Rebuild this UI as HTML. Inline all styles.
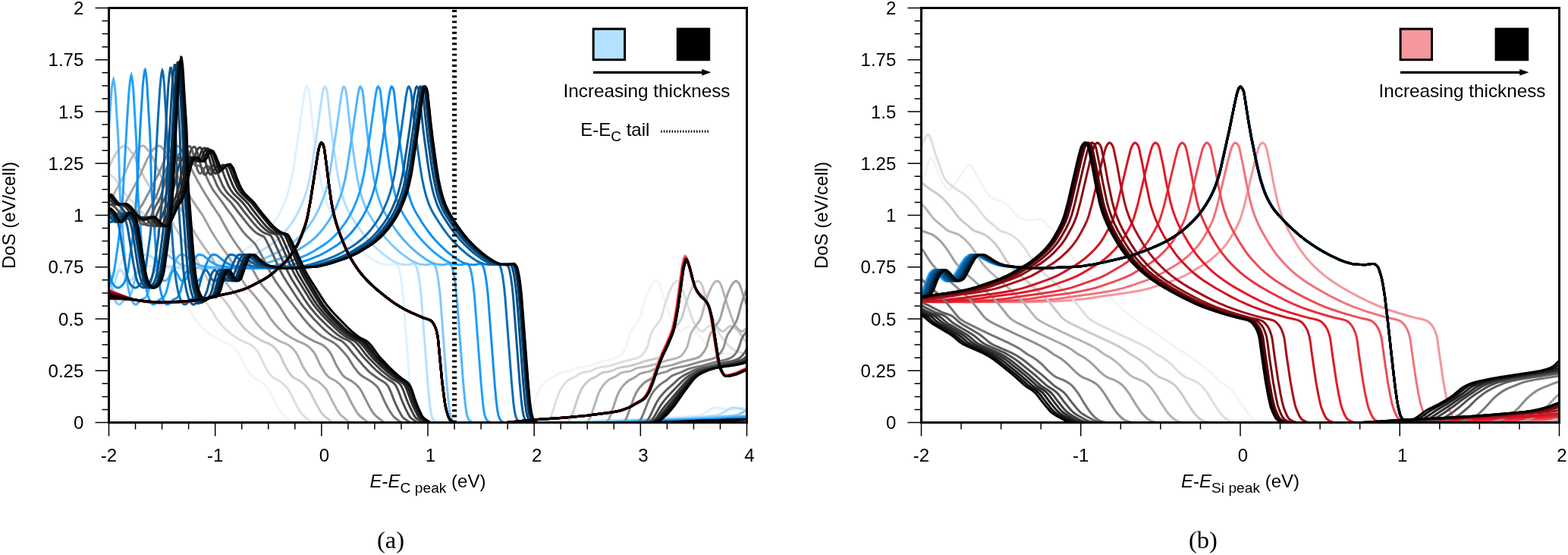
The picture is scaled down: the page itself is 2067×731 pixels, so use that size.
<!DOCTYPE html>
<html lang="en"><head><meta charset="utf-8"><title>DoS versus energy for increasing thickness</title>
<style>
html,body{margin:0;padding:0;background:#fff;}
body{width:2067px;height:731px;overflow:hidden;}
svg{display:block;}
text{font-family:'Liberation Sans', sans-serif;fill:#000;}
.tl{font-size:24px;}
.tk{stroke:#000;stroke-width:1.5;fill:none;}
.bd{stroke:#000;stroke-width:3;fill:none;}
.c{fill:none;stroke-width:3;stroke-linejoin:miter;stroke-linecap:butt;}
.cap{font-family:'Liberation Serif', serif;font-size:32.5px;}
.it{font-style:italic;}
.sub{font-size:19.2px;}
</style></head><body>
<svg width="2067" height="731" viewBox="0 0 2067 731">
<rect x="0" y="0" width="2067" height="731" fill="#fff"/>
<defs><clipPath id="clipA"><rect x="143.5" y="10.5" width="841" height="546"/></clipPath>
<clipPath id="clipB"><rect x="1214.5" y="10.5" width="841" height="546"/></clipPath></defs>
<g id="panel-a">
<g class="axis" id="axis-a">
<path class="tk" d="M143.5 556.5h-18M143.5 539.44h-9M143.5 522.38h-9M143.5 505.31h-9M143.5 488.25h-18M143.5 471.19h-9M143.5 454.12h-9M143.5 437.06h-9M143.5 420h-18M143.5 402.94h-9M143.5 385.88h-9M143.5 368.81h-9M143.5 351.75h-18M143.5 334.69h-9M143.5 317.62h-9M143.5 300.56h-9M143.5 283.5h-18M143.5 266.44h-9M143.5 249.38h-9M143.5 232.31h-9M143.5 215.25h-18M143.5 198.19h-9M143.5 181.12h-9M143.5 164.06h-9M143.5 147h-18M143.5 129.94h-9M143.5 112.88h-9M143.5 95.81h-9M143.5 78.75h-18M143.5 61.69h-9M143.5 44.62h-9M143.5 27.56h-9M143.5 10.5h-18M143.5 556.5v18M178.54 556.5v9M213.58 556.5v9M248.62 556.5v9M283.67 556.5v18M318.71 556.5v9M353.75 556.5v9M388.79 556.5v9M423.83 556.5v18M458.88 556.5v9M493.92 556.5v9M528.96 556.5v9M564 556.5v18M599.04 556.5v9M634.08 556.5v9M669.12 556.5v9M704.17 556.5v18M739.21 556.5v9M774.25 556.5v9M809.29 556.5v9M844.33 556.5v18M879.38 556.5v9M914.42 556.5v9M949.46 556.5v9M984.5 556.5v18"/>
<text class="tl" text-anchor="end" x="110.3" y="565.1">0</text>
<text class="tl" text-anchor="end" x="110.3" y="496.85">0.25</text>
<text class="tl" text-anchor="end" x="110.3" y="428.6">0.5</text>
<text class="tl" text-anchor="end" x="110.3" y="360.35">0.75</text>
<text class="tl" text-anchor="end" x="110.3" y="292.1">1</text>
<text class="tl" text-anchor="end" x="110.3" y="223.85">1.25</text>
<text class="tl" text-anchor="end" x="110.3" y="155.6">1.5</text>
<text class="tl" text-anchor="end" x="110.3" y="87.35">1.75</text>
<text class="tl" text-anchor="end" x="110.3" y="19.1">2</text>
<text class="tl" text-anchor="middle" x="143.5" y="608.1">-2</text>
<text class="tl" text-anchor="middle" x="283.67" y="608.1">-1</text>
<text class="tl" text-anchor="middle" x="427.33" y="608.1">0</text>
<text class="tl" text-anchor="middle" x="567.5" y="608.1">1</text>
<text class="tl" text-anchor="middle" x="707.67" y="608.1">2</text>
<text class="tl" text-anchor="middle" x="847.83" y="608.1">3</text>
<text class="tl" text-anchor="middle" x="988" y="608.1">4</text>
</g>
<g clip-path="url(#clipA)">
<path class="c" stroke="#f4f4f4" d="M142.1 262l12.7 13.7 12.3 12.3 .7 .9 12.3 18.2 8.4 13 13.7 19.2 2.9 4.7 6.6 12.1 6 10.4 4.9 7.9 3.6 4.7 8.1 8.8 9.1 11.3 4.2 6 8.5 13.6 5.6 7.2 3.9 4.5 3.5 3.6 4.2 3.6 4.2 3.1 5.3 3.4 5.6 3.1 4.9 2.5 7.1 2.8 2.8 1.5 3.2 2.1 3.5 3.3 3.1 3.7 1.8 2.5 2.1 4 5.6 12 5.7 9.1 1.4 2 2.4 2.8 2.1 1.7 2.2 1.3 5.6 2.9 3.1 2.3 3.2 2.7 3.2 3.2 2.4 3 1.8 2.8 7.4 14.8 4.9 9 2.8 4.4 4.2 4.6 5.3 4.1 3.2 2.8 2.1 1.2 1.1 .1 305.6-.1 1.1-.6 1.4-1.4 1.7-2.2 1.1-2 3.5-9.8 6-18.2 1.7-4.4 2.1-4.5 2.2-3.5 2.1-2.8 3.5-3.9 3.2-2.7 2.8-1.6 6.3-3 5.3-3.6 2.1-1.1 3.1-.8 8.8-1.5 1.8-.6 4.9-2.5 2.1-.8 4.6-1.1 9.9-1.6 4.2-.9 4.9-1.4 13.4-4.4 13.3-3.2 3.5-1.2 2.9-1.3 1.4-1 1.7-1.7 3.2-4.2 3.2-5.7 1-3.3 3.2-12.2 .7-2 1-2.3 2.5-4 7.7-10.6 1.8-3.2 1.4-4 4.2-15.3 3.9-11.3 2.8-6.9 2.8-5.7 1.8-2.9 2.4-2.4 1.8-1 1.4 .2 1.4 .9 1.4 1.3 1.1 1.9 1.7 4.8 8.5 26.7 6.3 17.6 1.4 3.2 1.4 2.4 3.2 3.7 2.1 2.1 2.1 1.2 1.1 .3 1-.1 1.8-1 4.2-4.1 2.1-1.4 1.1-.2 1 .1 2.8 1 4.6 3 1.4 1.3 2.1 2.9 5.7 8.7 6.3 7.4 3.5 3.7 2.1 1.7 2.1 1.3 4.9 2 4.3 1.5 6.6 1.7 3.2 .4 2.8 .1 10.2-.5 14.8-1.8"/>
<path class="c" stroke="#dff1ff" d="M142.1 366.7l1.8 2.4 .7 .7 .7 .2 1-.1 1.1-.3 1.7-1.1 1.1-.8 1.7-3.2 2.9-6.7 3.5-9.1 3.1-7 1.1-1.9 1.8-2.2 1.4-1.5 1-.6 .7-.1 2.1 .1 3.2 .7 1.4 .9 3.2 2.8 5.6 4.4 4.6 2.9 4.5 2.1 7.1 1.5 16.5 2.1 7.4 .5 14.1-.3 10.2-1 14.7-1.1 4.3-.7 5.2-1.1 9.2-2.5 16.5-5.5 6.7-2.7 6-2.6 9.1-4.8 12.3-7.6 7.4-5.4 7.1-6.2 5.2-5.5 5-6 5.9-8.4 4.3-6.8 3.8-7.3 3.5-7.7 3.9-9.8 2.8-8.5 3.5-13.8 2.9-14.2 8-53.6 4.3-30.8 2.4-16.1 1.8-7.5 .7-1.4 .3-.4 .4-.1 .7 .8 1 2 .8 2.1 .7 3.1 4.2 39.3 2.4 20.5 5 35.2 2.8 17.4 2.8 13.6 2.5 9.5 3.5 10.4 1.7 4.3 2.1 4.6 3.2 5.7 7.4 11.8 5.3 7.7 5.6 7.5 5.3 6.3 5.6 6.1 5.6 5.4 6 5.3 4.6 3.6 7.4 5.3 3.8 2.4 3.6 1.7 5.9 2.3 5.7 .7 4.5 .1 5.3-1.1 2.1-.2 .7 .4 1.1 1 1.4 2 .7 1.4 1 3.8 1.8 8.8 1.4 9.8 1.4 12.8 2.1 25.7 7.1 94.2 2.4 25.4 1.4 9.9 1.1 5.1 1 2.9 1.1 2.1 .7 .9 2.1 1.8 1.4 .8 1.4 .3 163.9 0 14.8-.4 35.5-1.7 52.1-1.4 27.4-1 45-2.4 21.5-1.6 7.4-.9 2.8-.5 1.8-.6 7.7-4.5 5.3-3.3 2.1-.9 1.7-.4 3.6 .1 7 1.3 7 .9 5.6 .4 2.9-.3 5.9-1.2 6-.9 3.2-.3 2.8-.1"/>
<path class="c" stroke="#f4979e" d="M142.1 380.9l6.7 3.2 18.3 7.4 7.4 2.6 5.6 1.6 18.3 2.6 9.8 .6 15.5-.1 21.5-1.2 10.5-1.1 12.3-2.1 14.1-3.7 24.3-5.4 10.5-2.8 7-2.5 7.1-3.1 15.1-7.9 7.7-4.8 5.7-4.4 12.3-10.9 3.5-3.5 4.2-4.9 5.3-7 4.6-7.2 3.5-6.4 3.5-8.1 5.6-15.3 1.8-5.9 1.4-5.8 3.5-18.9 8.8-55.4 2.1-12 1.1-4.7 1-3 1.1-1.9 .7-.8 .3-.1 .4 .1 .7 .6 1 1.7 .7 1.8 .8 2.6 3.1 22.2 2.8 22.5 3.9 27 1.8 9.4 2.4 10.3 2.5 8.6 2.4 7.5 3.2 8.6 3.9 9.7 3.1 7.3 2.9 5.9 3.1 5.9 3.9 6.6 3.9 6 4.2 5.9 4.2 5.2 4.9 5.4 5 5 5.6 5.2 6.7 5.7 7.7 6.3 6.7 5 6.3 4.4 6 3.7 6 3.4 7.7 3.8 8.8 3.9 7.7 3.3 7.1 2.3 2.8 1.3 1.4 1.1 1.4 1.6 1.4 2.2 1.4 2.7 1.1 2.7 1 3.3 1.8 8.2 5.6 58.5 2.5 20.1 1.7 11.7 2.1 8.7 1.5 4.6 1 2.7 1.4 2.5 2.1 1.8 1.8 1.1 1.4 .6 1.4 .3 62.6 0 5.6-.1 9.9-.8 23.9-2.6 40.1-2.7 18.3-1.6 15.1-1.6 32.4-4.3 6.7-1.1 4.5-1.2 5.7-1.9 5.6-2.3 .3-1.2 12.7-7.1 2.5-1.6 2.4-2.1 2.1-2.6 2.8-4.5 2.2-4.3 3.8-10 5.3-16.3 4.6-12.5 3.8-9.5 5.7-12.4 4.2-9.9 1.8-4.6 1.4-4.3 1.4-5.3 1.4-6.5 3.5-20.2 7-52.1 2.5-10 .7-1.8 .7-.8 .7 .2 .7 1.1 1.4 3.7 2.5 8.1 2.4 10.4 2.5 9.2 1 3.5 1.5 3.4 2.4 4.6 2.8 3.9 1.8 2 4.6 4.3 2.8 3.5 1.7 2.9 1.4 3.5 2.2 7.9 1.7 8.7 9.2 59.5 .7 3.2 .7 2.1 3.1 6.8 2.1 3.2 1.8 1.4 1.4 .2 3.2-.3 4.5-1 6.4-1.9 15.8-7.2"/>
<path class="c" stroke="#dedede" d="M142.1 228.7l1.8 .8 4.5 2.9 2.5 2.1 2.1 2.9 5.6 9.4 6.7 8.5 7.8 8.9 5.9 6.5 6.4 6.7 10.9 10.8 12.6 18.7 8.5 13 14 19.7 2.9 4.7 6.3 11.5 6.3 11 4.9 7.9 3.9 5 8.1 8.9 8.8 10.8 3.9 5.5 8.4 13.7 7 9.2 3.6 4.1 3.1 3.1 3.9 3.4 4.2 3.2 4.9 3.2 5.3 2.9 4.2 2.2 6.4 2.7 2.8 1.4 2.8 2 3.2 3 3.1 3.8 2.1 3.1 1.8 3.4 5.6 12.5 6.3 10.5 2.2 2.5 2.1 2 2.4 1.6 5.3 2.7 2.5 1.6 4.2 3.4 3.9 4 2.1 2.6 1.7 2.8 7.4 14.7 4.9 9 2.9 4.4 2.1 2.5 2.4 2.5 4.9 3.8 3.6 3 1.7 1 1.1 .1 306.7 0 1-.1 1.1-.7 1.4-1.4 1.8-2.3 1-2 3.2-8.9 6.3-19.2 1.8-4.4 2.1-4.4 2.1-3.5 2.1-2.8 3.5-3.8 3.2-2.7 2.5-1.4 6.6-3.1 5.3-3.7 2.1-1 2.8-.7 9.2-1.6 2.1-.8 4.9-2.5 1.8-.6 4.5-1.1 9.9-1.6 4.2-1 4.9-1.4 13.4-4.3 13.4-3.2 3.1-1.1 2.9-1.3 1.7-1.2 1.8-1.7 2.8-3.7 3.1-5.5 1.5-4.2 3.1-12.2 1.4-3.5 2.8-4.7 7.8-10.6 1.7-3.2 1.4-4.1 3.9-14.2 4.2-12.4 2.8-6.9 2.9-5.6 1.7-2.8 2.5-2.4 1.7-.9 1.4 .2 1.5 1 1.4 1.4 1 1.9 1.4 3.9 8.8 27.7 5.6 15.8 1.5 3.4 1.4 2.8 1 1.5 3.2 3.6 1.7 1.6 1.4 1 1.5 .4 1 0 1.1-.4 1-.7 4.2-4.1 1.8-1.2 1.1-.3 1 0 2.8 1 3.2 1.9 2.8 2.3 2.1 2.7 4.2 6.7 1.8 2.5 7.4 8.6 2.1 2.1 2.1 1.8 2.8 1.7 7.7 3 5.7 1.6 4.9 .8"/>
<path class="c" stroke="#b5dfff" d="M142.1 393.4l1.8-.7 1-1 1.4-2.3 2.1-4.7 1.1-3.5 2.1-9.3 2.5-9.1 1-2.9 2.1-3.3 .7-.7 .7-.3 .7 .1 .7 .6 2.5 3.6 2.8 5.9 1.8 2.6 1 1.2 .7 .4 1.1 0 1-.3 1.4-.8 1.8-1.3 1.4-2.5 3.2-7.5 3.5-9.1 3.5-7.7 1.1-1.6 1.7-2.1 1.1-1 1-.6 2.9 0 2.1 .4 1 .4 1.4 .9 2.8 2.5 6 4.7 4.6 2.9 2.5 1.2 2.1 .8 7 1.6 16.5 2 7.4 .5 14.1-.3 10.2-1.1 14.8-1 4.5-.8 6.7-1.5 7.4-2.1 16.5-5.5 6.7-2.6 6-2.7 4.6-2.2 4.9-2.7 12.3-7.7 7.4-5.4 7-6.3 4.9-5.2 5-6 5.9-8.4 4.3-6.8 3.8-7.3 3.6-7.8 3.8-9.7 2.8-8.6 3.6-13.8 2.8-14.4 7.7-51.2 4.6-33.3 2.4-16.1 1.1-4.8 .7-2.4 .7-1.3 .4-.4 .3 0 1.1 1.6 .7 1.4 1 3.6 .4 2.1 3.8 36.4 2.9 23.5 4.9 35.3 2.8 17.2 2.8 13.5 2.5 9.3 3.5 10.4 1.7 4.2 2.2 4.5 3.1 5.7 7.4 11.8 5.3 7.6 5.6 7.5 5.3 6.3 5.6 6.1 5.6 5.4 6 5.3 4.6 3.6 7.4 5.2 3.9 2.4 3.5 1.8 3.5 1.4 2.4 .8 5.7 .7 4.5 .1 5.3-1.2 2.1 0 .7 .3 1.1 1.1 1.4 2 .7 1.6 1.4 5.5 1.4 7.3 1.4 10.1 1.4 12.9 2.1 26 6.7 89.7 2.5 26.5 1.7 12.6 1.1 4.8 1.1 2.9 1 2 .7 .9 1.8 1.5 1.7 1 1.4 .3 163.2 0 15.2-.4 36.2-1.7 68.9-2 25.7-1.1 25.3-1.4 18.3-1.3 14.1-1.4 3.5-.6 1.8-.7 7.7-4.4 5.3-3.3 2.1-.9 1.8-.4 3.5 .2 7.4 1.3 9.1 1.1"/>
<path class="c" stroke="#f0747c" d="M142.1 382.3l6.7 2.8 21.8 7.9 8.8 2.5 8.1 1.3 12.3 1.5 10.9 .6 15.5-.3 20-1.1 9.5-1.1 12.7-2.2 13.7-3.5 24.3-5.4 10.9-2.9 6.6-2.4 7.1-3.1 15.1-7.9 7.7-4.8 5.7-4.3 12.3-11 3.5-3.4 4.2-4.9 5.3-7 4.6-7.2 3.5-6.4 3.5-8 5.6-15.4 1.8-5.9 1.4-5.7 3.5-18.9 8.8-55.5 2.1-12.1 1.1-4.7 1-3 1.1-1.9 .7-.8 .3-.1 .4 .1 .7 .6 1 1.7 .7 1.8 .8 2.7 3.1 22.2 2.8 22.6 3.9 27 1.8 9.3 2.4 10.4 2.5 8.5 2.4 7.5 3.2 8.6 3.9 9.7 3.1 7.3 2.9 5.9 3.1 5.9 3.9 6.6 3.9 6 4.2 5.8 4.2 5.2 4.9 5.5 5 4.9 5.6 5.2 6.7 5.7 7.7 6.3 6.7 5 6.3 4.4 6 3.7 6 3.4 7.7 3.8 8.8 3.9 7.7 3.3 7.1 2.3 2.8 1.3 1.4 1.1 1.4 1.6 1.4 2.2 1.4 2.7 1.1 2.7 1 3.3 1.8 8.2 5.6 58.5 2.5 20.1 1.7 11.7 2.1 8.7 1.5 4.6 1 2.7 1.4 2.5 2.1 1.8 1.8 1.1 1.4 .6 1.4 .3 62.6 0 5.6-.1 9.9-.8 23.9-2.6 39.7-2.7 18.3-1.6 15.2-1.6 32.3-4.2 6.7-1.2 4.6-1.1 5.6-1.9 6-2.4 .3-1 13.1-7.3 2.4-1.6 2.5-2 2.1-2.6 2.8-4.5 2.1-4.3 3.9-9.9 5.3-16.2 4.5-12.4 3.9-9.5 5.6-12.2 4.2-9.9 1.8-4.5 1.4-4.2 1.4-5.2 1.4-6.5 3.5-20 7.1-51.9 2.4-10 .7-1.8 .7-.9 .7 .2 .8 1.1 1.4 3.7 2.4 8.1 2.5 10.3 2.4 9.2 1.5 4.4 1 2.4 2.5 4.5 2.8 4 1.7 1.9 4.6 4.3 2.8 3.5 2.1 3.6 1.4 3.9 2.2 8.2 1.4 7.1 9.1 59.1 .7 3.2 .7 2.2 3.2 6.8 2.1 3.1 1.7 1.5 1.5 .2 3.1-.3 4.6-1 6.3-1.9 15.5-7"/>
<path class="c" stroke="#cacaca" d="M142.1 224.3l4.2-9.9 2.5-5.2 4.6-8 2.8-3.9 1-1 3.5-2.9 1.4-.8 1.5-.5 1.4 0 1 .4 1.1 .8 1.4 1.3 5.6 7 2.5 3.6 1.7 3.5 5.3 12.4 2.5 5 5.2 9.6 7.8 13.1 11.6 18.1 9.1 13.3 2.5 3.2 11.2 20.7 5.3 8.7 8.1 11.9 7.8 10.5 3.1 4.7 15.8 27.8 3.2 5.2 2.5 3.5 3.1 3.9 7.4 8.1 8.1 9.9 4.6 6.3 6.7 11 2.8 4.2 6.3 8.2 4.9 5.4 5.7 5 6.3 4.6 4.6 2.7 5.6 3.1 3.2 1.5 5.6 2.3 2.8 1.5 3.5 2.6 3.5 3.5 2.9 3.5 1.4 2.1 1.7 3.4 5.6 12.4 5.7 9.4 1 1.5 2.1 2.5 2.2 1.9 2.1 1.4 5.2 2.7 2.5 1.5 4.2 3.4 3.9 4 2.5 3 1.7 2.9 7 14.1 5.3 9.6 2.5 3.9 1.7 2.1 2.9 2.9 5.2 4.1 3.2 2.8 2.1 1.1 308.1 .1 1.1-.2 1.4-1 1.4-1.6 1.4-1.8 1.1-2.2 3.1-8.9 6.4-19.2 2.1-5.1 1.7-3.6 2.1-3.4 2.1-2.8 3.6-3.8 3.1-2.6 2.5-1.5 6.3-2.9 5.6-3.8 2.2-1.1 2.8-.7 6.3-.9 2.8-.6 2.1-.8 4.6-2.4 2.1-.7 4.6-1.1 9.5-1.6 4.2-.9 5.3-1.5 13-4.3 13.4-3.2 3.5-1.2 2.8-1.2 1.4-1 1.8-1.6 3.1-4.2 3.2-5.5 1.4-4.4 2.8-11 .7-2.2 1.1-2.3 2.4-4.1 7.8-10.6 2.1-3.8 1.4-4.3 3.8-14.1 3.9-11.4 2.8-7 2.8-5.7 1.8-3 1.1-1.2 1.4-1.3 1-.7 1.1-.4 1.4 .3 1.7 1.3 1.1 1.1 1.1 2.1 1.4 3.9 8.4 26.7 4.2 12 2.8 7.4 1.4 2.8 1.1 1.7 2.8 3.3 2.1 2 1.8 1.2 1.7 .5 1.1-.2 1.4-.8 4.6-4.4 1.7-1.2 1.1-.2 1.4 .1 1.4 .4 1.8 .9 4.2 2.9 1.4 1.4 1.7 2.4 5.3 8.2 6 7.2"/>
<path class="c" stroke="#7fc8ff" d="M142.1 334.5l2.5 27.8 1.4 10.2 1.7 9.8 2.1 8 2.1 5.8 1.1 1.8 1.8 2.2 1 .8 1.1 .2 1-.3 1.1-.7 3.9-4.1 1.4-1.2 1.7-.9 3.2-1.3 .7-.7 1-1.6 1.8-3.7 1.4-3.7 2.5-10.6 2.8-10.3 1-2.6 2.1-3.1 .8-.5 .7-.2 .7 .3 .7 .7 2.4 3.7 2.5 5.3 2.8 3.9 .7 .5 1.1 0 1.4-.4 1.4-.8 1.4-1.1 1.4-2.4 3.2-7.4 3.5-9.2 3.5-7.7 1-1.6 1.8-2.2 1.1-1 1-.7 .7-.1 2.1 .1 3.2 .7 1.4 .9 3.2 2.8 5.6 4.4 4.2 2.7 2.8 1.5 2.1 .8 6.4 1.4 16.8 2.2 7.8 .5 14.1-.3 10.5-1.1 11.6-.7 6.7-.9 10.2-2.4 15.5-4.9 9.5-3.4 8.1-3.5 7-3.5 9.8-5.8 7.8-5 7.4-5.8 7-6.6 5.6-6.3 6.4-8.5 4.9-7.5 4.6-8.4 4.5-10.1 4.3-10.9 2.1-6.7 1.7-6.6 2.1-9.1 1.8-8.9 8.4-55.7 6.4-45.1 1.7-8.5 1.1-2.6 .3-.5 .4-.1 .7 .8 1 2 .7 2 .7 3.1 4.3 39.4 2.4 20.6 5 35.4 2.8 17.4 2.8 13.5 2.4 9.5 3.6 10.4 1.7 4.3 2.1 4.5 3.2 5.7 7.4 11.7 5.3 7.7 5.6 7.5 4.9 5.9 5.6 6.1 5.3 5.2 6.3 5.6 4.6 3.6 7.1 5.1 4.2 2.7 3.5 1.8 3.9 1.6 2.4 .8 5.3 .7 4.9 .1 5.3-1.1 2.1-.2 1.1 .6 1 1.2 1.4 2.1 .7 1.9 1.8 7.6 1 6 1.4 10.5 1.5 13.5 8.7 116.2 2.5 25.5 1.4 9.9 1.1 5.2 1 2.9 1.1 2.1 .7 1 1.4 1.2 1.8 1.2 1.7 .5 162.9 0 15.4-.4 36.3-1.7 50.6-1.4 25.3-.9 45.8-2.3 16.5-1.2 13.7-1.3 3.9-.7 2.1-.8 7.4-4.3 4.2-2.6"/>
<path class="c" stroke="#ec4c56" d="M142.1 381.4l6.7 3 18.3 7.2 7.4 2.5 5.6 1.5 18.3 2.5 10.2 .7 15.5-.2 21.4-1.2 10.2-1 12.7-2.2 13.7-3.5 23.6-5.2 11.2-3 7-2.5 7.1-3.1 15.1-7.9 7.7-4.7 6-4.7 12.3-11 3.5-3.5 4.3-4.9 5.2-7.1 5-7.8 3.1-5.9 3.6-8.2 5.2-14.4 1.8-5.9 1.4-5.7 3.9-20.9 8.4-53.6 2.1-12.1 1.1-4.8 1-3 1.1-1.9 .7-.8 .3-.1 .4 .1 .7 .6 1 1.7 .7 1.8 .8 2.7 3.1 22.3 2.8 22.7 3.5 24.7 2.2 11.6 2.4 10.3 2.5 8.5 2.4 7.5 3.2 8.6 3.9 9.8 3.1 7.3 2.9 5.8 3.1 5.9 3.9 6.6 3.9 5.9 4.2 5.9 4.2 5.1 4.9 5.5 5.3 5.3 5.6 5.1 6.7 5.7 7.8 6.2 6.6 5.1 6.4 4.3 5.6 3.5 6 3.4 7.7 3.8 8.8 3.9 7.7 3.3 7.1 2.3 2.8 1.3 1.4 1.1 1.4 1.6 1.4 2.2 1.4 2.7 1.1 2.7 1 3.3 1.8 8.2 5.6 58.5 2.5 20.1 1.7 11.7 2.1 8.7 1.5 4.6 1 2.7 1.4 2.5 2.1 1.8 1.8 1.1 1.4 .6 1.4 .3 62.6 0 5.6-.1 9.9-.8 23.9-2.6 39.7-2.7 18-1.5 15.1-1.6 32.7-4.3 6.7-1.2 4.6-1.1 5.6-1.9 6-2.4 .3-.8 15.5-8.8 2.5-2 2.1-2.5 3.2-4.9 1.7-3.5 4.2-10.7 5.3-16.2 4.6-12.3 3.8-9.4 5.7-12.1 4.2-9.8 1.8-4.5 1.4-4.2 1.4-5.2 1.4-6.6 3.5-19.9 7-51.6 2.5-9.8 .7-1.8 .7-.8 .7 .3 .7 1.1 1.4 3.7 2.1 6.8 2.8 11.6 2.5 9.1 1.1 3.4 1.4 3.3 2.4 4.5 2.8 4 1.8 1.9 4.6 4.2 2.8 3.5 1.7 2.9 1.4 3.5 2.2 7.9 1.7 8.6 7.8 50.6 1.4 8.2 .7 3.2 .7 2.1 3.1 6.7 1.8 2.6 1.7 1.7 1.5 .4 3.5-.3 4.2-.9 6.3-1.9 15.5-7"/>
<path class="c" stroke="#b6b6b6" d="M142.1 270.4l3.2-5.6 15.8-29.6 3.5-7.2 7.4-17 3.2-5.8 2.8-4.8 1.7-2.4 1.4-1.6 3.2-2.6 1.8-1.1 1.4-.6 1.4 0 1 .3 1.4 1.1 1.8 1.9 4.6 6 2.4 3.7 2.1 4.5 5 12.1 2.4 5.1 6 11.3 8.5 14.7 9.8 15.8 7.7 11.7 2.5 3.2 10.9 20.1 4.9 8.2 8.8 13 7.8 10.5 3.5 5.3 15.5 27.2 3.1 5.2 2.5 3.5 3.1 3.9 7.1 7.6 8.1 9.9 4.9 6.9 9.1 14.7 6.4 8 5.2 5.8 5.7 4.9 6.7 4.7 4.5 2.8 6 3.1 3.2 1.5 5.6 2.3 2.8 1.4 3.5 2.5 3.9 3.8 2.8 3.4 1.4 2.1 1.8 3.3 6 12.9 5.6 9.2 1 1.4 2.2 2.5 1.7 1.6 2.5 1.7 5.3 2.6 2.4 1.6 4.2 3.4 3.9 4 2.1 2.5 1.8 2.8 7.4 14.8 5.2 9.5 2.5 3.9 2.1 2.5 2.5 2.5 4.9 3.8 3.5 3 1.1 .7 1 .4 311 0 1-.6 1.4-1.3 2.1-2.8 .7-1.4 3.5-9.8 6-18.2 1.8-4.4 2.1-4.5 2.1-3.6 2.1-2.8 3.5-3.8 3.2-2.7 2.8-1.7 6.3-2.9 5.3-3.7 2.1-1.1 3.2-.8 8.8-1.4 2.1-.8 4.6-2.4 2.1-.8 4.6-1 9.8-1.7 4.2-.9 4.9-1.4 13.4-4.4 13.4-3.2 3.5-1.2 2.8-1.3 1.4-1 1.8-1.6 3.1-4.2 3.2-5.7 1.1-3.2 3.1-12.2 .7-2.1 1.1-2.3 2.4-4 7.8-10.6 1.7-3.1 1.5-4 4.2-15.3 3.8-11.4 2.9-6.9 2.4-5.1 1.8-3 1.4-1.7 2.4-2 1.5-.3 1.4 .5 2.1 1.9 1 1.8 1.8 4.8 8.4 26.7 4.2 12 2.9 7.3 2.1 3.9 2.8 3.4 2.1 2.1 1.8 1.3 1.7 .6 1.4-.2 1.4-.9 5.3-4.9"/>
<path class="c" stroke="#4db4ff" d="M142.1 194.7l1.8-31.2 2.8-40.9 1-9.5 1.4-7.4 .4-1 1 4.1 1.1 7.7 .7 8 1.1 19.1 2.4 37.7 .7 17.4 1.4 51 .7 13.2 2.1 26.1 2.9 40.2 2.4 29.2 1.1 8.7 1.7 11.2 1.1 5.2 1.7 6.5 1.8 5.1 1.4 2.6 1.4 1.9 1.1 1 .7 .4 1 .1 1.1-.4 1-.8 5-5 1.7-1 3.2-1.2 .7-.6 1-1.5 1.5-2.8 1.7-4.3 2.8-11.9 2.8-10.1 .7-1.7 2.2-3.3 .7-.6 .7-.3 .7 .2 .7 .6 2.4 3.5 2.8 5.9 1.8 2.6 1.1 1.2 .7 .4 1 0 1.4-.5 1.4-.7 1.4-1.2 1.4-2.4 3.2-7.5 3.5-9.2 3.5-7.7 1.1-1.6 1.8-2.1 1-1.1 1.1-.6 2.8 .1 2.1 .4 1 .4 10.6 8.4 2.5 1.6 3.8 2.1 3.2 1.2 6.3 1.3 16.2 2 7.4 .5 14.1-.3 10.2-1.1 14.7-1 4.6-.8 6.7-1.5 7.4-2.1 16.5-5.5 6.7-2.6 6-2.6 4.5-2.3 5-2.7 12.3-7.6 7.4-5.5 7-6.2 4.9-5.2 4.9-6 6-8.4 4.2-6.7 3.9-7.2 3.5-7.8 3.9-9.7 2.8-8.5 3.5-13.7 2.8-14.2 8.1-53.8 4.3-31 2.4-16.2 1.8-7.4 .7-1.4 .3-.4 .4 0 1 1.5 .7 1.5 1.1 3.5 .4 2 3.8 36.5 2.8 23.7 5 35.3 2.8 17.3 2.8 13.4 2.5 9.4 3.5 10.3 1.7 4.2 2.1 4.5 3.2 5.7 7.4 11.7 5.3 7.7 5.6 7.5 5.3 6.2 5.6 6.1 5.6 5.4 6 5.2 4.6 3.7 7.4 5.2 3.8 2.4 3.5 1.8 3.6 1.4 2.4 .8 5.7 .7 4.5 .1 5.3-1.1 2.1-.2 .7 .4 1.1 1 1.4 2.1 .7 1.5 1.4 5.5 1.4 7.2 1.4 10 1.4 12.9 2.1 25.8 6.7 89.8 2.5 26.6 1.4 10.5 1 5.8 1.1 3.3 1 2.4 .7 1.1 1.4 1.3 2.2 1.5 1.7 .4 166.7-.1 13.4-.4 33.8-1.6 53.8-1.5 30.2-1.1 37.3-1.9 27.1-2.1"/>
<path class="c" stroke="#e8303c" d="M142.1 383.6l6.7 2.6 18.3 5.9 5.6 1.7 7 1.7 13.4 1.9 9.8 1 10.6 .3 15.5-.4 18.6-1.1 8.1-.9 12.7-2.2 13.3-3.4 24-5.2 11.9-3.3 6.7-2.3 7-3.2 15.2-7.9 7.7-4.8 5.6-4.4 12.3-11 3.5-3.4 4.3-5 5.2-7 5-7.8 3.1-5.9 3.6-8.2 5.2-14.4 1.8-5.8 1.4-5.7 3.9-20.9 8.4-53.7 2.1-12.1 1.1-4.8 1-3.1 1.1-1.9 .7-.8 .3-.1 .4 .1 .7 .7 1 1.6 .7 1.9 .8 2.7 3.1 22.4 2.8 22.7 3.5 24.7 2.2 11.6 2.4 10.3 2.5 8.5 2.4 7.5 3.2 8.6 3.9 9.7 3.1 7.3 2.9 5.8 3.1 5.9 3.9 6.5 3.9 6 4.2 5.8 4.2 5.2 4.9 5.4 5.3 5.3 5.6 5.1 6.7 5.7 7.8 6.2 6.6 5.1 6.4 4.3 5.6 3.5 6 3.4 7.7 3.8 8.8 3.9 7.7 3.3 7.1 2.3 2.8 1.3 1.4 1.1 1.4 1.6 1.4 2.2 1.4 2.7 1.1 2.7 1 3.3 1.8 8.2 5.6 58.5 2.5 20.1 1.7 11.7 2.1 8.7 1.5 4.6 1 2.7 1.4 2.5 2.1 1.8 1.8 1.1 1.4 .6 1.4 .3 62.6 0 5.6-.1 9.9-.8 23.9-2.6 39.7-2.7 18-1.5 15.1-1.6 32.7-4.3 6.7-1.2 4.6-1.1 5.6-1.9 6-2.4 .3-.7 13.4-7.4 2.5-1.5 2.4-2.1 2.1-2.5 3.2-4.9 1.8-3.6 4.2-10.7 4.9-15.1 4.6-12.3 4.2-10.3 5.6-12 4.2-9.8 1.8-4.5 1.4-4.2 1.4-5.3 1.4-6.6 3.5-20 6-44.5 1.1-6.8 2.4-9.5 .7-1.6 .7-.7 .8 .4 .7 1.2 1.4 3.8 2.1 6.8 2.8 11.6 2.4 9 1.1 3.3 1.1 2.6 2.4 4.6 2.8 4 1.8 1.9 4.9 4.6 2.8 3.5 1.8 3 1.4 3.6 2.1 8 1.8 8.7 7.7 50.5 1.4 8 1.1 4.1 1.7 4.1 1.8 3.4 1.7 2.6 1.8 1.6 1.4 .3 3.5-.3 4.6-1 6-1.8 15.1-6.8"/>
<path class="c" stroke="#a2a2a2" d="M142.1 287.3l4.9-1.3 6-2.6 2.1-1.6 2.5-2.9 4.9-7.1 2.5-4.1 15.4-28.7 5-9.8 8.1-18.5 5.6-9.9 1.7-2.6 1.4-1.6 2.9-2.4 1.7-1.2 1.4-.7 1.4-.3 1.1 .2 1.4 .8 2.8 2.9 4.6 5.7 2.1 3.2 2.1 4.1 4.9 11.7 2.1 4.4 5.3 9.9 7 12.1 5.3 8.6 7.1 10.9 9.1 13.4 2.8 3.8 10.9 20 5.3 8.8 8.4 12.5 7.8 10.5 3.1 4.7 9.5 16.8 8.8 15 2.5 3.7 2.1 2.7 8.8 9.7 9.5 11.8 3.5 5 9.2 14.7 5.6 7.1 4.2 4.7 3.9 3.8 4.9 4 5.6 3.8 6 3.5 6.3 3.2 7.1 2.9 3.1 1.6 3.2 2.2 3.5 3.3 3.2 3.7 1.7 2.6 1.8 3.3 5.6 12 6 9.8 1.1 1.4 2.1 2.5 2.1 1.9 2.1 1.4 5.3 2.7 2.4 1.6 4.3 3.4 3.8 3.9 2.5 3.1 1.7 2.8 7.1 14.2 5.3 9.5 2.4 3.9 2.1 2.6 2.5 2.5 5.3 4.1 3.1 2.7 1.4 .9 1.1 .3 309.9 0 2.1-.1 1-.6 1.4-1.3 1.8-2.2 1.1-1.9 3.5-9.5 5.9-17.5 1.8-4.2 2.1-4.4 2.1-3.4 2.5-3.2 3.5-3.7 3.2-2.7 2.4-1.5 6.4-3.3 5.2-3.8 2.5-1.3 3.2-.9 8.8-1.9 2.1-.9 4.5-2.4 2.5-.8 4.2-1 13.7-2.6 5-1.4 13.3-4.2 13.8-3.3 3.1-1.1 2.8-1.3 1.4-.9 1.8-1.7 3.2-4 3.1-5.6 1.1-3.2 2.8-10.6 .7-2.1 1.1-2.4 2.1-3.6 7.7-10.9 2.1-3.7 1.8-5 3.8-14.4 3.2-9.8 2.5-6.8 2.4-5.5 2.5-4.8 1.8-2.5 1.7-1.5 1.1-.7 .7-.2 1.4 .4 1 .8 1.4 1.5 1.1 1.8 1.4 3.7 9.5 29.4"/>
<path class="c" stroke="#1ea0ff" d="M142.1 376.6l2.5-2.5 1.7-3.4 2.1-6 1.8-6.7 1.4-8.4 3.9-27.1 3.1-25.3 2.1-21.7 1.4-19.9 5.3-95.6 2.5-37.6 1.4-14.3 1-6.2 .8-2.7 .7 2.5 1 6.6 1.1 11.6 3.8 65.9 1.8 61.9 .7 13.4 2.1 26.5 2.8 40.6 2.5 29.6 1 8.8 1.4 9.4 1.5 7.3 1.4 5.3 1.7 5.4 1.4 3.1 2.5 3.2 1 .7 .7 .1 1.1-.2 1.4-.9 4.9-5 1.8-1 3.5-1.5 1.4-1.7 1.8-3.4 1.7-4.5 2.5-10.5 3.2-11.3 .7-1.6 2.1-3.1 .7-.6 .7-.2 .7 .2 .7 .7 2.4 3.7 2.9 5.8 1.7 2.5 1.1 1.2 .7 .3 1 0 1.1-.3 1.4-.7 1.8-1.4 1.4-2.5 3.1-7.6 3.2-8.3 3.5-7.9 1.1-1.7 1.7-2.2 1.1-1.1 1-.8 .7-.1 1.8 .1 3.5 .7 1.4 .9 3.2 2.8 5.6 4.5 4.6 2.9 2.4 1.2 2.2 .9 7 1.5 16.2 2 7.4 .5 14-.3 9.9-1 15.1-1.1 4.6-.8 6.7-1.5 7.3-2.1 16.6-5.5 6.7-2.7 5.9-2.6 9.2-4.8 12.3-7.6 7.4-5.4 7-6.2 5.3-5.5 4.9-6.1 6-8.3 4.2-6.8 3.9-7.3 3.5-7.8 3.9-9.7 2.8-8.6 3.1-12.3 2.9-13.9 8.1-53.6 6.3-45.4 1.7-8.9 .7-2.2 .8-1.2 .3-.2 .7 .6 1.1 1.9 .7 2 .7 2.8 4.2 39.3 2.5 20.8 5.2 37.9 2.8 17 2.9 13.3 2.4 9.1 3.5 10.2 3.6 7.9 3.1 5.7 7.4 11.8 5.3 7.6 5.6 7.6 5.3 6.2 5.6 6.1 5.6 5.4 6 5.3 4.6 3.6 7.4 5.3 3.8 2.4 3.6 1.8 5.9 2.2 1.8 .4 4.2 .4 4.6 .1 4.9-1.1 2.1-.2 1.1 .5 1 1.1 1.4 2.1 .7 1.7 1.5 5.8 1.4 7.5 1.4 10.3 1.4 13.2 8.8 116 2.4 26 1.4 10.1 1.1 5.5 1.8 4.6 .7 1.2 1 1.1 2.5 1.9 1.7 .5 164.6 0 14.5-.5 35.5-1.6 49.6-1.3 22.1-.8 27.1-1.2 25.7-1.5"/>
<path class="c" stroke="#e41a28" d="M142.1 382.7l7 2.9 21.5 7.4 9.1 2.5 8.8 1.2 11.3 1.4 11.6 .5 15.8-.3 19.7-1.1 8.8-1 12.7-2.1 13.3-3.4 23.2-5 12.4-3.3 7-2.5 7-3.2 15.2-7.9 7.7-4.8 5.6-4.4 12.3-10.9 3.5-3.5 4.3-4.9 5.2-7.1 4.6-7.2 3.5-6.4 3.6-8.2 5.2-14.4 1.8-5.8 1.4-5.6 3.9-20.9 8.4-53.8 2.1-12.2 1.1-4.8 1-3 1.1-2 .7-.8 .3-.1 .4 .1 .7 .7 1 1.6 1.1 3 .4 1.6 3.1 22.5 2.8 22.7 3.5 24.8 2.2 11.6 2.4 10.2 2.5 8.5 2.4 7.5 3.2 8.6 3.9 9.7 3.1 7.3 2.9 5.8 3.1 5.9 3.9 6.5 3.9 5.9 4.2 5.8 4.2 5.2 4.9 5.4 5.3 5.3 5.6 5.2 6.7 5.6 7.8 6.2 6.6 5.1 6.4 4.3 5.6 3.5 6 3.4 7.7 3.8 8.8 3.9 7.7 3.3 7.1 2.3 2.8 1.3 1.4 1.1 1.4 1.6 1.4 2.2 1.4 2.7 1.1 2.7 1 3.3 1.8 8.2 5.6 58.5 2.5 20.1 1.7 11.7 2.1 8.7 1.5 4.6 1 2.7 1.4 2.5 2.1 1.8 1.8 1.1 1.4 .6 1.4 .3 62.6 0 5.6-.1 9.9-.8 23.9-2.6 39.7-2.7 18-1.5 15.1-1.6 32.7-4.3 6.7-1.2 4.6-1.1 5.6-1.9 6-2.4 .3-.6 13.8-7.6 2.4-1.5 2.5-2.1 2.1-2.5 2.8-4.4 2.1-4.3 4.2-10.8 5-15 4.5-12.3 3.9-9.3 5.6-12 4.2-9.7 3.2-8.6 1.4-5 1.4-6.4 3.5-19.7 7.1-51.3 2.4-10 .7-1.9 .7-.9 .4-.1 .4 .2 .7 1 1.4 3.6 2.4 8 2.5 10.1 2.4 9.2 1.5 4.4 1 2.4 2.5 4.5 2.8 3.9 1.7 2 4.6 4.2 2.8 3.4 2.1 3.6 1.4 3.7 1.8 6.6 1.8 8.4 9.1 58.6 .7 3.2 .7 2.2 3.2 6.7 1.7 2.7 1.8 1.7 1.4 .5 3.2-.2 4.2-.9 6.7-1.9 15.1-6.8"/>
<path class="c" stroke="#8e8e8e" d="M142.1 278.1l2.5 .1 2.4 1 2.5 1.5 7.4 5.2 2.1 1.1 2.1 .5 3.9-.1 4.5-1.1 6.4-2.5 1.4-.8 1-.8 1.8-1.9 2.4-3.4 4.3-6.2 2.8-4.9 16.9-31.6 3.1-6.6 7.1-16.2 1.7-3.4 4.2-7.3 1.8-2.5 1.4-1.6 2.8-2.4 1.8-1.2 1.4-.7 1.4-.3 1.1 .2 1.4 .8 2.1 2.2 4.5 5.9 2.9 4.4 2.1 4.5 4.5 11.3 2.9 5.9 5.9 11.2 8.8 15.2 9.5 15.3 7.4 11.1 2.8 3.8 10.6 19.4 4.9 8.3 8.8 13 8.1 11 3.5 5.3 15.1 26.6 3.2 5.2 2.5 3.5 3.1 3.9 7.4 8.1 8.1 9.9 4.6 6.3 9.5 15.2 6.3 8 5.3 5.8 5.6 4.9 6.7 4.7 4.6 2.8 5.9 3.1 3.2 1.5 5.6 2.3 2.8 1.4 3.6 2.5 3.8 3.8 2.8 3.4 1.4 2.1 1.8 3.4 5.6 12.2 6 9.8 1.1 1.4 2.1 2.5 1.7 1.6 2.5 1.7 5.3 2.7 2.1 1.3 4.2 3.3 3.9 3.9 2.4 3 1.8 2.8 7.4 14.7 5.3 9.6 2.4 3.8 2.1 2.5 2.5 2.5 4.9 3.8 3.5 3.1 1.4 .8 1.1 .3 311.3 0 2.1-.2 1.4-.8 1.4-1.5 1.4-1.6 1.1-1.9 3.1-8.1 6.4-17.8 1.7-4.1 2.1-4.2 2.1-3.3 2.5-3.2 3.9-4.1 3.1-2.6 8.1-4.7 6-4.5 2.8-1.4 2.8-.9 8.5-2.2 6.3-3.2 2.8-1 4.6-1.1 13.4-2.6 17.9-5.3 10.5-2.4 3.9-1.1 3.2-1.1 2.4-1.1 1.8-1.3 1.8-1.7 3.1-4.1 2.8-4.9 1.1-3.1 2.8-10.1 1.4-3.6 2.1-3.6 3.5-4.9 4.3-6.3 2.4-4.6 1.4-4 3.9-14.7 3.5-11.2 2.8-7.8 3.2-7.1"/>
<path class="c" stroke="#1090ee" d="M142.1 348.1l2.8 14.6 1.8 6.5 1.7 4 1.8 2.9 2.1 1.7 2.1 1.1 1.8 .1 2.1-.9 2.4-2 2.2-2.3 1.4-2.7 1.4-3.7 1.7-5.8 1.1-4.5 1.4-8.8 4.9-35.6 2.1-18.2 1.8-18.3 2.1-31.3 4.6-86.4 2.8-44.8 1.4-13.9 1-6.3 .4-1.5 .3-.3 .7 3.1 1.1 7.7 1.1 13.6 .7 14.4 2.8 46.4 .7 20.1 1 41.2 .7 16.9 2.5 32.6 2.5 36.5 2.4 30.6 1.1 9.7 1.4 9.8 1.4 7.7 1.4 5.6 1.8 5.6 1.7 3.9 2.5 3.2 1 .7 .7 .1 1.1-.2 1.4-.9 3.9-4 1.4-1.2 4.9-2.2 .7-.7 1.1-1.5 1.7-3.7 1.4-3.5 2.8-11.8 2.8-10 .8-1.7 2.1-3.2 .7-.6 .7-.3 .7 .2 .7 .6 2.4 3.5 2.9 5.8 1.7 2.6 1.1 1.1 1 .6 .7 0 1.4-.3 1.4-.8 1.4-1 1.5-2.2 3.1-7.6 3.5-9.3 3.6-7.8 1-1.7 1.8-2.2 1-1 1.1-.7 3.1 .2 1.8 .3 1.1 .4 10.5 8.6 6 3.5 3.2 1.2 6.3 1.3 15.8 2 7.4 .5 14.1-.3 9.8-1 15.1-1.1 4.6-.8 6.7-1.5 7.4-2.1 16.5-5.5 6.7-2.7 6-2.6 4.5-2.3 5-2.7 12.3-7.6 7.4-5.5 7-6.2 5.3-5.6 4.9-6.1 6-8.4 4.2-6.8 3.9-7.4 3.5-7.9 3.5-8.9 2.8-8.5 3.2-12.3 2.8-13.9 8.1-53.6 6.3-45.5 1.1-5.9 1-4.3 .7-1.6 .7-.8 .7 .6 1.1 1.9 .7 2 .7 2.8 4.2 39.4 2.5 20.8 4.9 35.6 2.8 17.5 2.8 13.6 2.5 9.5 3.5 10.4 1.8 4.3 2.1 4.5 3.2 5.7 7.3 11.7 5.3 7.7 5.6 7.5 5.3 6.2 5.6 6.1 5.7 5.4 6 5.3 4.5 3.6 7.4 5.3 3.9 2.4 3.5 1.8 6 2.2 1.7 .4 4.3 .4 4.5 .1 5-1.1 2.1-.2 1 .5 1.1 1.1 1.4 2.1 .7 1.7 1.4 5.8 1.4 7.5 1.4 10.3 1.4 13.2 8.8 115.9 2.1 22.9 1.4 11 1.4 7.8 1.8 4.6 1.4 2 2.5 2 1 .5 1.1 .2 163.2 0 15.5-.4 36.2-1.7 65.4-1.9 40.8-1.8"/>
<path class="c" stroke="#cf1522" d="M142.1 385.7l3.2 1.2 3.1 1 8.8 2.1 10.9 2.9 7.1 1.6 4.9 1 18.6 2.4 9.5 .6 10.2 0 16.6-.7 14.4-1 7.7-.9 11.6-2 13-3.3 23.2-4.9 12.7-3.5 6.7-2.3 7-3.2 15.2-7.9 7.7-4.8 5.6-4.4 12.3-10.9 3.5-3.5 4.3-4.9 5.2-7 4.6-7.2 3.5-6.4 3.6-8.1 5.2-14.4 1.8-5.8 1.4-5.6 3.9-20.9 8.4-53.9 2.1-12.2 1.1-4.9 1-3 1.1-2 .7-.8 .3-.1 .4 .1 .7 .7 1 1.7 1.1 3 .4 1.6 3.1 22.5 2.8 22.8 3.5 24.8 2.2 11.5 2.4 10.3 2.5 8.5 2.4 7.4 3.2 8.6 3.9 9.7 3.1 7.3 2.9 5.8 3.1 5.8 3.5 6 3.9 6 4.2 5.8 4.3 5.2 4.9 5.5 5.3 5.3 5.6 5.2 6.7 5.6 7.7 6.3 6.7 5 6.3 4.4 6 3.7 6 3.4 7.7 3.8 8.8 3.9 7.7 3.3 7.1 2.3 2.8 1.3 1.4 1.1 1.4 1.6 1.4 2.2 1.4 2.7 1.1 2.7 1 3.3 1.8 8.2 5.6 58.5 2.5 20.1 1.7 11.7 2.1 8.7 1.5 4.6 1 2.7 1.4 2.5 2.1 1.8 1.8 1.1 1.4 .6 1.4 .3 62.6 0 5.6-.1 9.9-.8 23.9-2.6 39.4-2.7 17.9-1.5 15.2-1.6 32.7-4.2 6.7-1.2 4.5-1.1 6-2 6-2.4 .3-.5 13.8-7.6 2.4-1.5 2.5-2 2.1-2.5 3.2-4.9 1.7-3.6 4.2-10.7 5-15 4.5-12.2 4.3-10.2 5.6-12 4.2-9.6 1.8-4.5 1.4-4.2 1.4-5.2 1.4-6.6 3.5-19.9 6-44.3 1-6.7 2.5-9.5 .7-1.7 .7-.6 .7 .4 .7 1.1 1.4 3.9 2.1 6.7 2.8 11.5 2.5 9 1.1 3.3 1.4 3.3 2.1 3.8 2.8 4 2.1 2.3 4.2 3.8 2.8 3.4 2.1 3.5 1.4 3.6 2.2 7.8 1.7 8.7 7.8 50.2 1.4 8.1 1 4.1 1.8 4 1.7 3.4 1.8 2.6 1.8 1.6 1.4 .3 3.1-.2 4.6-1 6.3-1.8 14.8-6.7"/>
<path class="c" stroke="#767676" d="M142.1 279.1l11.3 3 4.9 1.6 4.9 1.1 8.1 2 4.9 2.1 4.9 1.8 1.4 .2 1.8-.2 2.8-.6 1.1-.5 1.4-1.5 1.7-2.8 14.5-26.7 2.1-5.1 3.5-9.5 3.9-11.9 2.1-5.6 2.1-5 2.1-3.7 2.1-3.2 1.8-2.2 5.9-4.4 2.5-2 6.3-8.3 1.1-1.1 1.4-.9 1-.4 1.1 0 .7 .2 1.4 1.7 1.8 3.1 4.5 11.8 1.8 3.4 1.4 1.7 1.1 .8 1 .3 2.5-.2 1.7 .5 2.5 1.4 1.4 1.6 2.8 4.9 3.2 7.5 3.9 8.3 2.8 5.2 2.4 3.9 11.3 14.9 8.4 12.1 5 6.4 9.1 13.7 4.2 5.8 3.2 3.8 2.8 3.1 8.4 7.8 2.2 2.4 2.4 3.9 6 10.6 8.8 17.4 3.9 7.2 6.3 10.6 4.6 6.6 13.3 17.6 8.1 10.4 9.2 12.3 5.2 6.3 5.3 5.8 4.2 4.1 4.6 4 4.6 3.5 4.2 2.7 2.8 1.6 6 3 3.5 2.1 3.5 2.5 3.5 3.1 4.6 4.7 6.7 7.7 2.1 3.2 6 9.8 5.6 7.5 1.4 1.6 2.5 2.3 2.4 2 8.1 4.8 5.3 3.5 2.8 2.3 2.5 2.3 1.8 2.1 2.1 3.5 2.4 4.9 4.2 9.5 3.2 6.3 3.2 5.9 2.8 4.3 2.8 3.7 1.8 1.7 7 5.3 1.1 .5 1 .4 310.2-.1 1.4-.6 1.4-1.3 1.8-1.9 1.1-1.7 3.1-7.4 6.4-16.3 3.8-7.7 2.1-3.2 2.1-2.7 3.6-3.9 2.8-2.6 2.8-2.2 6.3-4.1 5.3-4.4 2.1-1.5 4.6-2.1 8.4-2.9 7.1-3.6 5.9-1.7 13.8-2.8 17.9-5 12.7-2.9 4.5-1.5 3.5-1.6 1.8-1.4 2.1-2.1 2.1-2.7 2.1-3.2 1.4-3.3 2.9-9.2 1.4-3.6 1.7-2.9 3.9-5.3 2.1-3.4"/>
<path class="c" stroke="#0a6cb5" d="M142.1 284.8l2.1-2.7 1.1-1.1 1-.5 1.4 .3 1.1 .6 1 1 2.5 3 1.1 2.1 1.4 3.8 1.7 6.1 1.1 5.1 6.3 40.2 3.5 18.8 1.8 7 2.4 5.6 1.8 2.4 2.1 1.6 2.1 .9 1.8-.1 1-.4 1.4-.9 3.2-3 1.4-2.2 1.4-3.3 2.8-9.2 1.8-9.9 5.3-38.1 3.1-28.8 1.1-12.5 1.4-21.3 4.9-92.2 2.5-39 1.4-15.5 1-6.9 .8-3 .3 .5 .4 1.5 1 6.7 1.1 12 1 20.4 2.8 46.2 1.8 62.1 .7 15 2.1 27 2.8 40.8 2.1 26.3 1.8 16.1 1.4 9.1 1.4 7.1 1.8 6.4 1.7 5 1.1 2.1 2.1 2.9 1 .9 .7 .3 .7 0 1.1-.3 1.8-1.3 3.1-3.4 1.4-1.2 1.8-1 3.2-1.2 .7-.5 .7-.9 1.7-3.3 2.1-5.1 2.5-10.4 3.2-11.2 .7-1.7 1-1.7 1.1-1.4 .7-.6 1-.3 .7 .4 .7 .8 2.2 3.1 2.8 5.8 1.7 2.5 1.4 1.3 1.1 .5 1.4-.1 1.8-.9 1.7-1.3 1.8-3.3 2.8-6.9 3.1-8.5 3.2-7.3 1.1-1.9 2.1-2.7 1-1 1.1-.7 3.2 .2 1.7 .3 1.1 .5 10.9 8.9 4.5 2.7 3.2 1.4 4.6 1.1 5.6 .9 13 1.6 6 .4 15.1-.4 9.9-1 12.6-.8 5.3-.7 8.8-2 6.3-1.8 14.8-4.9 10.2-4 6-2.7 4.9-2.6 13.4-8 4.6-3.1 3.8-2.9 4.2-3.5 3.9-3.6 3.9-4 3.5-4.1 3.9-5 4.2-5.9 3.2-4.9 2.8-4.9 2.4-4.8 2.5-5.3 4.2-10.3 2.8-8.1 2.8-10.3 2.9-12.7 1.7-10 7.4-49.5 6.3-45.5 1.8-8.8 .7-2 .7-1.2 .4-.1 .7 .7 1 2 .7 2.1 .7 3.1 4.2 39.8 2.5 20.6 4.9 35.6 2.8 17.3 2.9 13.5 2.4 9.4 3.5 10.3 1.8 4.3 2.1 4.4 3.2 5.7 7.4 11.7 5.2 7.6 5.7 7.5 5.2 6.3 5.7 6 5.6 5.4 6 5.3 4.5 3.6 7.4 5.2 3.9 2.5 3.5 1.7 6 2.2 5.6 .8 4.6 .1 5.3-1.1 2.1-.2 1 .6 1.1 1.1 1.4 2.2 .7 1.8 1.8 7.6 1 5.9 1.4 10.5 1.4 13.4 8.5 111.6 2.4 27.1 1.4 10.7 1.1 6.1 .7 2.5 1.1 2.7 1 1.9 .7 .8 2.5 1.9 1 .5 1.1 .2 162.1 0 15.9-.4 36.5-1.7 53.5-1.5 30.6-1.1"/>
<path class="c" stroke="#a8101a" d="M142.1 381.8l6.7 3 17.9 6.7 7.4 2.4 6 1.5 17.9 2.4 10.9 .6 15.9-.2 21.1-1.1 9.8-1.1 12.7-2.1 13.3-3.3 21.8-4.6 13.1-3.4 7-2.4 7-3.2 15.5-8 7.7-4.7 6-4.7 12.3-10.9 3.5-3.4 4.3-4.9 5.2-7 4.6-7.2 3.5-6.4 3.6-8.1 5.2-14.4 1.8-5.8 1.4-5.5 3.9-20.9 8.4-54 2.1-12.3 1.1-4.8 1-3.1 1.1-2 .7-.8 .3-.1 .4 .1 .7 .7 1 1.7 1.1 3 .4 1.6 3.1 22.7 2.8 22.8 3.5 24.9 2.2 11.4 2.4 10.2 2.5 8.5 2.4 7.5 3.2 8.5 3.9 9.7 3.1 7.3 2.9 5.8 3.1 5.8 3.5 6 3.9 5.9 4.2 5.9 4.3 5.2 4.9 5.4 5.3 5.3 5.6 5.2 6.7 5.6 7.7 6.3 6.7 5 6.3 4.4 6 3.7 6 3.4 7.7 3.8 8.8 3.9 7.7 3.3 7.1 2.3 2.8 1.3 1.4 1.1 1.4 1.6 1.4 2.2 1.4 2.7 1.1 2.7 1 3.3 1.8 8.2 5.6 58.5 2.5 20.1 1.7 11.7 2.1 8.7 1.5 4.6 1 2.7 1.4 2.5 2.1 1.8 1.8 1.1 1.4 .6 1.4 .3 62.6 0 5.6-.1 9.9-.8 23.9-2.6 39-2.6 18-1.6 15.1-1.5 33.1-4.3 6.7-1.2 4.5-1.1 6-2 6-2.4 .3-.4 16.2-9.1 2.5-1.9 2.1-2.5 3.2-4.8 1.7-3.5 4.2-10.7 5.3-15.9 4.6-12.2 3.9-9.3 5.6-11.9 4.2-9.6 3.2-8.6 1.4-5.1 1.4-6.4 3.5-19.7 7-51.1 2.5-9.8 .7-1.8 .7-.8 .7 .2 .7 1 1.4 3.7 2.5 8 2.4 10.1 2.5 9.1 1.4 4.3 1.1 2.4 2.4 4.5 2.8 3.9 1.8 1.8 4.6 4.2 2.8 3.5 2.1 3.6 1.4 3.8 2.1 8.1 1.4 7 9.2 58.3 .7 3.1 .7 2.1 3.1 6.7 1.8 2.7 1.8 1.6 1.4 .4 3.1-.2 4.6-1 6.3-1.8 14.8-6.6"/>
<path class="c" stroke="#5e5e5e" d="M142.1 272.2l3.9 2.3 4.5 4.7 5 4.4 5.6 3.4 1.8 .6 1.4 .1 5.2-1.2 4.6-.4 2.5 .2 1 .5 1.1 .8 7 6.4 1.8 1.3 1 .3 2.8 .3 1.4-.1 .8-.4 1-1.2 1.1-1.9 4.2-8.9 4.6-10.5 1.4-2.7 3.5-5.8 2.1-4.5 2.1-6.3 3.2-11 4.5-18.6 2.5-7.6 1.4-3.3 1.1-1.3 1.7-1.8 1.1-.8 1-.4 1.1 .1 2.4 1.4 1.1 .4 2.8 .2 1.1-.2 .7-.4 1.4-1.8 2.4-4.9 2.5-6.2 1.1-2.2 1-1.3 1.1-.9 1-.4 .7 .2 .7 .6 .7 1.3 1.8 4.4 1.4 4.6 4.9 19.1 1.1 2.7 1.4 2.2 .7 .6 .7 .3 1.1-.3 1-1.2 2.8-4.7 2.1-2.5 1.1-.9 1-.5 .7 0 1.1 .6 1.8 2.3 1.4 2.4 3.8 10.1 4.6 10.6 2.8 4.9 2.8 4.1 2.5 2.8 10.5 11 9.2 12.2 13.4 16.9 2.8 3.2 4.2 4.2 3.5 3 2.5 1.5 6 2.8 1.4 .9 1 1.2 2.5 4.3 7.4 15.5 8.8 19.5 5.2 10.2 5.3 8.8 14.4 22.2 3.9 5.6 4.6 5.9 6.7 8.1 5.6 6.5 9.5 9.7 6.7 6.3 4.5 3.8 4.6 3.4 3.9 2.4 7.4 3.5 2.1 1.5 2.4 2.2 3.9 4.2 8.8 11 11.6 13.4 7 7.6 3.6 3.1 3.1 2.4 6.7 4.6 6.7 4.2 2.5 1.8 1.7 1.7 1.8 2.5 2.4 4.9 1.4 3.2 3.9 10.2 2.5 5.6 2.8 5.9 4.2 7.7 1.8 2.6 1.7 1.8 6.4 4.4 2.1 1 308.1 0 1.4-.5 1.4-1 1.8-1.6 1-1.4 3.5-6.5 6.7-14.1 3.2-5.3 3.1-4.3 3.9-4.5 3.9-4 8.4-7.3 5.6-5.4 2.5-2.1 3.5-2.5 3.5-2 5.7-2.7 5.6-3.2 3.2-1.2 5.9-1.7 12.7-2.9 15.8-3.9 13.7-2.9 4.3-1.3 3.5-1.4 2.1-1.3 2.1-1.7 2.1-2.2 2.5-3.1 1.4-2.7 2.8-7.3"/>
<path class="c" stroke="#075a97" d="M142.1 289l2.1 2.2 1.1 .8 1 .5 1.1-.2 1.4-1.3 2.8-4.2 3.9-4.8 1-1 1.1-.5 1 .2 1.4 .8 1.4 1.4 1.8 2.1 1.1 1.9 1.4 3.6 2.4 8.8 7.8 48 3.1 16.3 1.1 4.2 1 2.8 1.8 3.7 1.8 2.3 2.8 1.9 1 .4 1.1 .1 1-.1 1.1-.5 2.8-2.1 2.1-2.3 1.8-3.4 1.4-3.8 1.7-6 1.8-9.4 5.3-38.1 3.1-28.6 1.4-16.8 1.5-22 4.9-93.8 2.4-39.5 1.4-15 1.1-6.8 .7-2.7 .7 3 1.1 7.4 1 14.1 3.9 67.7 1.7 62.9 .8 13.8 2.1 26.8 2.8 40.8 2.1 26.2 1.7 16 1.5 9.2 1.4 7.1 1.7 6.4 1.8 5.1 1.4 2.7 1.7 2.4 1.1 .9 .7 .4 1.1 .1 1-.4 1.8-1.3 3.1-3.3 1.4-1.2 1.8-1 3.2-1.2 .7-.5 .7-.8 1.7-3.2 2.1-5 2.9-11.6 2.1-7.6 1-3.2 1.8-3.1 1-1.4 .7-.5 1.1-.1 1.4 1.2 2.1 3.1 2.8 5.7 2.1 2.6 1.4 1.3 1.1 .4 1.4-.2 1.4-.7 1.8-1.3 .7-1 1-2.3 2.8-7 3.2-8.7 3.2-7.3 1-1.9 1.8-2.3 1-1.1 1.1-.7 .7-.1 2.1 .1 2.1 .4 1.1 .5 10.5 8.8 4.6 2.8 3.2 1.4 4.5 1.1 5.3 .9 12.7 1.6 6 .4 15.1-.4 9.8-1 12.7-.8 5.3-.7 8.8-2 6.3-1.8 14.8-4.9 10.2-3.9 5.9-2.8 5-2.5 13.3-8 4.6-3.1 3.9-2.9 4.2-3.5 3.9-3.6 3.8-3.9 3.6-4.1 3.8-5 4.2-5.9 3.2-4.9 2.8-4.9 2.5-4.7 2.4-5.3 4.6-11.2 2.8-8.2 2.8-10.4 2.5-11.2 1.8-9.9 7.4-49.4 4.5-33.7 2.1-14.2 1.8-8.1 .7-1.7 .7-.8 .7 .6 1.1 1.9 .7 2 .7 2.8 4.2 39.6 2.5 20.8 4.9 35.7 2.8 17.5 2.8 13.6 2.5 9.4 3.5 10.4 1.7 4.2 2.2 4.5 3.1 5.7 7.4 11.7 5.3 7.6 5.6 7.5 5.3 6.3 5.6 6 5.6 5.4 6 5.3 4.6 3.6 7.4 5.3 3.8 2.4 3.6 1.8 5.9 2.2 1.8 .4 4.2 .4 4.6 .1 4.9-1.1 2.1-.2 1.1 .5 1 1.1 1.4 2.1 .8 1.7 1.4 5.7 1.4 7.5 1.4 10.2 1.4 13.2 8.8 115.9 2.1 23 1.4 10.9 1.4 7.9 1.4 3.9 1.1 2 .7 .8 2.4 2 1.1 .5 1 .2 161.8 0 16.2-.4 36.9-1.7 49.6-1.4 23.6-.8"/>
<path class="c" stroke="#8a0c14" d="M142.1 384.4l6.7 2.5 23.5 6.8 7.4 1.6 14.8 2 10.2 .9 10.2 .2 15.8-.5 17.6-1.1 8.5-1 11.9-2 13-3.2 21.8-4.6 7.4-1.8 6.4-1.8 7-2.5 7-3.2 15.2-7.9 7.7-4.7 5.6-4.5 12.3-10.8 3.5-3.5 4.3-4.9 5.2-7 4.6-7.1 3.5-6.4 3.6-8.1 5.2-14.4 1.8-5.7 1.4-5.5 3.9-20.9 8.4-54.1 2.1-12.3 1.1-4.9 1-3.1 1.1-2 .7-.8 .3-.1 .4 .1 .7 .7 1 1.7 1.1 3 .4 1.7 3.1 22.7 2.5 20.3 3.8 27.5 2.2 11.4 2.4 10.2 2.5 8.4 2.4 7.5 3.2 8.6 3.9 9.6 3.1 7.3 2.9 5.8 3.1 5.8 3.5 5.9 3.9 6 4.2 5.8 4.3 5.2 4.9 5.4 5.3 5.3 5.6 5.2 6.7 5.7 7.7 6.2 6.7 5 6.3 4.4 6 3.7 6 3.4 7.7 3.8 8.8 3.9 7.7 3.3 7.1 2.3 2.8 1.3 1.4 1.1 1.4 1.6 1.4 2.2 1.4 2.7 1.1 2.7 1 3.3 1.8 8.2 5.6 58.5 2.5 20.1 1.7 11.7 2.1 8.7 1.5 4.6 1 2.7 1.4 2.5 2.1 1.8 1.8 1.1 1.4 .6 1.4 .3 62.6 0 5.6-.1 9.9-.8 23.9-2.6 39.4-2.7 17.9-1.5 15.2-1.6 32.7-4.2 6.7-1.2 4.5-1.1 6-2 6-2.4 .3-.4 14.1-7.7 2.5-1.6 2.4-2 2.1-2.5 2.9-4.3 2.1-4.3 4.2-10.7 4.9-15 4.6-12.1 3.9-9.4 5.6-11.9 4.2-9.6 3.2-8.4 1.4-5 1.4-6.3 3.5-19.6 7-51 .7-3.4 1.8-6.7 1-2.5 .8-.5 .7 .5 .7 1.3 2.8 8.3 5.6 21.6 1.4 4.4 1.1 2.5 2.4 4.5 2.8 3.9 1.8 1.9 4.6 4.2 2.8 3.4 2.1 3.6 1.4 3.6 1.8 6.6 1.7 8.2 9.2 58.3 1.4 5.6 3.1 6.7 1.8 2.7 1.8 1.7 1.4 .5 3.1-.2 4.2-.9 6.7-1.9 14.8-6.6"/>
<path class="c" stroke="#4e4e4e" d="M142.1 269.8l2.5-.4 1.4 .1 2.1 1 2.8 1.9 1.8 1.6 3.8 4.8 4.9 5.2 1.8 1.5 4.2 2.6 1.4 .5 1.4 .1 1.4-.3 4.3-1.5 4.2-.8 2.4 0 1.1 .4 1.1 .9 7.3 7.7 1.5 1.2 1 .5 2.1 .3 2.1 .2 .7-.3 1.1-1.1 1-1.9 4.6-10.1 4.6-10.8 1.4-2.7 3.5-5.7 2.1-4.7 2.1-6.7 3.2-11.7 4.2-18.5 2.5-8.1 1.4-3.5 .7-1 1.7-1.7 1.5-.9 1-.3 .7 .2 .7 .4 2.5 2.2 1 .6 2.8 .8 1.1-.1 .7-.3 1.4-1.9 2.1-4.3 2.8-7.3 1.1-2.2 1-1.2 1.1-.9 1.1-.3 .7 .2 .7 .8 .7 1.4 2.1 5.5 6 22.8 1 2.9 1.4 2.3 .7 .7 .7 .4 .7 0 .7-.4 1.1-1.4 2.8-5.3 2.5-3.4 1-1.1 1.1-.7 .7-.1 1 .5 2.5 3.1 1.1 2 3.8 10.4 4.6 10.6 2.8 5 2.8 4 2.5 2.8 9.1 8.8 2.5 2.6 9.1 12 13.1 15.9 3.1 3.4 4.6 4.3 3.2 2.4 2.8 1.5 5.9 2.1 1.5 .9 1 1.2 2.1 3.8 6.7 14.5 10.2 23.1 4.6 9 4.5 7.8 15.9 25.2 3.5 5.1 4.9 6.4 5.6 6.6 6.4 7 10.5 10.3 6.7 6 4.9 4 4.6 3.2 3.5 2.1 7.1 3.2 2.1 1.4 2.1 1.8 4.2 4.7 8.1 10.2 3.2 3.8 10.9 11.4 6.6 6.5 4.3 3.5 4.5 3.6 5 3.4 5.9 3.6 2.5 1.9 1.4 1.3 1.8 2.5 2.8 5.7 4.6 12.3 2.4 5.9 3.2 6.9 4.2 8.1 1.8 2.6 1.7 1.6 6 4 2.1 1 303.2 0 1.4-.5 1.8-1 1.4-1 1.4-1.6 3.1-4.8 5.7-10.1 2.4-3.9 3.6-4.9 4.9-5.9 4.6-5 8-8.2 7.1-7.4 4.2-3.7 4.2-3.2 10.9-6.3 2.5-1.1 4.2-1.4 6.7-1.8 14.1-3.2 22.8-4.8 6.3-1.8 2.9-1.1 2.4-1.5 2.5-1.9 2.8-2.9"/>
<path class="c" stroke="#064b7e" d="M142.1 279.3l1.4 2 2.8 5.8 1.1 1.7 2.4 2.6 1.8 1.1 1.1-.1 1-.9 3.2-4.6 3.5-4.4 1-1.2 1.1-.7 .7-.1 .7 .1 1.4 .8 1.8 1.8 1.7 2.2 1.1 2.1 1 2.7 2.5 8.6 1.1 5.8 6.6 42.1 3.2 16.4 1.1 4.3 .7 2.1 1.7 3.9 1.8 2.8 2.8 2.1 2.1 .7 1.1 0 1-.4 2.5-1.6 2.8-2.9 1.4-2.5 1.8-4.6 1.7-6 .7-3 1.1-6.1 5.3-38.4 3.1-28.7 1.4-16.8 1.4-22 5-95.2 2.4-40.4 1.4-15.8 1.1-7.2 .7-3.1 .7 2.8 1 7.7 1.1 14 1.1 20.5 2.8 46.2 1.7 61.5 .7 16 .7 10.7 1.8 21 2.8 40.3 1.8 21.7 1.7 17.2 1.4 9.4 1.4 7.5 1.8 6.5 1.8 5.2 1.4 3 1.7 2.3 1.1 1.1 1 .7 1.1 .2 1-.2 1.8-1.1 4.6-4.2 1.7-.8 3.9-1.2 1.4-1.4 1.8-3.1 2.1-4.9 2.8-11.4 3.2-10.6 1.7-3.1 1.1-1.4 .7-.6 1-.2 .7 .4 .7 .7 2.5 3.6 2.8 5.3 2.1 2.6 1.4 1.4 1.1 .4 1-.1 1.4-.6 1.8-1.2 1.1-1.5 1-2.4 5.6-15.1 3.2-7.6 1.1-1.9 1.7-2.3 1.1-1.2 1-.7 2.8 .2 2.2 .4 .7 .3 1 .7 3.2 3 6.3 5.3 4.2 2.7 2.8 1.3 4.3 1.1 5.2 .9 12.4 1.6 5.6 .5 15.5-.4 9.8-1 12.7-.8 4.5-.6 8.8-1.9 5.3-1.4 14.4-4.7 8.8-3.3 6-2.5 5.6-2.7 5.7-3.1 6.6-3.9 5.3-3.4 4.6-3.2 4.6-3.6 4.2-3.6 4.2-4.2 3.5-3.8 3.5-4.3 3.9-5.3 3.9-5.6 2.8-4.6 2.8-5.1 2.8-5.8 4.6-10.9 3.2-8.9 2.8-10 2.8-12.6 1.7-9.7 7.4-49.5 4.6-33.8 2.1-14.2 1.8-8.3 1-2.4 .4-.3 .3 .1 1.1 1.6 .7 1.6 1 3.8 .4 2.4 3.5 33.9 2.8 24.1 4.9 35.8 2.9 17.5 2.8 13.6 2.4 9.5 3.6 10.3 1.7 4.3 2.1 4.5 3.2 5.7 7.4 11.7 5.3 7.6 5.6 7.5 5.3 6.2 5.6 6.1 5.6 5.4 6.3 5.5 4.6 3.6 7.4 5.3 3.9 2.4 3.5 1.7 3.5 1.4 2.5 .8 5.6 .7 4.6 .1 5.2-1.2 2.2 0 1 .7 1.1 1.2 1 1.6 .7 1.6 1.4 5.7 1.4 7.3 1.4 10.2 1.5 13.1 2.1 26.1 6.6 89.6 2.5 26.4 1.4 10.2 1.1 5.7 1.4 4 1 2 .7 .8 2.8 2.2 1.1 .5 1.1 .1 161.1 0 16.1-.4 37.7-1.8 68.2-1.9"/>
<path class="c" stroke="#730a11" d="M142.1 392.7l1.4 .6 2.8 .3 11.3 .2 19.3 1.2 20.8 2.6 10.9 .7 10.5-.1 13.7-.5 12.7-.8 10.2-1 13-2.2 13-3.2 19.4-3.9 10.2-2.5 8.1-2.4 6.7-2.5 7.7-3.7 13.7-7.3 4.2-2.5 3.5-2.4 5.3-4.2 12.3-11 3.6-3.5 4.2-5 5.2-7.1 4.6-7.3 3.2-5.9 3.5-8.3 5.3-14.5 1.7-5.9 1.4-5.9 3.6-19.2 8.4-54.2 2.1-12.3 1.1-5 1-3.1 1.1-2 .7-.8 .3-.1 .4 .1 .7 .7 1 1.7 1.1 3.1 .4 1.6 3.1 22.8 2.5 20.3 3.8 27.6 2.2 11.3 2.4 10.2 2.5 8.5 2.4 7.4 3.2 8.6 3.9 9.7 3.1 7.2 2.9 5.8 3.1 5.8 3.5 5.9 3.9 5.9 4.2 5.9 4.3 5.1 4.9 5.4 5.3 5.3 5.6 5.2 6.7 5.7 7.7 6.2 6.7 5 6.3 4.4 6 3.7 6 3.4 7.7 3.8 8.8 3.9 7.7 3.3 7.1 2.3 2.8 1.3 1.4 1.1 1.4 1.6 1.4 2.2 1.4 2.7 1.1 2.7 1 3.3 1.8 8.2 5.6 58.5 2.5 20.1 1.7 11.7 2.1 8.7 1.5 4.6 1 2.7 1.4 2.5 2.1 1.8 1.8 1.1 1.4 .6 1.4 .3 62.6 0 5.6-.1 9.9-.8 23.9-2.6 39.4-2.7 17.9-1.5 15.2-1.6 32.7-4.2 6.7-1.2 4.5-1.1 6-2 6-2.4 .3-.3 14.1-7.8 2.5-1.5 2.4-2 2.1-2.5 3.2-4.9 1.8-3.5 4.2-10.7 4.9-15 4.6-12.2 4.2-10.1 5.6-11.9 4.3-9.6 1.7-4.4 1.4-4.2 1.4-5.3 1.4-6.5 3.5-19.8 6-44.2 1.1-6.6 2.4-9.5 .7-1.6 .8-.6 .7 .4 .7 1.2 1.4 3.8 2.1 6.8 2.8 11.4 2.5 9 1 3.3 1.1 2.5 2.4 4.5 2.8 4 1.8 1.9 4.9 4.6 2.8 3.4 1.8 3 1.4 3.6 2.1 7.9 1.8 8.7 7.7 50 1.4 8 1.1 4 3.1 6.8 2.1 3.2 1.8 1.5 1.1 .3 3.1-.2 4.2-.8 6.7-1.9 3.5-1.4 11.3-5.2"/>
<path class="c" stroke="#3f3f3f" d="M142.1 266.6l2.1 2.2 1.4 .7 1.8 0 3.5-.9 1.4-.1 1.8 .4 1.7 .9 2.8 2.1 1.1 1 4.6 6 4.9 5.5 3.5 2.8 2.5 1.5 1.4 .5 1.4 0 5.3-2.1 4.5-1 2.5-.1 1 .6 1.1 .9 7 7.9 1.4 1.3 1.1 .6 1.4 .4 2.5 .3 1-.2 1.1-1 1-1.8 4.6-10.2 4.6-11.1 1.4-2.7 3.8-6.3 1.8-4 2.1-6.7 3.2-11.9 4.6-20.4 2.4-8.1 1.4-3.3 1.1-1.3 1.7-1.4 1.1-.4 1-.1 1.1 .6 2.5 2.6 1 .8 2.8 1.2 1.1 .1 .7-.2 .7-.6 .7-1.1 2.5-4.9 2.4-6.4 1.1-2.3 1.4-1.7 1-.8 1.1-.2 .7 .3 .7 .9 .7 1.4 1.8 4.5 1.4 4.8 4.5 17.4 1.1 3 1.4 2.2 1.4 1.1 .7 .1 .7-.4 1.1-1.4 3.1-5.8 2.5-3.2 1.1-1 1-.6 .7 0 1.1 .8 2.1 2.8 1 1.9 3.9 10.7 4.6 11 3.1 5.6 2.9 3.9 2.4 2.7 8.5 8 2.4 2.6 2.5 3 7.4 9.9 12.3 14.8 3.2 3.5 4.5 4.1 3.5 2.5 2.5 1.2 6 1.8 1.4 .8 1 1.1 1.1 1.6 1.4 2.8 7.7 17.2 8.5 19.5 4.9 9.9 4.2 7.3 16.6 26.8 3.5 5.1 4.6 6 5.6 6.6 6.3 6.8 11.3 10.9 6.6 6.1 5 3.9 4.2 3 3.2 1.8 6.6 3 1.8 1.2 2.1 1.8 4.2 4.7 8.1 10.6 3.5 4.2 9.2 9.3 8.1 7.8 5.3 4.3 4.9 3.8 3.8 2.7 6 3.5 2.5 1.8 1.4 1.3 1.8 2.4 2.8 5.7 4.5 12.4 2.5 6 2.8 6.2 4.6 8.9 1.7 2.7 1.8 1.6 6 4 2.1 1 297.2 .1 2.5-.2 1.7-.6 2.5-1.3 2.5-2.3 2.4-2.9 6-8.8 4.6-5.9 22.5-26.3 3.8-4.4 4.3-4.3 3.1-2.8 2.8-2 5.7-3.6 2.8-1.6 3.5-1.4 4.2-1.5 6.4-1.8 7.7-1.7 24.6-4.7 6-1.4 3.5-1 3.2-1.1 2.4-1.3 2.5-1.7"/>
<path class="c" stroke="#053c65" d="M142.1 275.9l1.8 1.4 2.4 2.6 4.6 8.8 2.5 2.6 1.7 1.1 1.1 0 1-.8 3.5-5 3.2-3.9 1.1-1.2 1-.8 .7-.2 .7 .1 1.4 .7 1.4 1.3 2.1 2.6 1.1 2 1.4 3.7 1.8 5.9 .7 3.1 7.4 46.1 3.1 16.5 1.8 6.6 1.7 4.1 1.8 2.8 .7 .7 1.8 1.3 1.4 .7 1 .3 1.1 0 1-.3 2.1-1.3 3.2-3.1 1.4-2.4 1.8-4.6 1.7-5.9 .7-2.8 1.1-6 5.3-38.4 3.1-28.6 1.4-16.5 1.4-21.8 5-95.6 2.8-46.4 1.4-14.2 1.4-8.1 .4 .3 .3 1.6 .7 4.7 .7 6.5 .7 9.6 1.1 20.5 2.8 45.2 .7 19.1 1.4 51.5 .3 7.3 .7 11.4 1.8 21 2.8 39.9 2.1 25.9 1.8 16.6 1.4 9.2 1.4 7.2 1.4 5.2 1.8 5.2 1.4 3.1 1.7 2.5 2.1 1.9 1.1 .4 1.1-.1 2.1-1.2 3.5-3 1.4-.9 1.7-.7 3.6-.8 .7-.3 .7-.7 1.7-2.8 2.1-4.6 3.2-12.3 3.2-10.5 1.7-3.1 1.8-1.9 1-.3 .7 .4 .8 .6 2.4 3.5 3.2 5.7 3.1 3.7 1.1 .5 1.1-.1 1.4-.5 1.7-1.3 1.1-1.4 1-2.4 5.7-15.3 3.1-7.7 1.1-1.8 1.7-2.4 1.1-1.1 1.1-.6 3.1 .3 1.4 .2 1.1 .5 10.2 9 4.2 2.7 2.8 1.3 4.2 1.1 5 .8 11.9 1.6 5.3 .5 15.5-.3 10.2-1.1 12.3-.7 4.6-.6 6.6-1.4 7.1-1.8 13.7-4.4 8.4-3 6.4-2.7 5.6-2.6 4.9-2.5 6-3.5 6.7-4.1 4.9-3.4 4.9-3.7 4.6-4 4.2-4 3.5-3.8 3.6-4.3 3.8-5.2 3.9-5.6 3.2-5 2.8-5.1 2.8-5.8 4.6-10.8 3.1-8.9 2.8-9.9 2.8-12.5 1.8-9.6 7.4-49.6 6.7-48.1 1.7-8.5 1.1-2.5 .3-.4 .4 0 1 1.6 .8 1.5 1 3.7 .4 2.3 3.5 33.9 2.8 24.2 4.9 35.9 2.8 17.5 2.8 13.7 2.5 9.5 3.5 10.4 1.8 4.3 2.1 4.5 3.2 5.6 7.3 11.8 5.3 7.6 5.6 7.5 5.3 6.2 5.6 6 5.7 5.5 6.3 5.5 4.6 3.6 7.4 5.2 3.8 2.4 3.6 1.8 3.5 1.4 2.4 .8 5.7 .7 4.5 .1 5.3-1.2 2.1 0 .7 .3 1.1 1.1 1.4 2 .7 1.5 1.4 5.6 1.4 7.3 1.4 10 1.4 13 2.1 25.9 6.7 89.7 2.5 26.6 1.4 10.4 1 5.8 1.4 4 1.1 2.1 .7 .9 2.8 2.2 1.1 .5 1 .1 161.1 0 16.5-.4 37.3-1.8 65.1-1.8"/>
<path class="c" stroke="#5c080d" d="M142.1 385.3l3.2 1.2 3.5 1.1 24.3 6.3 7 1.4 16.5 2.1 10.2 .7 10.2 .1 16.5-.6 15.9-1.1 8.8-1.1 10.9-1.8 12.3-3 21.4-4.4 8.1-2 6.7-2 6.7-2.3 7.4-3.4 15.1-7.9 7.7-4.8 5.7-4.4 12.6-11.2 3.6-3.6 4.2-4.9 5.2-7.2 4.6-7.3 3.2-5.8 3.5-8.2 5.3-14.6 1.7-5.9 1.4-5.8 3.6-19.1 8.4-54.4 2.1-12.4 1.1-4.9 1-3.2 1.1-2 .7-.8 .3-.1 .4 .1 .7 .7 1 1.7 1.1 3.1 .4 1.7 3.1 22.9 2.5 20.3 3.8 27.6 1.8 9.6 2.5 10.5 2.4 8.7 2.5 7.5 2.8 7.8 3.9 9.8 3.1 7.3 3.2 6.7 3.2 5.8 3.5 6 3.9 6 4.2 5.8 4.2 5.2 4.9 5.5 5.3 5.3 5.6 5.2 6.7 5.7 7.8 6.2 6.6 5.1 6.4 4.4 5.9 3.7 6 3.4 7.8 3.8 8.8 4 7.7 3.2 7.4 2.5 2.8 1.3 1.4 1.1 1.4 1.6 1.4 2.2 1.4 2.7 1.1 2.7 1 3.3 1.8 8.2 5.6 58.5 2.5 20.1 1.7 11.7 2.1 8.7 1.5 4.6 1 2.7 1.4 2.5 2.1 1.8 1.8 1.1 1.4 .6 1.4 .3 62.6 0 5.6-.1 9.9-.8 23.9-2.6 39-2.6 18-1.6 15.1-1.5 33.1-4.3 6.7-1.2 4.5-1.1 6-2 6-2.4 16.9-9.5 2.4-2 2.1-2.4 3.2-4.9 1.8-3.5 4.2-10.7 4.9-14.9 4.9-13.1 3.9-9.3 5.6-11.8 4.3-9.6 1.7-4.4 1.4-4.2 1.4-5.1 1.4-6.5 3.5-19.7 7.1-50.9 2.4-9.6 .7-1.7 .8-.7 .7 .3 .7 1.1 1.4 3.7 2.1 6.7 2.8 11.5 2.5 8.9 1 3.4 1.4 3.3 2.1 3.8 2.8 4 2.1 2.3 4.6 4.2 2.8 3.4 1.8 3 1.4 3.5 2.1 7.8 1.8 8.5 7.7 50 1.4 8.1 1.1 4.1 1.7 4.1 1.8 3.4 1.7 2.6 1.8 1.6 1.4 .4 3.2-.3 4.5-.9 6.4-1.8 14.4-6.5"/>
<path class="c" stroke="#2f2f2f" d="M142.1 258.7l3.5 5 3.9 4.3 1.4 1.1 .7 .4 1.1 .1 4.9-1 1.7 0 2.1 .9 3.2 2.2 1.8 1.8 3.8 5.1 4.6 5.3 2.1 1.9 3.9 2.7 1.7 .6 1.5 .1 1.4-.4 4.2-1.7 4.6-1 1.7-.1 .7 .1 1.1 .6 1 1 7.1 7.9 1.4 1.2 1 .6 1.1 .2 2.1 .3 1.4 0 1.1-.8 1.4-2.4 4.5-10.3 4.6-11 1.4-2.7 3.5-5.7 2.1-4.8 2.1-6.8 3.2-12 4.2-19 2.5-8.3 1.4-3.5 .7-1 1.8-1.6 1.4-.8 1-.1 .7 .2 .7 .5 3.2 3.2 3.2 1.4 1 0 .7-.2 1.4-1.8 2.1-4.1 2.9-7 1-2 1.1-1.2 1-.8 1.1-.3 .7 .1 .7 .7 .7 1.3 2.1 5.1 6 21.1 .7 1.8 1.4 2.1 1.4 1.2 .7 .1 .7-.2 1.4-1.7 2.8-4.9 2.5-2.9 1-.9 1.1-.6 .7 0 1.1 .8 2.1 2.8 1 1.9 3.9 10.8 4.6 11 2.8 5.1 2.8 4.1 2.5 2.7 8.7 8.4 2.9 3 9.1 12.1 12.3 15.1 3.2 3.5 4.6 4.2 3.1 2.3 2.8 1.5 6 1.8 1.4 .9 1.1 1.2 2.1 4 6.7 15 9.8 23 4.2 8.6 4.3 7.4 16.1 26.6 3.6 5.3 5.2 6.9 5.3 6.2 6 6.5 11.2 10.8 6.7 5.9 4.9 3.9 4.3 3 3.1 1.8 7.1 3.1 1.7 1.2 2.1 1.8 4.3 4.5 8.4 10.9 3.5 4.2 9.5 9.5 8.1 7.6 5.3 4.4 4.9 3.8 3.5 2.5 6 3.6 3.5 2.8 1.8 2.4 2.8 5.7 4.9 13.5 2.1 5.2 2.8 6.3 4.6 9 1.4 2.1 2.1 2.1 6 3.9 1.8 .8 1 .2 293 0 2.5-.2 2.1-.6 2.4-1.1 2.2-1.6 2.1-1.9 19.7-23.7 13.3-16.7 6.7-7.9 3.2-3.4 2.4-2.3 6.4-4.5 3.5-2.1 2.8-1.3 4.9-1.9 5.7-1.7 10.9-2.6 19-3.2 8.4-1.7 7-2.1 4.6-2.1"/>
<path class="c" stroke="#042d4c" d="M142.1 275.1l1.1 .3 1.4 .9 3.1 3.1 1.4 2.2 2.5 5.2 1.1 1.8 2.4 2.6 1.8 1.2 1 0 1.1-.7 3.5-5 3.2-4 1-1.2 1.1-.8 .7-.2 .7 .1 1.4 .7 1.4 1.3 2.1 2.5 1.1 1.9 1.4 3.7 1.4 4.6 1 4.3 7.8 48 3.1 16.3 1.1 4 .7 2 1.8 3.8 1.7 2.6 2.5 1.9 2.1 .8 1 0 1.1-.3 2.1-1.3 3.2-3 1.4-2.4 1.7-4.5 1.8-5.9 .7-2.8 1.1-5.9 5.2-38.5 3.2-28.5 1.4-16.5 1.4-21.7 4.9-96.1 2.8-46.8 1.5-14.6 1-6.7 .4-1.6 .3 0 1.1 6.3 1 10.7 1.4 25.4 2.8 44.6 .7 17.7 1.5 51.7 .7 14.7 2.4 31 2.8 39.6 1.8 21.3 1.7 17.3 1.5 9.3 1.4 7.4 1 4.2 2.1 6.3 1.4 3.2 1.4 2.2 1.4 1.5 1.5 1.1 1 .3 1.1-.1 1.7-.8 3.9-3 1.4-.9 1.8-.5 3.8-.6 .7-.4 .7-.7 1.8-2.8 2.1-4.5 3.2-12.3 3.1-10.3 1.8-3 1.8-1.9 1-.3 .7 .3 .7 .7 2.8 3.9 2.8 5.2 3.2 3.7 1.1 .6 1-.1 1.4-.5 1.8-1.3 1-1.5 1.1-2.4 5.6-15.6 2.8-6.9 1.1-2 1.8-2.4 1-1.2 1.1-.7 3.1 .2 1.4 .3 1.1 .5 9.8 8.8 4.3 2.8 2.8 1.3 3.8 1.1 5 .9 11.9 1.6 5.3 .5 15.5-.3 10.2-1.1 12.3-.7 4.6-.6 6.6-1.4 7.1-1.8 13.7-4.4 8.1-2.9 6.3-2.6 5.6-2.6 5-2.5 5.6-3.3 7-4.3 5-3.3 4.9-3.7 4.6-3.9 3.8-3.7 3.9-4.1 3.9-4.7 3.8-5.1 3.9-5.6 3.2-5.1 2.8-5.1 2.8-5.7 4.6-10.8 3.1-8.9 2.8-9.9 2.9-12.5 2.1-11.8 7-47.4 6.7-48.2 1.7-8.5 1.1-2.5 .3-.4 .4 0 1.1 1.6 .7 1.5 1 3.8 .4 2.3 3.5 34 2.8 24.2 4.9 35.9 2.8 17.6 2.8 13.6 2.5 9.4 3.5 10.4 1.8 4.3 2.1 4.5 3.2 5.6 7.3 11.7 5.3 7.6 5.7 7.5 5.2 6.2 5.7 6 5.6 5.5 6.3 5.5 4.6 3.6 7.4 5.2 3.8 2.4 3.6 1.8 3.5 1.4 2.4 .8 5.7 .7 4.5 .1 5.3-1.2 2.1 0 .7 .3 1.1 1.1 1.4 2 .7 1.5 1.4 5.6 1.4 7.3 1.4 10 1.4 13 2.1 26 6.7 89.7 2.5 26.5 1.4 10.4 1 5.8 1.4 4.1 1.1 2 .7 .9 2.8 2.2 1.1 .5 1 .1 161.1 0 16.6-.4 37.2-1.8 63.7-1.7"/>
<path class="c" stroke="#45060a" d="M142.1 391.9l1.4 .5 2.8 .4 11.3 .5 17.6 1.5 21.8 2.5 10.9 .8 10.5 0 13.7-.5 13.1-.8 10.5-1.1 13-2.1 13-3.1 19-3.9 10.2-2.4 8.1-2.4 6.7-2.5 7.4-3.5 14.4-7.6 4.2-2.5 3.5-2.4 5.3-4.2 12.3-10.9 3.6-3.5 4.5-5.4 5.3-7.2 4.6-7.4 3.1-6 3.6-8.3 4.9-13.6 1.7-5.9 1.4-5.8 3.9-21.3 8.1-52.3 2.1-12.4 1.1-5 1-3.2 1.1-2 .7-.8 .3-.1 .4 .1 .7 .7 1 1.7 1.1 3.1 .4 1.7 3.1 23 2.5 20.4 3.8 27.6 1.8 9.6 2.5 10.5 2.4 8.6 2.5 7.6 2.8 7.7 3.9 9.8 3.1 7.3 2.9 6 3.1 5.9 3.9 6.6 3.9 5.9 4.2 5.9 4.2 5.2 4.9 5.4 5.3 5.3 5.6 5.2 6.7 5.7 7.8 6.2 6.6 5.1 6.4 4.4 5.9 3.7 6 3.4 7.8 3.8 8.8 4 7.7 3.2 7.4 2.5 2.8 1.3 1.4 1.1 1.4 1.6 1.4 2.2 1.4 2.7 1.1 2.7 1 3.3 1.8 8.2 5.6 58.5 2.5 20.1 1.7 11.7 2.1 8.7 1.5 4.6 1 2.7 1.4 2.5 2.1 1.8 1.8 1.1 1.4 .6 1.4 .3 62.6 0 5.6-.1 9.9-.8 23.9-2.6 39-2.6 18-1.6 15.1-1.5 32.7-4.3 6.3-1.1 5-1.1 6-1.9 6.3-2.6 16.9-9.5 2.4-1.9 2.1-2.4 3.2-4.9 1.8-3.5 4.2-10.6 5.3-15.9 4.5-12.1 3.9-9.3 5.6-11.8 4.3-9.6 1.7-4.3 1.4-4.2 1.4-5.1 1.4-6.4 3.5-19.6 7.1-50.9 2.4-9.8 .7-1.7 .8-.9 .7 .2 .7 1.1 1.4 3.6 2.4 8 2.5 10.1 2.5 9 1.4 4.3 1 2.4 2.5 4.5 2.8 3.8 1.7 1.9 4.6 4.2 2.8 3.4 1.8 2.9 1.4 3.4 2.1 7.7 1.8 8.5 9.1 58 .7 3.2 .7 2.1 3.2 6.6 1.7 2.7 1.8 1.6 1.4 .4 3.2-.2 4.5-1 6.4-1.8 14.4-6.4"/>
<path class="c" stroke="#1f1f1f" d="M142.1 256.2l1.4 .2 1.1 .8 1.4 1.7 3.1 4.5 3.9 4.3 1.8 1.5 .7 .3 1 .1 4.6-1 1.8-.1 2.1 .8 3.5 2.5 1.7 1.8 3.9 5.2 4.6 5.2 1.7 1.6 3.9 2.7 1.8 .8 1.7 .1 1.4-.4 3.9-1.7 4.6-1 2.4-.1 1.1 .5 1 .9 7.4 8.2 1.4 1.3 1.1 .5 1.4 .3 2.1 .3 1.1-.1 1-.9 1.4-2.5 4.6-10.3 4.6-11 4.9-8.4 1.8-3.8 2.1-6.7 3.1-11.8 4.6-20.4 2.5-8.2 1.4-3.5 .7-.9 1.7-1.6 1.4-.7 1.1-.1 1.4 .8 2.1 2.3 1.1 .9 2.8 1.2 1 .2 .7-.1 1.1-.9 1.4-2.3 1.8-3.4 2.4-6.1 1.1-1.8 2.1-1.8 1-.4 .7 .2 .8 .7 .7 1.2 2.1 4.7 5.9 19.3 1.1 2.5 1.1 1.4 1 1 .7 .4 .7 .1 .7-.2 1.4-1.6 2.8-4.4 2.5-2.5 1.4-1 1.1-.4 .7 .1 .7 .5 1.7 2.2 1.8 2.8 3.9 10.5 4.9 11.5 2.8 5 2.8 4 2.8 3 8.8 8.2 2.8 2.9 9.2 11.8 13 16 2.8 3.1 4.6 4.2 3.1 2.4 2.5 1.2 6 1.9 1 .6 1.1 1 1.1 1.7 1.4 2.9 7.3 16.8 8.5 20.1 4.9 10.2 4.2 7.5 15.9 26.4 3.8 5.7 5.3 6.9 4.6 5.5 5.6 6.2 11.3 10.9 6.6 6 5 4 4.2 2.9 3.2 1.9 6.3 2.8 1.7 1.1 2.2 1.8 4.2 4.6 8.4 11 3.5 4.2 9.2 9.3 8.1 7.8 5.2 4.4 5 3.9 3.5 2.5 5.6 3.4 3.5 2.8 1.8 2.5 2.8 5.8 4.6 12.8 2.4 6.1 2.9 6.4 4.2 8.5 1.7 2.6 1.8 1.6 6 4 2.1 .9 291.9 .1 2.8-.2 3.5-1.1 2.5-1.2 2.5-1.8 2.4-2.4 8.5-9.2 7.7-9.2 14.4-18.9 8.8-11 2.5-2.6 2.1-2 6-4.3 3.5-2.1 3.9-1.6 5.2-2 5.7-1.7 9.1-2 17.6-2.7 8.1-1.6 7-1.8 5.3-2.1"/>
<path class="c" stroke="#021e32" d="M142.1 275l1.4 .1 1.4 .6 1.8 1.4 2.4 2.5 1.1 1.6 2.8 5.8 1.1 1.8 2.4 2.6 1.8 1 1 0 1.1-.8 3.2-4.6 3.5-4.5 1-1.1 1.1-.8 .7-.1 .7 .1 1.4 .8 1.4 1.3 2.1 2.6 1.1 2.1 1.4 3.7 1.7 6 .7 3.2 7.4 46.1 3.2 16.5 1 4.3 .7 2.1 1.8 4 1.8 2.8 2.4 2 2.1 .9 1.1 0 1-.2 2.2-1.2 3.1-3 1.4-2.2 1.4-3.4 1.8-5.5 1.1-3.9 1-5.6 5.6-41 3.2-29.1 1.4-17.1 1.4-22.4 4.9-96.7 2.5-41.2 1.4-16 1.1-7.3 .7-3.1 .7 3.2 .7 5 1 11.7 1.4 25.7 2.5 38 1.1 25.4 1.4 51 .7 13.7 2.4 30.4 2.8 39.2 1.8 21.1 1.8 17.2 1.4 9.2 1.4 7.3 1 4.2 1.8 5.2 1.7 4 1.4 2.2 1.8 1.7 1.1 .8 1 .4 1.1-.1 2.1-.9 3.5-2.5 1.8-1 1.4-.3 4.2-.3 .7-.4 .7-.7 1.8-2.7 2.1-4.3 3.1-12.1 3.2-10.3 .7-1.5 1.4-2.1 1.1-1.2 .7-.5 .7-.2 .7 .2 1.4 1.4 2.1 2.9 3.2 5.8 2.1 2.7 1 1 1.1 .4 1-.1 1.4-.7 1.4-1 1.1-1.4 1.1-2.4 5.6-15.8 2.8-7 1.1-2 1.7-2.4 1.1-1.2 1-.6 2.8 .2 1.8 .4 .7 .3 9.8 8.9 3.9 2.6 2.8 1.4 3.9 1.1 4.9 1 11.6 1.6 5.3 .4 15.8-.3 10.2-1 12.3-.7 4.3-.6 6.3-1.3 7.4-1.9 13.7-4.4 8.1-2.9 6.3-2.5 5.6-2.6 5-2.6 5.6-3.2 7-4.3 5-3.3 4.9-3.7 4.6-3.9 3.8-3.6 3.9-4.1 3.5-4.2 3.9-5.1 4.2-6 2.8-4.5 3.2-5.6 2.8-5.7 4.9-11.7 3.2-8.9 2.8-10.1 2.8-12.6 1.8-9.9 7.4-49.8 6.3-46 1.7-8.9 .7-2.1 .8-1.2 .3-.1 .7 .8 1.1 2 .7 2.1 .7 3.3 3.8 37.1 2.9 24 4.9 35.7 2.8 17.2 2.8 13.4 2.5 9.2 3.5 10.2 3.5 7.9 3.5 6.2 7.1 11.2 5.2 7.6 5.7 7.5 5.2 6.2 5.7 6 5.2 5.1 6.4 5.6 4.9 3.9 7 5 3.9 2.5 3.5 1.8 3.9 1.6 2.4 .8 5.3 .7 4.9 .1 5.3-1.1 2.1-.2 1.1 .6 1 1.2 1.4 2.1 .8 1.8 1.7 7.6 1.1 6 1.4 10.4 1.4 13.5 8.4 111.6 2.5 27.1 1.4 10.7 1 6.1 1.5 4.3 1 2.2 .7 .9 2.8 2.3 1.1 .5 1 .2 161.1 0 16.6-.4 37.6-1.8 62.6-1.7"/>
<path class="c" stroke="#2e0407" d="M142.1 387.1l2.5 .9 3.5 .9 23.2 4.8 8.8 1.5 19.7 2.3 9.5 .5 10.9-.1 21.4-.9 9.2-.8 8.8-1.1 9.5-1.6 12.3-3 21.1-4.3 8.4-2 6.7-2 6.7-2.3 7.4-3.4 15.1-7.9 7.7-4.8 5.7-4.4 12.6-11.2 3.6-3.5 4.2-4.9 5.2-7.1 4.6-7.3 3.2-5.8 3.5-8.2 5.3-14.5 1.7-5.9 1.4-5.7 3.6-19.1 8.8-56.8 2.1-12.1 .7-3.2 1-3.1 1.1-2.1 .7-.8 .3-.1 .4 .1 .7 .7 1 1.7 1.1 3.2 .4 1.7 3.1 23.1 2.5 20.4 3.8 27.6 1.8 9.6 2.5 10.4 2.4 8.7 2.5 7.5 3.2 8.6 3.8 9.8 3.2 7.2 2.8 5.9 3.2 5.8 3.5 5.9 3.9 6 4.2 5.8 4.2 5.2 4.9 5.4 5.3 5.3 5.6 5.2 6.7 5.7 8.1 6.5 6.7 5 6.3 4.4 6 3.7 6 3.4 7.7 3.8 8.8 3.9 7.7 3.3 7.1 2.3 2.8 1.3 1.4 1.1 1.4 1.6 1.4 2.2 1.4 2.7 1.1 2.7 1 3.3 1.8 8.2 5.6 58.5 2.5 20.1 1.7 11.7 2.1 8.7 1.5 4.6 1 2.7 1.4 2.5 2.1 1.8 1.8 1.1 1.4 .6 1.4 .3 62.6 0 5.6-.1 9.9-.8 23.9-2.6 39.4-2.7 17.9-1.5 15.2-1.6 32.7-4.2 6.7-1.2 4.5-1.1 6-2 6-2.4 14.8-8.1 2.4-1.6 2.5-2 2.1-2.5 2.8-4.4 2.1-4.2 4.2-10.7 5-15 4.5-12.1 3.9-9.3 5.6-11.8 4.3-9.6 3.1-8.4 1.4-5 1.4-6.4 3.5-19.5 7.1-50.9 .7-3.3 1.7-6.7 .7-1.8 .8-.9 .3-.1 .4 .2 .7 1 1.4 3.5 2.4 7.9 2.5 10.1 2.5 9.1 1.4 4.3 1 2.5 2.5 4.4 2.8 3.9 1.7 1.9 4.6 4.2 2.8 3.4 2.1 3.6 1.5 3.7 1.7 6.5 1.8 8.3 9.1 58.1 1.4 5.5 3.2 6.6 1.7 2.7 1.8 1.7 1.4 .5 3.2-.3 4.2-.8 6.7-1.9 14.4-6.4"/>
<path class="c" stroke="#101010" d="M142.1 256.7l3.9-.5 .7 .1 .7 .4 1.4 1.4 3.9 5.5 3.8 4.3 1.8 1.4 .7 .2 1 0 4.3-.9 1.7-.1 1.8 .5 1.7 1.1 2.5 1.8 1.1 1.1 4.5 5.9 4.9 5.6 1.8 1.5 3.9 2.6 1.7 .6 1.4 0 5.3-2.1 4.6-1 2.5 0 1 .5 1.1 1 7 7.8 1.4 1.4 1.1 .6 1.7 .3 2.1 .3 1.1-.2 1-1.1 1.1-1.8 4.6-10.2 4.5-11.1 1.4-2.7 3.9-6.3 1.8-4 2.1-6.8 3.1-11.9 4.6-20.4 2.5-8.1 1.4-3.2 1-1.2 1.8-1.4 1.1-.4 1-.1 1.1 .6 2.4 2.6 1.1 .9 2.8 1.3 1.1 .1 .7-.1 .7-.5 .7-.9 2.4-4.2 2.5-5.5 1-1.9 1.5-1.3 1-.6 1.1-.3 .7 .2 1.4 1.9 2.1 4.2 5.6 16 .7 1.7 .7 1.1 2.1 1.8 1.1 .3 .7-.1 1.4-1.3 2.8-3.6 2.1-1.6 1.4-.8 1.4-.4 .7 .2 .7 .6 1.8 2.2 1.8 3 3.8 10.5 5 11.6 2.8 5 2.8 3.9 2.4 2.7 9.2 8.6 2.8 2.9 9.1 11.9 12.7 15.5 3.2 3.5 4.5 4.2 3.2 2.3 2.5 1.3 6 1.8 1 .6 1.1 1.1 1 1.7 1.4 2.9 7.4 16.8 8.5 20 4.9 10.2 4.2 7.4 16.2 26.8 3.5 5.3 5.3 6.8 4.9 5.9 5.6 6.2 11.3 10.9 6.7 6 4.5 3.7 4.3 2.9 3.1 1.9 6.7 3 1.8 1.1 2.1 1.8 4.2 4.7 8.4 11 3.2 3.8 9.1 9.3 8.1 7.8 5 4.3 4.9 3.9 3.5 2.6 6 3.7 2.1 1.6 1.4 1.3 1.8 2.7 2.4 5.2 4.6 13 2.5 6.2 2.8 6.4 4.2 8.6 1.4 2.2 2.1 1.9 6 4 1.7 .8 1.1 .1 289.1 0 3.2-.3 4.2-1.2 3.5-1.7 3.2-2.6 6.3-6.2 4.6-5.2 6-7.2 12.6-17.4 10.2-13.2 4.3-4.4 5.9-4.4 3.6-2 4.5-2 5.3-1.9 5.6-1.7 8.5-1.8 16.1-2.3 8.1-1.4 7.1-1.7 5.6-2"/>
<path class="c" stroke="#010f19" d="M142.1 275l2.1 .1 1.1 .2 1.4 .9 1.7 1.6 1.8 1.9 .7 1 3.2 6.5 1 1.7 2.5 2.5 1 .8 .7 .3 1.1-.2 1-.8 3.2-4.6 3.5-4.4 1.1-1.2 1-.7 1.1-.1 1.4 .7 1.4 1.2 2.1 2.5 1.1 1.8 1.4 3.6 2.4 8.7 7.8 47.8 3.1 16.5 1.1 4.2 .7 2 1.8 4 1.7 2.7 2.5 1.9 2.1 .9 1 0 1.1-.2 2.1-1.3 3.2-3 1.4-2.3 1.4-3.4 1.8-5.6 1-4 1.1-5.7 5.2-38.6 2.1-18.2 1.5-14.1 1.4-17.5 1.4-22.8 4.9-97.2 2.5-41.2 1.4-15.4 1-7.1 .4-1.7 .3-.6 1.1 6 1 10.2 1.8 30.4 2.5 37.7 1 25.5 1.4 50.7 .7 13.6 6.7 85.9 2.1 21.4 2.5 15 1.4 5.9 1.4 4.1 1.7 4.3 1.8 2.9 2.8 2.4 1.1 .5 1 0 2.1-.7 3.9-2.5 1.8-.8 1.4-.2 4.2-.1 .7-.2 .7-.6 1.8-2.6 2.4-5.1 2.8-10.7 2.5-8.4 1.1-2.9 .7-1.4 1.4-2 1-1.2 .7-.5 .7-.1 .7 .3 1.4 1.4 2.1 2.9 3.2 5.8 2.1 2.7 1.1 1 1 .3 1.1-.2 1.4-.7 1.4-1.1 .7-1 1.1-2.3 5.6-16 2.8-7.1 1.1-2 1.7-2.5 1.1-1.1 1-.6 3.2 .3 1.4 .3 .7 .4 9.5 8.8 3.9 2.6 2.8 1.5 3.9 1.1 4.5 .8 11.6 1.7 5.3 .5 15.5-.3 10.2-1.1 12.3-.7 4.6-.6 6.3-1.3 7-1.8 13.7-4.4 8.1-2.9 6.4-2.5 5.6-2.6 4.9-2.6 5.6-3.2 7.1-4.3 5.3-3.5 4.9-3.7 4.6-3.9 4.2-4 3.8-4.2 3.6-4.2 3.8-5.1 3.9-5.6 3.2-5.1 2.8-5 2.8-5.8 4.6-10.7 3.1-8.8 2.8-9.9 2.9-12.4 2.1-11.8 7-47.5 6.7-48.5 1.7-8.5 1.1-2.5 .4-.4 .3 .1 1.1 1.5 .7 1.6 1 3.8 .4 2.4 3.5 34.1 2.8 24.3 4.9 36 2.8 17.5 2.9 13.5 2.4 9.4 3.5 10.3 1.8 4.3 2.1 4.4 3.2 5.7 7.4 11.6 5.2 7.6 5.7 7.5 5.2 6.2 5.7 6 5.6 5.4 6.3 5.5 4.6 3.6 7.4 5.2 3.9 2.4 3.5 1.8 3.5 1.4 2.4 .8 5.7 .7 4.5 .1 5.3-1.2 2.1 0 .7 .3 1.1 1.1 1.4 2 .7 1.6 1.4 5.6 1.4 7.2 1.4 10.1 1.4 13 2.1 25.9 6.7 89.7 2.5 26.5 1.4 10.4 1 5.8 1.5 4.1 1 2 .7 .9 2.8 2.2 1.1 .5 1 .1 161.1 0 16.6-.4 37.2-1.8 62.3-1.7"/>
<path class="c" stroke="#170203" d="M142.1 388.8l1.8 .7 3.8 .8 9.2 1.3 13.3 2.2 20.1 2.6 12.6 1.3 8.8 .3 12.7-.3 18.6-.9 9.9-.9 8.8-1.2 7.7-1.3 12-2.9 21.1-4.3 8.8-2.1 6.7-2 6.6-2.3 7.4-3.4 15.2-8 4.2-2.5 3.5-2.3 5.6-4.5 12.3-10.8 3.6-3.6 4.5-5.3 5.3-7.2 4.6-7.3 3.1-6 3.6-8.3 4.9-13.5 1.7-5.9 1.4-5.7 3.9-21.2 8.5-54.8 2.1-12.2 .7-3.1 1-3.2 1.1-2.1 .7-.8 .3-.1 .4 .1 .7 .7 1 1.7 1.1 3.2 .4 1.8 3.1 23.1 2.5 20.5 3.8 27.6 1.8 9.6 2.5 10.4 2.4 8.6 2.5 7.5 3.2 8.7 3.8 9.7 3.2 7.2 2.8 5.9 3.2 5.8 3.5 5.9 3.9 5.9 4.2 5.9 4.2 5.1 4.9 5.5 5.3 5.3 5.6 5.1 6.7 5.7 8.1 6.5 6.7 5 6.3 4.4 6 3.7 6 3.4 7.7 3.8 8.8 3.9 7.7 3.3 7.1 2.3 2.8 1.3 1.4 1.1 1.4 1.6 1.4 2.2 1.4 2.7 1.1 2.7 1 3.3 1.8 8.2 5.6 58.5 2.5 20.1 1.7 11.7 2.1 8.7 1.5 4.6 1 2.7 1.4 2.5 2.1 1.8 1.8 1.1 1.4 .6 1.4 .3 62.6 0 5.6-.1 9.9-.8 23.9-2.6 39.4-2.7 17.9-1.5 15.2-1.6 32.7-4.2 6.7-1.2 4.5-1.1 6-2 6-2.4 14.8-8.1 2.4-1.5 2.5-2 2.1-2.5 3.2-5 1.7-3.5 4.2-10.7 5-15 4.5-12.1 3.9-9.3 5.6-11.8 4.3-9.6 3.1-8.3 1.4-5 1.4-6.3 3.5-19.5 1.8-11.8 4.6-34.4 1-6.5 2.5-9.3 .7-1.5 .7-.5 .7 .5 1.1 2.1 2.4 7.4 5.7 21.5 1.4 4.5 1 2.4 2.5 4.5 2.8 3.9 1.7 2 4.6 4.1 2.8 3.4 2.1 3.5 1.5 3.7 1.7 6.4 1.8 8.2 9.1 58.1 1.4 5.6 3.2 6.8 1.7 2.7 1.8 1.7 1.4 .5 2.8-.2 4.6-.9 6.7-1.9 14.4-6.4"/>
<path class="c" stroke="#000000" d="M142.1 256.3l1.8-.1 1.4 .8 1.4 1.6 3.5 4.7 4.2 4.5 1.8 1.4 .7 .3 1 .1 5-1 1.7-.1 2.1 .7 2.5 1.6 2.8 2.3 4.6 5.7 4.9 5.3 1.8 1.5 4.2 2.8 1.7 .7 1.8 .1 1.4-.4 4.2-1.7 4.6-1 2.8-.1 1.1 .5 1 .8 7.8 8.2 1.7 1.5 1.1 .4 2.1 .4 2.1 .2 .7-.2 1-.9 1.5-2.3 4.9-10.4 4.5-10.4 1.8-3.1 3.9-5.9 2.1-4.5 2.1-6.5 3.2-12 4.5-20.3 2.5-8.1 1.4-3.2 1.1-1.2 1.7-1.4 1.1-.4 1-.1 1.1 .6 3.1 3.3 3.2 1.5 1.1 .3 .7-.1 .7-.5 .7-.8 2.4-3.8 2.5-5.1 1.1-1.7 2.4-1.6 1.1-.3 .7 .1 1 1.2 2.1 3.6 5.7 14.1 1 2 .7 .6 1.8 1.1 1.4 .2 1.1-.7 2.8-2.9 2.4-1.3 1.4-.4 1.1-.2 .7 .3 1 1 2.5 3.7 .7 1.5 3.9 10.9 3.5 8.9 2.1 4.3 2.8 4.8 1.8 2.4 1.7 2 9.2 8.9 2.5 2.6 9.8 13.2 12.7 14.9 2.4 2.6 2.5 2.2 5.3 4.2 3.5 1.8 6.3 1.9 1.4 .8 1.1 1.1 2.4 4.3 8.1 17.4 8.5 18.9 2.8 5.8 2.4 4.6 4.6 7.6 16.9 26.5 3.5 5 5.3 6.6 4.9 5.6 6 6.3 12 12.1 7 6.5 4.2 3.5 4.2 3 2.8 1.7 5.7 2.6 1.7 1.1 1.8 1.5 2.1 2.2 2.5 2.9 7.7 10.6 3.2 4.1 10.9 11.5 6.7 6.6 5.9 5.4 5.3 4.3 6 4 2.1 1.7 1.4 1.5 1.8 3.1 2.1 4.9 4.2 12.9 2.1 5.7 2.8 6.9 3.9 8.4 1.4 2.1 2.1 2 6 3.9 1.7 .8 291.3 .1 4.2-.5 4.9-1.2 2.5-1.2 3.9-3 3.5-3.1 2.4-2.4 4.3-4.8 5.2-6.5 12-17.1 10.9-14.7 2.1-2.5 2.1-2.1 2.8-2.3 2.8-2 3.6-2 5.2-2.3 5.7-2.1 5.6-1.6 7.7-1.6 15.5-2 7-1.2 7.4-1.7 6-1.9"/>
<path class="c" stroke="#000000" d="M142.1 275l2.8 0 1.1 .2 1.4 .8 1.4 1.2 2.8 3.1 3.5 7 1.1 1.7 2.4 2.5 1.4 .9 1.1 .1 1-.7 1.1-1.3 2.5-3.7 3.5-4.4 1-1.2 1.1-.6 1 0 1.5 .6 1.4 1.3 2.1 2.5 1 1.9 1.4 3.6 2.5 8.8 7.7 48 3.2 16.3 1.1 4.1 .7 2 1.7 3.9 1.8 2.7 2.4 1.9 2.1 .8 1.1 0 1.1-.3 2.1-1.2 3.1-3.1 1.4-2.4 1.8-4.5 1.8-5.9 .7-2.9 1-5.9 5.3-39.1 2.1-18.5 1.4-14.4 1.1-13 1.4-22.2 4.9-98.5 2.8-48.2 1.4-15 1.4-8.7 .4 .2 1 6.5 .7 6.4 .7 9.1 1.1 20.2 3.2 50.4 .7 19 1.4 50.8 .7 13.7 2.4 30.3 2.8 38.7 1.8 20.9 1.8 17.7 1.4 9.4 1.4 7.5 1 4.3 1.8 5.1 1.8 3.9 1.4 2.2 2.8 2.4 1 .5 1.1 .2 2.1-.6 4.2-2.4 1.4-.6 1.4-.2 5 .2 .7-.3 .7-.7 1.7-2.5 2.1-4.2 3.2-11.8 2.5-8.1 1-2.9 2.1-3.2 1.1-1.2 .7-.4 .7-.1 .7 .3 1.4 1.5 2.1 2.9 2.8 5.4 2.1 2.8 1.1 1.1 1 .4 1.1-.1 1.4-.7 1.4-1.1 .7-.9 1.1-2.3 5.6-16.2 2.8-7.2 1.1-2 1.4-2 1-1.3 1.1-.7 2.4 0 2.2 .5 .7 .3 1 .8 2.8 2.9 5.7 5.2 3.8 2.6 2.8 1.5 3.9 1.1 4.6 .9 11.2 1.6 5.3 .5 15.5-.3 10.2-1.1 12.3-.7 4.2-.6 6.3-1.3 7.4-1.8 13.8-4.4 8-2.9 6.4-2.6 5.6-2.6 4.9-2.5 5.7-3.3 7-4.3 5.3-3.5 4.9-3.7 4.6-3.9 3.8-3.7 3.9-4.1 3.9-4.6 3.8-5.2 3.9-5.6 3.2-5 2.8-5.1 2.8-5.8 4.6-10.8 3.1-8.8 2.9-10 2.8-12.6 1.7-9.6 7.4-49.9 4.6-34.1 2.1-14.4 1.8-8.2 .7-1.7 .7-.7 .7 .7 1 2 .7 2 .7 3.2 4.2 40.3 2.5 20.9 4.9 35.9 2.8 17.2 2.9 13.4 2.4 9.2 3.5 10.2 3.6 7.9 3.5 6.3 7 11.1 5.3 7.6 5.6 7.4 5.3 6.3 5.6 6 5.6 5.4 6.4 5.6 4.5 3.6 7.4 5.2 3.9 2.4 3.5 1.8 6 2.2 1.8 .4 4.2 .4 4.6 .1 4.9-1.1 2.1-.2 1 .5 1.1 1.2 1.4 2.1 .7 1.7 1.4 5.8 1.4 7.5 1.4 10.4 1.4 13.3 8.8 116 2.1 22.8 1.1 8.4 1.4 8.7 1.4 4.5 1.1 2.2 .7 1 2.8 2.3 1 .5 1.1 .2 160.7 0 16.6-.4 37.9-1.8 61.6-1.6"/>
<path class="c" stroke="#000000" d="M142.1 389.7l2.1 .7 4.6 .8 8.1 .9 11.9 1.6 21.8 2.7 14.1 1.3 9.2 .2 13-.3 16.8-.9 10.2-1 8.8-1.3 7.1-1.2 11.6-2.7 21.1-4.3 8.8-2.1 7-2.1 6.7-2.4 7.4-3.4 14.8-7.8 4.2-2.5 3.5-2.3 5.6-4.5 12.3-10.8 3.6-3.5 4.5-5.4 5.3-7.1 4.6-7.3 3.1-6 3.6-8.2 4.9-13.6 1.7-5.9 1.4-5.6 3.9-21.2 8.5-54.9 2.1-12.2 .7-3.2 1-3.2 1.1-2 .7-.9 .3-.1 .4 .1 .7 .7 1 1.8 1.1 3.1 .4 1.8 3.1 23.2 2.5 20.5 3.5 25.4 2.1 11.8 2.5 10.4 2.4 8.6 2.5 7.6 3.2 8.6 3.5 8.8 3.1 7.4 2.9 5.9 3.1 5.8 3.5 6 3.9 6 4.2 5.8 4.2 5.3 5 5.4 5.3 5.3 5.6 5.2 6.7 5.7 8.1 6.5 6.6 5.1 6.4 4.4 5.9 3.7 6 3.4 7.8 3.8 8.8 4 7.7 3.2 7.4 2.5 2.8 1.3 1.4 1.1 1.4 1.6 1.4 2.2 1.4 2.7 1.1 2.7 1 3.3 1.8 8.2 5.6 58.5 2.5 20.1 1.7 11.7 2.1 8.7 1.5 4.6 1 2.7 1.4 2.5 2.1 1.8 1.8 1.1 1.4 .6 1.4 .3 62.6 0 5.6-.1 9.9-.8 23.9-2.6 39-2.6 18-1.6 15.1-1.5 32.7-4.3 6.3-1.1 5-1.1 6-1.9 6.3-2.6 14.8-8 2.4-1.6 2.5-1.9 2.1-2.5 3.2-4.9 1.7-3.6 4.2-10.6 5-15 4.5-12.1 4.3-10.1 5.6-11.8 4.2-9.6 1.8-4.4 1.4-4.2 1.4-5.2 1.4-6.5 3.5-19.8 6-44.1 1-6.6 2.5-9.4 .7-1.6 .7-.6 .7 .4 .7 1.2 1.4 3.8 2.1 6.7 2.8 11.5 2.5 8.9 1.1 3.3 1 2.5 2.5 4.5 2.8 3.9 1.7 2 5 4.5 2.8 3.5 1.7 3 1.5 3.5 1.7 6.4 1.8 8.1 8.1 52 1.4 7.9 1 4 3.2 6.8 1.7 2.7 1.8 1.8 1.4 .5 2.8-.2 4.6-.8 6.7-1.9 3.5-1.4 10.9-5"/>
</g>
<path d="M599.1 13V556.5" stroke="#000" stroke-width="6" stroke-dasharray="2.9 4.31" fill="none"/>
<rect class="bd" x="143.5" y="10.5" width="841" height="546"/>
<rect x="782.2" y="38.1" width="41.4" height="40.6" fill="#b3e1ff" stroke="#000" stroke-width="3"/>
<rect x="893.3" y="38.1" width="41.4" height="40.6" fill="#000" stroke="#000" stroke-width="3"/>
<path d="M782 95.3H928" stroke="#000" stroke-width="3.3" fill="none"/><path d="M936.6 95.3L925.5 91.4V99.2Z" fill="#000" stroke="#000" stroke-width="0.6" stroke-linejoin="round"/>
<text class="tl" text-anchor="middle" x="852.5" y="128" textLength="220" lengthAdjust="spacingAndGlyphs">Increasing thickness</text>
<text class="tl" text-anchor="end" x="856.4" y="179">E-E<tspan class="sub" dy="7">C</tspan><tspan dy="-7"> tail</tspan></text>
<path d="M871.2 173.2H934.6" stroke="#000" stroke-width="3.2" stroke-dasharray="1.5 2.1" fill="none"/>
<text class="tl" text-anchor="middle" transform="translate(20.3 283.5) rotate(-90)" textLength="141" lengthAdjust="spacingAndGlyphs">DoS (eV/cell)</text>
<text class="tl" text-anchor="middle" x="564" y="642"><tspan class="it">E</tspan>-<tspan class="it">E</tspan><tspan class="sub" dy="7">C peak</tspan><tspan dy="-7"> (eV)</tspan></text>
<text class="cap" text-anchor="middle" x="515" y="722.4">(a)</text>
</g>
<g id="panel-b">
<g class="axis" id="axis-b">
<path class="tk" d="M1214.5 556.5h-18M1214.5 539.44h-9M1214.5 522.38h-9M1214.5 505.31h-9M1214.5 488.25h-18M1214.5 471.19h-9M1214.5 454.12h-9M1214.5 437.06h-9M1214.5 420h-18M1214.5 402.94h-9M1214.5 385.88h-9M1214.5 368.81h-9M1214.5 351.75h-18M1214.5 334.69h-9M1214.5 317.62h-9M1214.5 300.56h-9M1214.5 283.5h-18M1214.5 266.44h-9M1214.5 249.38h-9M1214.5 232.31h-9M1214.5 215.25h-18M1214.5 198.19h-9M1214.5 181.12h-9M1214.5 164.06h-9M1214.5 147h-18M1214.5 129.94h-9M1214.5 112.88h-9M1214.5 95.81h-9M1214.5 78.75h-18M1214.5 61.69h-9M1214.5 44.62h-9M1214.5 27.56h-9M1214.5 10.5h-18M1214.5 556.5v18M1267.06 556.5v9M1319.62 556.5v9M1372.19 556.5v9M1424.75 556.5v18M1477.31 556.5v9M1529.88 556.5v9M1582.44 556.5v9M1635 556.5v18M1687.56 556.5v9M1740.12 556.5v9M1792.69 556.5v9M1845.25 556.5v18M1897.81 556.5v9M1950.38 556.5v9M2002.94 556.5v9M2055.5 556.5v18"/>
<text class="tl" text-anchor="end" x="1181.3" y="565.1">0</text>
<text class="tl" text-anchor="end" x="1181.3" y="496.85">0.25</text>
<text class="tl" text-anchor="end" x="1181.3" y="428.6">0.5</text>
<text class="tl" text-anchor="end" x="1181.3" y="360.35">0.75</text>
<text class="tl" text-anchor="end" x="1181.3" y="292.1">1</text>
<text class="tl" text-anchor="end" x="1181.3" y="223.85">1.25</text>
<text class="tl" text-anchor="end" x="1181.3" y="155.6">1.5</text>
<text class="tl" text-anchor="end" x="1181.3" y="87.35">1.75</text>
<text class="tl" text-anchor="end" x="1181.3" y="19.1">2</text>
<text class="tl" text-anchor="middle" x="1214.5" y="608.1">-2</text>
<text class="tl" text-anchor="middle" x="1424.75" y="608.1">-1</text>
<text class="tl" text-anchor="middle" x="1638.5" y="608.1">0</text>
<text class="tl" text-anchor="middle" x="1848.75" y="608.1">1</text>
<text class="tl" text-anchor="middle" x="2059" y="608.1">2</text>
</g>
<g clip-path="url(#clipB)">
<path class="c" stroke="#f4f4f4" d="M1212.4 243.6l3.2-4.9 2.1-4 1.7-5.2 3.6-12.5 1.4-4.3 1.4-3.2 .7-1 .7-.6 .7 0 .7 .5 .7 .8 1.1 1.8 1.7 4.2 5.3 14.9 6 11.2 2.5 4.1 1.7 2.3 1.8 1.6 1.4 .6 1.4-.1 1.4-.7 1.4-1.2 1.8-2 7-10.8 3.2-4.3 5.3-8.9 2.5-3.3 1.4-1.3 1-.6 1.1-.1 1 .5 1.4 1.4 1.5 2.1 5.6 10.9 7 12.2 5.7 9.3 2.4 3.7 2.2 2.4 2.1 1.4 2.8 1.4 10.9 3.6 2.8 1.3 2.1 1.2 1.8 1.5 2.1 2.1 9.5 11.3 2.5 2.2 2.1 1.3 6.7 2.7 2.5 .7 2.4 .4 2.2 .1 2.1-.1 8.1-1.5 3.1-.3 1.1 .2 1.1 .4 2.1 1.4 12.7 13.1 4.2 4.8 4.9 6.1 6.4 8.3 10.5 16.7 2.8 3.9 2.5 3 5.6 5.8 10.6 9.4 4.6 4.4 6.3 6.7 16.9 18.8 5 5 5.3 5.1 13 11.6 6 4.8 5.6 4.3 6 4.1 15.2 10 30.3 21 21.1 13.7 10.6 7.7 9.5 7.5 4.6 4 8.4 8.2 3.5 3.2 3.2 2.5 8.1 5.6 4.6 3.9 2.5 2.8 2.4 3.2 8.1 11.3 7.1 10.4 6.3 8.1 1.8 1.9 1.7 1.5 5.3 2.4 3.2 1 2.8 .3 393.2 0"/>
<path class="c" stroke="#f4979e" d="M1212.4 369.1l2.8 .7 2.1 1.3 2.5 2.2 6 6.2 8.1 6.2 2.5 1.5 2.8 1.4 2.4 1.1 1.8 .5 7.8 1 12.3 .8 18.7 1.8 36.6 2.9 16.9 1 15.2 .2 17.6-.3 23.2-.8 10.2-.6 11.3-.9 18.3-1.8 19.1-3 31.3-4.2 19.4-3.3 8.1-1.7 6-1.5 13.7-4.3 16.2-5.7 7.8-2.9 7.7-3.4 7.4-4 18.7-11.1 3.9-2.5 3.5-2.6 8.5-7.1 7.4-7.3 6.7-7.7 4.9-7.2 4.6-7.9 4.5-8.5 2.9-6.1 2.1-5.5 2.1-6.9 3.5-13.1 13.1-54.8 3.5-13.4 1.4-4 1.7-3.3 1.8-1.9 .7-.5 .7-.1 1.4 .8 1.4 1.4 1.8 3.2 .7 2.2 4.9 23.3 3.9 20.8 5.6 26.2 2.9 10.1 3.8 10.8 3.6 8.1 3.8 7.8 4.6 8.3 6 10 4.6 7.1 4.6 6.3 4.9 6.1 5.3 6 6 6.1 6 5.5 6.3 5.3 7.4 5.4 7.8 5.2 8.4 5.2 10.2 5.8 11.3 6.1 9.9 4.9 9.5 4.4 8.8 3.7 9.1 3.4 11.3 3.7 13.4 4 11.3 3.2 10.9 2.4 4.2 1.3 2.1 1.1 1.8 1.3 2.5 2.6 2.1 2.7 1.8 3 1.7 3.9 1.8 5.3 .7 3.1 3.2 23.2 4.9 33.4 3.2 17.6 2.4 11.7 1.8 6.3 2.8 7 2.5 5 1.4 2 1 1.1 2.5 1.6 2.8 1.3 2.5 .9 2.5 .3 97.2 0 14.1-.5 18.3-1.3"/>
<path class="c" stroke="#dff1ff" d="M1212.4 389.1l2.8-4.2 1.1-2 3.8-11.1 4.3-10.2 1.4-2.2 2.8-2.8 1.4-.9 1.1-.1 1 .3 1.1 .8 3.5 3.5 3.9 5.5 2.8 2.7 1.8 1.3 1 .3 1.4 0 1.8-.4 2.1-.8 2.1-1 2.1-2.3 5-7.8 5.2-9.1 5.3-7.7 1.4-1.5 2.9-2.3 1.7-1.1 1.4-.5 3.9 0 4.9 .7 2.2 .9 4.5 2.7 8.8 4.6 7.1 2.9 3.9 1.3 3.1 .8 10.3 1.5 24.6 2 11.3 .5 21.1-.3 15.2-1.1 22.5-1 6.7-.8 10.2-1.5 11.3-2.2 24.7-5.5 9.8-2.6 9.2-2.7 6.7-2.2 7.4-2.8 18.3-7.5 10.9-5.5 5.3-3 5.3-3.2 7.8-5.5 7.4-6.1 8.8-8.3 6.3-6.9 5.6-7.1 5.7-8.4 5.6-9.6 3.9-7.9 2.5-6 2.4-6.8 2.8-8.9 1.8-6.6 12-52.8 6.3-30.9 3.5-15.5 1.1-3.6 1.4-3.9 1.4-2.2 .7-.5 .4 0 1 .8 1.8 2.3 1.4 3 .7 2.6 6 37.4 3.9 21.6 7.7 36.9 4.3 17.1 3.8 12.4 2.1 5.7 1.8 4.2 2.5 5.1 2.8 5.2 2.8 4.5 2.8 4 5 5.9 10.9 11.6 7.7 7.6 8.5 7.5 7.7 6.2 8.5 6.1 8.4 5.5 9.2 5.4 7.1 3.7 10.5 5 6 2.5 5.3 1.8 5.6 1.5 3.6 .8 8.4 .7 7.1 .1 8.1-1.2 2.8-.1 1.4 .6 1.8 1.3 2.1 2.2 .7 1.2 1 2.6 1.8 5.4 1.8 6.7 1.7 8.8 2.1 13.2 3.2 26.3 8.1 73.3 2.8 23.6 2.1 14.7 1.4 7.9 2.5 10.5 .7 1.9 1.1 2 2.1 3 1.4 1.2 3.2 1.8 2.1 .7 1.7 .2 199.8 0"/>
<path class="c" stroke="#dedede" d="M1212.4 196.5l2.8-4.8 3.9-8.8 1.8-3.4 1-1.4 .7-.6 1.1-.1 .7 .4 1.4 2 1.7 4.2 6.4 21.1 8.1 22.7 2.8 6.4 1.4 2.3 1.8 2.2 3.9 3.8 6.3 5 3.2 2.2 9.1 5.9 2.8 2.1 2.9 2.5 4.9 4.9 6.3 7.1 8.8 11.7 3.6 4.2 3.5 3.3 8.1 6.5 4.6 4.2 1.7 1.2 2.5 1.2 9.2 3.2 3.5 1.6 4.2 2.9 5.3 4.7 3.9 4.2 4.6 5.9 2.8 4.1 7.4 11.9 4.2 5.6 3.9 4.6 6 5.9 9.5 8.2 23.6 20.9 3.9 3.7 5.2 5.8 8.1 9.9 6 7.7 3.2 3.5 1.8 1.5 2.8 2 6.3 3.6 27.9 13.5 27.1 12.5 7.4 3.7 5.3 3 3.5 2.2 7.4 5.5 8.8 5 4.9 3.5 6.4 5.4 8.4 8.6 5 4.4 2.8 2.2 3.5 2 6.7 2.5 3.2 1.5 3.5 1.9 3.2 2 2.4 2 2.1 2.2 6.4 8.2 2.5 3.8 6.3 10.5 5.3 8 3.2 4.3 1.7 2 4.6 4.5 2.5 1.9 2.1 1.2 6.3 2 2.5 .5 2.1 .1 427 0"/>
<path class="c" stroke="#f0747c" d="M1212.4 390.9l66.6 5.5 12.7 .9 10.9 .5 15.5 0 21.1-.4 21.2-.8 16.5-1.2 18.7-1.9 19.4-3.1 27.8-3.6 15.9-2.6 12.3-2.3 9.9-2.5 11.6-3.6 21.1-7.5 6.4-2.5 5.3-2.4 8.1-4.4 18.3-10.9 4.9-3.3 6.7-5.3 7.8-7.1 7-7.5 4.9-6.2 5-7.8 4.5-8.1 3.2-6.1 2.5-5.4 2.1-5.6 2.1-7 3.5-13.1 13.1-54.9 3.5-13.3 1.4-4 1.8-3.1 .7-.9 1.4-1.2 1-.2 1.8 1.2 1.1 1.2 1.4 2.6 .7 1.9 4.9 23.1 3.9 20.9 5.6 26.4 2.8 10.3 3.9 10.9 3.5 8.1 3.9 7.9 4.6 8.3 6 10.1 4.6 7 4.5 6.4 5 6 5.3 6 5.9 6.2 6.4 5.8 6.3 5.2 7.1 5.2 7.7 5.2 8.5 5.2 10.2 5.8 11.6 6.3 9.9 4.9 9.5 4.4 8.8 3.7 8.8 3.2 11.6 3.9 13.4 4 11.3 3.1 10.6 2.3 4.2 1.4 2.1 1 1.8 1.3 2.1 2.1 2.5 3 1.7 2.9 1.4 3 1.8 4.8 1 3.9 1.1 6.5 2.5 18.8 4.9 33.3 3.2 17.4 2.4 11.6 1.8 6 3.2 7.8 2.4 4.6 1.1 1.4 1 1.1 2.5 1.5 2.8 1.3 2.5 .8 2.1 .3 94.1 0 8.8-.1 9.5-.5 36.3-2.6 16.9-.9"/>
<path class="c" stroke="#b5dfff" d="M1212.4 389.1l2.8-4.2 1.1-2 3.8-11.1 4.3-10.2 1.4-2.2 2.8-2.8 1.4-.9 1.1-.1 1 .3 1.1 .8 3.5 3.5 3.9 5.5 2.8 2.7 1.8 1.3 1 .3 1.4 0 1.8-.4 2.1-.8 2.1-1 2.1-2.3 5-7.8 5.2-9.1 5.3-7.7 1.4-1.5 2.9-2.3 1.7-1.1 1.4-.5 3.9 0 4.9 .7 2.2 .9 4.5 2.7 8.8 4.6 7.1 2.9 3.9 1.3 3.1 .8 10.3 1.5 24.6 2 11.3 .5 21.1-.3 15.2-1.1 22.5-1 6.7-.8 10.2-1.5 11.3-2.2 24.7-5.5 9.8-2.6 9.2-2.7 6.7-2.2 7.4-2.8 18.3-7.5 10.9-5.4 5.3-3 5.3-3.3 7.8-5.5 7.4-6.1 8.8-8.3 6.3-6.8 5.6-7.1 5.3-7.8 5.7-9.5 4.2-8.5 2.5-6 2.4-6.8 2.8-8.9 1.8-6.5 12-53 6.3-30.9 3.5-15.5 1.1-3.7 1.4-3.9 1.4-2.2 .7-.5 .4 0 1 .8 1.8 2.3 1.4 3 .7 2.7 5.6 35.4 4.3 23.7 7.7 37 4.3 17 3.8 12.3 2.1 5.7 1.8 4.2 2.5 5.1 2.8 5.2 2.8 4.5 2.8 4 5 5.9 10.9 11.6 7.7 7.5 8.5 7.6 7.7 6.1 8.5 6.1 8.4 5.5 9.2 5.4 7.1 3.7 10.5 5 6 2.5 5.3 1.8 5.6 1.5 3.6 .8 8.4 .7 7.1 .1 8.1-1.2 2.8-.1 1.4 .6 1.8 1.3 2.1 2.2 .7 1.2 1 2.6 1.8 5.4 1.8 6.7 1.7 8.8 2.1 13.2 3.2 26.3 8.1 73.3 2.8 23.6 2.1 14.7 1.4 7.9 2.5 10.5 .7 1.9 1.1 2 2.1 3 1.4 1.2 3.2 1.8 2.1 .7 1.7 .2 199.8 0"/>
<path class="c" stroke="#cacaca" d="M1212.4 237.4l3.2 3.5 3.8 3.3 6.4 4.8 10.9 7 5.3 4.5 4.9 5 6 6.6 8.8 11.8 3.5 4.2 3.6 3.3 8.1 6.5 4.6 4.1 1.7 1.3 2.5 1.2 9.1 3.2 3.9 1.8 4.2 2.9 5 4.4 3.9 4.2 4.5 5.9 2.8 4.1 7.4 12 4.3 5.5 3.9 4.6 5.9 6 9.6 8.1 23.6 21 4.2 4 5.6 6.3 7.4 9 6.7 8.6 3.2 3.3 4.6 3.3 6 3.3 27.4 13.4 27.2 12.5 7.4 3.7 5.2 2.9 3.6 2.3 7.4 5.4 8.8 5.1 4.9 3.5 6.4 5.3 8.4 8.7 4.9 4.3 2.9 2.2 3.5 2 6.7 2.6 3.5 1.6 3.5 2 3.2 2.1 2.1 1.7 2.5 2.6 6.3 8.3 2.5 3.8 6 10 5.3 7.9 3.1 4.3 2.8 3.1 3.9 3.7 2.5 1.9 2.1 1.1 6 1.9 2.5 .5 2.1 .1 461.5 0"/>
<path class="c" stroke="#ec4c56" d="M1212.4 394.1l39.1 3 12.3 .6 11.3 .2 20.8-.4 26.8-.9 15.5-1.1 18.3-1.8 20.8-3.3 33.8-4.5 14.8-2.5 12-2.6 6-1.5 6.7-2.1 22.5-7.8 10.6-4.2 8.1-3.9 6.7-3.9 17.2-10.3 6-4.4 6.4-5.2 7.4-7.1 7-7.9 4.2-5.7 5-8.1 4.2-7.6 2.8-5.6 2.5-5.6 1.8-4.9 2.1-7.1 3.5-13.2 12.7-53.7 3.5-13.4 1.4-4 1.8-3.2 1.7-1.9 .7-.5 .7 0 1.8 1.1 1.4 1.8 1.4 2.8 .7 2.4 4.6 21.8 3.9 20.9 5.6 26.4 2.8 10.4 3.9 10.9 3.5 8.1 3.9 7.9 4.6 8.3 6 10.1 4.6 7 4.5 6.4 5 6.1 5.3 5.9 5.9 6.2 6.4 5.8 6.3 5.2 7.4 5.4 7.8 5.2 8.4 5.2 10.2 5.8 11.7 6.2 9.8 4.9 9.6 4.4 8.8 3.7 8.8 3.2 11.6 3.9 13.4 4 10.9 3 10.6 2.3 4.2 1.3 2.1 1 2.1 1.6 2.1 2.2 2.2 2.6 1.7 2.9 1.4 2.9 1.8 4.8 1 3.8 1.1 6.4 2.5 18.8 4.9 33.3 3.2 17.5 2.4 11.6 1.8 6.2 2.8 7 2.5 4.8 1.4 2 1.1 1.1 2.8 1.7 2.8 1.3 2.5 .8 2.1 .2 95.4 0 8.9-.2 9.5-.5 41.2-2.9 47.9-2.1"/>
<path class="c" stroke="#7fc8ff" d="M1212.4 389.1l2.8-4.2 1.1-2 3.8-11.1 4.3-10.2 1.4-2.2 2.8-2.8 1.4-.9 1.1-.1 1 .3 1.1 .8 3.5 3.5 3.9 5.5 2.8 2.7 1.8 1.3 1 .3 1.4 0 1.8-.4 2.1-.8 2.1-1 2.1-2.3 5-7.8 5.2-9.1 5.3-7.7 1.4-1.5 2.9-2.3 1.7-1.1 1.4-.5 3.9 0 4.9 .7 2.2 .9 4.5 2.7 8.8 4.6 7.1 2.9 3.9 1.3 3.1 .8 10.3 1.5 24.6 2 11.3 .5 21.1-.3 15.2-1.1 22.5-1 6.7-.8 9.9-1.5 11.3-2.1 24.6-5.5 9.9-2.6 9.1-2.7 6.7-2.2 7.4-2.7 18.4-7.6 5.6-2.6 5.6-2.9 5.3-3 5.3-3.3 7.8-5.4 7.4-6.1 8.8-8.3 6.3-6.8 5.6-7.1 5.3-7.8 5.7-9.5 4.2-8.5 2.5-6 2.4-6.8 2.8-8.9 1.8-6.4 12-53 6.7-32.7 3.1-13.9 1.5-4.7 1.4-3.6 1.4-1.8 .7-.2 1 .8 1.8 2.3 1.4 3.1 .7 2.6 5.6 35.5 4.3 23.8 4.2 19.6 3.2 15.8 4.2 17.3 3.9 12.6 2.1 5.8 1.8 4.2 2.4 5.2 2.8 5.3 2.9 4.6 3.1 4.5 5 5.9 10.9 11.5 7.7 7.6 8.5 7.5 7.7 6.2 8.5 6 8.4 5.5 9.2 5.4 7.1 3.7 10.5 5 6 2.5 5.3 1.8 5.6 1.5 3.6 .8 8.4 .7 7.1 .1 8.1-1.2 2.8-.1 1.4 .6 1.8 1.3 2.1 2.2 .7 1.2 1 2.6 1.8 5.4 1.8 6.7 1.7 8.8 2.1 13.2 3.2 26.3 8.1 73.3 2.8 23.6 2.1 14.7 1.4 7.9 2.5 10.5 .7 1.9 1.1 2 2.1 3 1.4 1.2 3.2 1.8 2.1 .7 1.7 .2 199.8 0"/>
<path class="c" stroke="#b6b6b6" d="M1212.4 265.4l6.7 7.5 10.2 13.5 2.5 2.7 3.1 2.8 7.1 5.7 4.6 4.1 1.7 1.3 3.6 1.8 8.4 2.9 3.9 1.7 4.6 3.3 5.3 4.8 3.5 3.9 4.6 5.9 2.8 4.2 7 11.4 4.2 5.6 4.3 4.9 5.6 5.6 9.5 8.2 23.6 20.9 4.3 4 5.6 6.3 7.7 9.5 6.4 8.1 3.5 3.7 4.6 3.2 5.6 3.1 27.5 13.3 27.1 12.6 7.4 3.7 5.3 2.9 3.5 2.3 7.4 5.4 8.9 5.1 4.9 3.4 6.7 5.7 8.1 8.3 4.9 4.4 2.8 2.2 3.6 2 6.6 2.6 3.2 1.4 3.5 1.9 3.2 2.1 2.5 1.9 2.1 2.2 2.5 3 3.8 5.2 2.5 3.7 6.7 11.1 5.6 8.5 3.2 4.1 4.2 4.4 3.2 2.7 2.5 1.6 3.1 1.2 4.6 1.2 3.5 .4 473.2 0 2.8-.3 3.2-.8 11.6-3.8 5.3-2.1"/>
<path class="c" stroke="#e8303c" d="M1212.4 396.7l17.6 1 15.9 .2 27.4-.7 14.8-.5 10.3-.7 13.4-1.1 14-1.5 19.1-3 28.9-3.8 15.8-2.6 13-2.6 9.9-2.5 11.3-3.7 21.1-7.5 7.4-3 6-2.9 21.5-12.6 6.3-4.2 8.1-6.4 6.7-6.1 6.4-6.8 4.2-5.1 3.9-5.6 4.9-8.3 5.3-9.9 2.5-5.5 2.1-5.5 4.6-16.1 5.3-21.7 8.8-37.6 3.5-13.3 1-3.1 1.8-3.3 1.8-2 .7-.6 .7-.1 1.4 .7 1.4 1.4 1.4 2.4 1.1 2.9 4.9 23.5 3.9 20.9 5.6 26.4 2.8 10.1 3.5 9.9 3.6 8.2 3.8 7.9 4.6 8.4 6 10 4.6 7.1 4.6 6.4 4.9 6 5.3 6 6 6.1 6.3 5.9 6.4 5.2 7 5.2 7.8 5.2 8.4 5.2 10.2 5.8 11.7 6.2 9.8 5 9.5 4.4 8.8 3.7 9.2 3.4 11.3 3.7 13.4 4 11.6 3.3 10.6 2.2 4.2 1.4 2.1 1 1.8 1.4 2.1 2.1 2.4 3.1 1.8 2.9 1.8 3.9 1.7 5.2 .7 2.9 1.1 6.8 2.1 16.3 4.9 33.5 3.2 17.6 2.5 11.9 1.7 6.4 3.2 7.9 2.5 4.7 1.4 1.9 1 1.1 2.9 1.6 2.4 1.2 2.5 .7 2.1 .3 97.6 0 17.3-.7 39.8-2.9 42.2-1.8 38.8-2.1"/>
<path class="c" stroke="#4db4ff" d="M1212.4 389.6l3.2-4.6 1-2 3.9-11.1 4.2-10.2 1.4-2.2 2.9-2.9 1.4-.8 1-.2 1.1 .3 1 .7 3.6 3.5 4.2 5.8 2.8 2.7 1.4 1.1 1.1 .3 1.4 0 1.7-.3 2.2-.8 2.4-1.2 2.1-2.5 5-7.8 4.9-8.6 5.3-7.7 1.4-1.6 2.8-2.3 1.8-1.2 1.4-.5 3.9 0 4.9 .7 2.1 .9 4.6 2.7 8.8 4.6 7 2.9 3.6 1.2 3.1 .9 10.6 1.5 24.3 2 11.3 .5 21.1-.3 15.2-1.1 22.5-1 6.7-.8 10.2-1.5 11.3-2.2 24.7-5.5 9.8-2.6 9.2-2.7 6.7-2.2 7.4-2.8 18.3-7.5 5.6-2.7 5.7-2.9 5.3-3 5.3-3.3 7.4-5.2 7.4-6.1 9.1-8.6 6-6.5 5.6-7.1 5.3-7.7 5.7-9.5 4.2-8.5 2.5-5.9 2.4-6.8 2.5-7.7 2.1-7.6 12-53.1 6.7-32.7 3.1-14 1.5-4.7 1.4-3.6 1.4-1.8 .7-.2 1 .8 1.8 2.3 1.4 3.1 .7 2.7 5.6 35.6 4.3 23.7 4.2 19.7 3.2 15.8 4.2 17.3 3.9 12.5 2.1 5.8 1.8 4.3 2.4 5.1 2.8 5.3 2.9 4.6 3.1 4.5 5 5.8 10.9 11.6 7.7 7.5 8.5 7.5 7.7 6.2 8.5 6 8.4 5.5 9.2 5.4 7.1 3.7 10.5 5 6 2.5 5.3 1.8 5.6 1.5 3.6 .8 8.4 .7 7.1 .1 8.1-1.2 2.8-.1 1.4 .6 1.8 1.3 2.1 2.2 .7 1.2 1 2.6 1.8 5.4 1.8 6.7 1.7 8.8 2.1 13.2 3.2 26.3 8.1 73.3 2.8 23.6 2.1 14.7 1.4 7.9 2.5 10.5 .7 1.9 1.1 2 2.1 3 1.4 1.2 3.2 1.8 2.1 .7 1.7 .2 199.8 0"/>
<path class="c" stroke="#a2a2a2" d="M1212.4 301.9l1.8 1.3 2.4 1.3 9.5 3.3 3.6 1.6 4.2 2.9 5.3 4.8 3.5 3.8 4.6 5.9 2.8 4 7.4 12 4.2 5.6 4.2 5 5.7 5.6 9.5 8.2 23.6 20.9 4.2 4 6 6.7 7.4 9 6.4 8.2 3.5 3.6 4.9 3.5 5.7 3.1 27.1 13.1 26.4 12.2 9.2 4.6 6.7 3.9 8.8 6.4 7.7 4.4 3.5 2.3 3.9 3 4.2 3.6 8.5 8.7 4.9 4.4 2.9 2.2 3.8 2.3 7.1 2.7 4.6 2.2 4.2 2.5 3.2 2.5 3.8 4.3 5.3 7 8.5 13.9 5.6 8.4 3.5 4.6 5 4.9 3.1 2.6 2.1 1.1 5.7 1.8 2.8 .6 2.5 .1 473.5 0 2.1-.3 2.5-.7 12.3-4 5.3-2.2 3.9-2.2 4.2-3.4 7-6.9 10.9-12 4.3-3.8 4.2-3.3"/>
<path class="c" stroke="#e41a28" d="M1212.4 397.9l18.7-.4 23.6-.9 13.7-1 15.9-1.4 8.4-1.1 18.3-2.9 29.3-3.8 14.4-2.4 11.3-2.2 8.5-2.1 9.5-2.9 20.8-7.2 10.2-3.9 5.6-2.6 5.7-3 17.9-10.6 5-3.1 7-5.3 6.7-5.8 6.3-6.3 6-6.8 3.5-4.8 3.9-6.1 5.7-10.1 3.1-6.2 2.1-4.9 1.8-4.9 4.6-16.2 14.1-59.4 3.2-12 1.4-4.1 1.7-3.2 .7-.9 1.4-1.2 1.1-.2 1.8 1.2 1 1.2 1.4 2.6 .7 2 5 23.4 3.8 21 5.7 26.5 2.8 10.2 3.5 9.9 3.5 8.3 3.9 7.9 4.6 8.4 6 10 4.6 7.1 4.5 6.4 5 6.1 5.3 5.9 5.9 6.2 6.4 5.8 6.3 5.2 7.4 5.5 7.8 5.2 8.4 5.1 10.3 5.8 11.6 6.3 9.8 4.9 9.6 4.4 8.8 3.7 9.1 3.4 11.6 3.8 13.4 4 11 3 10.5 2.3 4.3 1.4 2.1 1 1.7 1.3 2.1 2.1 2.5 3 1.8 2.9 1.4 3 1.7 4.8 1.1 3.8 1.1 6.6 2.4 18.7 5 33.4 3.1 17.3 2.5 11.6 1.8 6.1 3.1 7.8 2.5 4.6 1.4 1.8 1.1 .9 2.8 1.6 2.4 1.1 2.5 .8 2.1 .2 99.7-.1 16.2-.7 38.4-2.8 38.1-1.6 33.5-1.7 25.7-1.6 19-1.5"/>
<path class="c" stroke="#1ea0ff" d="M1212.4 390.2l2.5-3.4 2.1-3.5 3.9-11 4.2-10.2 1.4-2.4 2.8-2.9 1.4-.9 1.1-.3 1 .2 1.1 .6 3.9 3.8 3.8 5.5 2.9 2.7 1.4 1.1 1.4 .5 1.4 0 2.1-.4 2.1-.8 2.1-1.1 2.1-2.4 5-7.9 4.9-8.6 5.3-7.8 1.4-1.5 2.8-2.4 1.8-1.1 1.4-.5 4.6 .1 3.1 .4 1.4 .4 15.9 8.5 4.2 1.8 5 1.7 4.5 1.2 9.6 1.3 24.3 2 10.9 .5 21.1-.3 15.2-1.1 22.5-1 6.7-.8 10.2-1.5 11.3-2.2 24.7-5.5 9.8-2.6 9.2-2.7 6.7-2.2 7.4-2.8 18.3-7.5 5.6-2.7 5.7-2.9 5.3-3 5.3-3.3 7.4-5.2 7.4-6.1 9.1-8.6 6-6.4 5.6-7.1 5.3-7.7 5.7-9.5 4.2-8.4 2.5-6 2.4-6.7 2.5-7.7 2.1-7.6 12-53.1 6.7-32.8 3.1-14 1.5-4.8 1.4-3.6 1.4-1.8 .7-.2 1 .8 1.8 2.3 1.4 3.1 .7 2.7 5.6 35.7 4.3 23.8 4.2 19.7 3.2 15.8 4.2 17.3 3.9 12.5 2.1 5.8 1.8 4.2 2.4 5.2 2.8 5.2 2.9 4.6 3.1 4.4 5 5.9 10.9 11.6 7.7 7.4 8.5 7.6 7.7 6.1 8.5 6.1 8.4 5.4 9.2 5.4 7.1 3.7 10.5 5 6 2.5 5.3 1.8 5.6 1.5 3.6 .8 8.4 .7 7.1 .1 8.1-1.2 2.8-.1 1.4 .6 1.8 1.3 2.1 2.2 .7 1.2 1 2.6 1.8 5.4 1.8 6.7 1.7 8.8 2.1 13.2 3.2 26.3 8.1 73.3 2.8 23.6 2.1 14.7 1.4 7.9 2.5 10.5 .7 1.9 1.1 2 2.1 3 1.4 1.2 3.2 1.8 2.1 .7 1.7 .2 199.8 0"/>
<path class="c" stroke="#8e8e8e" d="M1212.4 323.8l4.6 6.2 8.1 13.1 4.2 5.5 3.9 4.6 6 5.9 9.5 8.2 23.6 21 3.9 3.6 6 6.7 7.4 9 6.6 8.6 3.6 3.6 4.6 3.2 5.6 3.1 27.5 13.3 26 12 9.6 4.8 6.6 3.9 8.9 6.4 7.4 4.2 3.5 2.3 3.9 3 4.2 3.6 8.8 8.9 4.9 4.4 2.8 2.2 3.6 2.1 7.4 2.9 4.2 2 4.2 2.5 3.2 2.4 3.9 4.2 5.2 7.1 8.9 14.3 5.6 8.5 3.5 4.5 4.9 4.9 3.2 2.5 2.8 1.3 5.7 1.7 4.2 .5 470.3-.1 4.6-.9 12.4-4.1 4.9-2.1 3.9-2.1 4.2-3.4 7.4-7.2 8.4-9.5 2.9-2.9 7-5.9 5.6-3.9 7.1-3.5 12-4.8 6.3-2.3 6-1.6"/>
<path class="c" stroke="#cf1522" d="M1212.4 397.2l13.7-.5 10.3-.7 12.6-1 13.8-1.4 19.4-3.1 25-3.2 10.5-1.6 14.5-2.5 12-2.6 8.1-2.2 10.2-3.4 18-6.3 9.8-4 5.3-2.6 6.3-3.5 16.6-9.8 6-4 6.7-5.2 6.3-5.7 5.7-5.7 5.6-6.5 3.2-4.4 3.8-6.1 5.7-10.1 3.2-6.3 2.1-4.9 1.7-4.9 4.6-16.3 13.8-58.2 3.5-13.3 1-3.1 1.8-3.4 1.8-2 .7-.6 .7-.1 1.4 .7 1.4 1.4 1.7 3.3 .7 2.2 4.6 21.9 3.9 21.1 5.6 26.6 1.1 4.3 1.8 6.1 3.8 10.9 3.6 8.2 3.8 7.9 4.6 8.3 6 10.1 4.6 7 4.6 6.4 4.9 6 5.3 5.9 6 6.2 6.3 5.8 6.4 5.2 7 5.2 7.8 5.1 8.4 5.2 10.2 5.8 11.6 6.3 9.9 4.9 9.5 4.4 8.8 3.7 9.2 3.4 11.3 3.7 13.4 4 11.6 3.3 10.6 2.2 4.2 1.4 2.1 1.1 1.8 1.3 2.1 2.1 2.4 3.1 1.8 2.9 1.8 4 1.7 5.2 .7 2.9 1.1 6.8 2.1 16.4 4.9 33.4 3.2 17.6 2.5 11.8 1.7 6.4 3.6 8.7 2.4 4.5 1.4 1.7 1.1 .9 2.8 1.6 2.5 1.1 2.1 .6 2.1 .3 101.8-.1 15.2-.8 37-2.6 44-1.9 39.8-2.2 26.8-1.9 33.1-2.9"/>
<path class="c" stroke="#1090ee" d="M1212.4 390.9l2.5-3.1 2.8-4.6 3.9-11 3.1-7.8 1.4-3.1 1.1-1.6 2.8-2.9 1.4-.9 1.1-.3 1 .2 1.1 .6 3.9 3.8 4.2 5.8 2.8 2.7 1.1 .7 1.4 .5 1.4 .1 2.1-.4 2.1-.7 2.5-1.3 1.7-2.1 5-7.8 4.9-8.8 5.3-7.8 1.4-1.6 2.8-2.3 1.8-1.2 1.4-.5 4.2 0 4.6 .7 1.8 .8 4.9 2.9 8.5 4.5 7 3 3.5 1.2 3.2 .8 10.2 1.5 24 2 10.9 .5 21.1-.3 15.2-1.1 22.5-1 6.7-.8 10.2-1.5 11.7-2.3 24.6-5.5 9.9-2.6 9.1-2.7 6.7-2.2 7.4-2.8 18.4-7.6 5.6-2.6 5.6-3 5.3-3 5.3-3.3 7.4-5.2 7.4-6.1 8.8-8.3 6.4-6.8 5.6-7.2 5.6-8.4 5.7-9.5 3.8-8 2.5-6 2.5-6.9 2.4-7.8 1.8-6.4 12-53.2 6.7-32.8 3.1-14.1 1.5-4.8 1.4-3.6 1.4-1.8 .7-.2 1.4 1.2 1.4 1.9 1.4 3.2 .7 2.7 5.6 35.8 4.3 23.8 3.8 18 3.6 17.5 4.2 17.3 3.9 12.5 2.1 5.7 1.8 4.2 2.4 5.2 2.8 5.2 2.9 4.6 2.8 4 4.9 5.9 10.9 11.6 8.1 7.8 8.5 7.5 7.7 6.1 8.5 6.1 8.4 5.4 9.2 5.4 7.1 3.7 10.5 5 6 2.5 5.3 1.8 5.6 1.5 3.6 .8 8.4 .7 7.1 .1 8.1-1.2 2.8-.1 1.4 .6 1.8 1.3 2.1 2.2 .7 1.2 1 2.6 1.8 5.4 1.8 6.7 1.7 8.8 2.1 13.2 3.2 26.3 8.1 73.3 2.8 23.6 2.1 14.7 1.4 7.9 2.5 10.5 .7 1.9 1.1 2 2.1 3 1.4 1.2 3.2 1.8 2.1 .7 1.7 .2 199.8 0"/>
<path class="c" stroke="#767676" d="M1212.4 365.7l25.4 22.5 4.2 4 5.6 6.4 7.4 9 7.1 8.9 2.4 2.6 2.9 2.2 3.8 2.5 4.6 2.4 27.1 13.2 27.2 12.5 7.4 3.7 5.3 3 3.5 2.2 7.4 5.5 8.8 5 4.9 3.5 6.4 5.4 8.4 8.6 4.9 4.4 2.9 2.2 3.5 2 6.7 2.5 3.9 1.8 3.8 2.2 3.2 2.2 2.1 1.9 2.1 2.3 6 7.9 2.5 3.8 5.3 8.9 4.2 6.5 3.5 5.1 2.8 3.4 5 4.9 3.1 2.4 1.5 .7 3.1 1.1 5 1.3 2.8 .2 460.8-.1 4.6-1 12-3.9 4.9-2 3.9-2.1 4.2-3.4 7.4-7.2 9.5-10.6 4.6-4.3 4.2-3.4 3.9-2.8 3.5-2.1 4.6-2.3 16.2-6.5 4.2-1.4 5-1.3 13.7-2.7 30.3-4.6"/>
<path class="c" stroke="#a8101a" d="M1212.4 395.3l18-1.9 18.3-2.9 33.8-4.6 11.3-1.8 9.1-1.8 7.8-1.7 6.7-1.9 9.5-3 18.7-6.6 7.7-3 6.4-2.8 8.1-4.4 18.3-10.8 4.9-3.3 6.4-5 5.2-4.6 5-4.8 4.9-5.4 4.2-5.3 3.6-5.2 4.2-7.2 4.6-8.4 3.1-6.7 1.8-4.4 1.4-4.2 4.2-15.3 13.8-58.4 3.2-12.1 1.4-4.1 1.7-3.3 1.8-1.9 .7-.5 .7 0 1.8 1.2 1 1.2 1.4 2.6 .7 2 5 23.5 3.8 21.1 5.7 26.5 2.8 10.2 3.5 9.9 3.5 8.2 3.9 8 4.6 8.3 6 10.1 4.6 7 4.5 6.4 5 6.1 5.3 5.9 5.9 6.1 6.4 5.9 6.3 5.2 7.4 5.4 7.8 5.2 8.4 5.1 10.3 5.8 11.6 6.2 9.8 5 9.6 4.4 8.8 3.7 9.1 3.3 11.7 3.9 13.3 4 11 3 10.5 2.3 4.3 1.3 2.1 1 2.1 1.6 2.1 2.2 2.1 2.6 1.8 2.9 1.4 2.9 1.7 4.8 1.1 3.8 1.1 6.4 2.4 18.8 5 33.4 3.5 19.2 2.4 11.3 1.1 3.7 1.1 2.8 3.5 8.1 2.5 3.9 1 1.1 1.4 .9 4.6 2.3 2.1 .6 2.1 .2 94.1 0 10.9-.2 13.4-.8 34.5-2.5 55-2.4 47.2-2.9 20.8-1.6 35.9-3.3 10.9-1.3 8.5-1.5"/>
<path class="c" stroke="#0a6cb5" d="M1212.4 391.9l2.5-2.7 3.5-5.3 1.4-3.4 2.8-8.2 3.9-9.4 1.8-3.1 2.8-3 1.4-.9 1-.3 1.1 .1 1.1 .6 3.8 3.7 4.3 5.8 2.4 2.3 2.1 1.4 1.4 .5 1.5 0 1.7-.3 2.1-.8 2.5-1.3 1.8-2.1 4.9-8 4.9-8.8 5-7.4 1.4-1.6 2.8-2.4 1.7-1.2 1.5-.6 3.5 0 4.9 .6 2.1 .9 5 3 8.4 4.6 6.7 2.8 3.5 1.2 3.2 .8 10.2 1.5 23.6 2 10.6 .5 21.1-.3 15.2-1.1 22.5-1 6.7-.8 10.2-1.5 11.7-2.3 24.6-5.5 9.9-2.6 9.1-2.7 6.7-2.2 7.8-2.9 10.6-4.3 7.7-3.3 5.7-2.7 5.6-3 5.3-3 5.3-3.3 7.4-5.3 7.4-6.1 8.8-8.3 6.3-6.9 5.6-7.2 5.3-7.9 5.7-9.5 3.8-8 2.5-6 2.5-6.8 2.4-7.8 1.8-6.4 12-53.2 6.7-32.9 3.5-15.5 1.4-4.5 1.1-2.6 1.4-1.8 .7-.2 1.4 1.2 1.4 1.9 1.4 3.2 .7 2.8 5.6 35.8 4.3 23.9 3.8 18 3.6 17.5 4.2 17.3 3.9 12.4 2.1 5.8 1.8 4.2 2.4 5.1 2.8 5.2 2.9 4.6 2.8 4 4.9 5.8 10.9 11.6 8.1 7.8 8.5 7.5 7.7 6.1 8.5 6.1 8.4 5.4 9.2 5.4 7.1 3.7 10.5 5 6 2.5 5.3 1.8 5.6 1.5 3.6 .8 8.4 .7 7.1 .1 8.1-1.2 2.8-.1 1.4 .6 1.8 1.3 2.1 2.2 .7 1.2 1 2.6 1.8 5.4 1.8 6.7 1.7 8.8 2.1 13.2 3.2 26.3 8.1 73.3 2.8 23.6 2.1 14.7 1.4 7.9 2.5 10.5 .7 1.9 1.1 2 2.1 3 1.4 1.2 3.2 1.8 2.1 .7 1.7 .2 199.8 0"/>
<path class="c" stroke="#5e5e5e" d="M1212.4 397.1l3.5 1.7 8.5 3.6 7.4 4 9.1 4.5 3.6 1.4 7 2.3 2.8 1.3 2.8 2 6 5.3 2.5 2 4.2 2.7 16.9 9.9 5.3 3.3 3.5 2.6 7.8 6.6 3.2 2.3 5.6 2.9 21.1 9.1 6.4 3.4 6.3 4 6 4.3 9.2 7.5 12.3 9.8 15.2 13.6 3.1 2.3 7.1 4.5 3.5 2.8 3.2 3.4 6.7 9 7 8.6 3.2 3.5 2.4 2.2 2.9 2.1 3.5 2.2 10.9 5.9 3.9 1.4 6.7 1.2 2.8 .2 442.9-.1 2.1-.3 2.4-.7 9.9-3.7 5.3-2.3 4.9-2.7 3.2-2.3 3.5-2.9 7.1-6.2 9.5-9.5 8.4-6.7 5-3.3 6.3-3.6 6-3 6.7-2.9 4.9-1.9 4.2-1.3 6-1.5 7.4-1.5 18.7-3.1 37.7-5.6"/>
<path class="c" stroke="#8a0c14" d="M1212.4 393.6l20.8-3.2 28.5-3.7 15.5-2.5 8.8-1.7 7.8-1.7 6-1.6 7-2.2 25.4-8.8 7-2.8 6-2.8 7.8-4.3 18.3-10.9 6.3-4.6 6.7-5.5 5-4.5 4.5-4.7 5-5.7 2.8-3.7 3.9-6 4.5-8 3.9-7.3 2.8-6.2 2.9-7.9 4.2-15.3 13.7-58.5 3.2-12 1.1-3.2 1.7-3.5 1.4-1.8 1.1-.8 .7-.2 1 .4 1.8 1.7 1.4 2.4 1.1 3 4.6 22 3.8 21.1 5.7 26.7 2.8 10.4 3.9 11 3.5 8.2 3.9 7.9 4.5 8.3 5.7 9.4 4.6 7.1 4.5 6.4 5 6.1 5.3 5.9 5.9 6.2 6.4 5.8 6.3 5.2 7.4 5.5 7.8 5.1 8.4 5.2 10.2 5.8 11.7 6.2 9.8 5 9.6 4.4 8.8 3.7 9.1 3.4 11.3 3.7 13.4 4 11.6 3.2 10.6 2.3 4.2 1.4 2.1 1 1.8 1.3 2.1 2.1 2.5 3.1 1.7 2.9 1.8 3.9 1.7 5.2 .7 2.8 1.1 6.7 2.1 16.3 5 33.6 3.1 17.6 2.8 13.4 1.8 5.9 2.1 5.3 2.1 4.6 1.4 2.4 1.1 1.4 1.1 1 1.7 1.1 2.5 1.3 2.1 .8 2.1 .5 1.8 .2 94.4 0 15.1-.5 44.1-3 41.2-1.8 37-2 23.6-1.5 21.8-1.8 32.8-2.9 13-1.5 6.4-1.2 7-1.6 7.8-2 2.8-1.2"/>
<path class="c" stroke="#075a97" d="M1212.4 392.7l1.4-.8 1.8-1.7 4.2-6 1.4-3.2 3.2-9.1 3.9-9.2 1.7-3 2.8-2.9 1.4-.9 1.1-.3 1.1 .1 1 .6 3.9 3.6 4.6 6.1 2.8 2.3 1.7 1.1 1.5 .6 1.4 0 1.7-.3 2.1-.8 2.5-1.3 1.8-2.2 4.5-7.5 5-9 3.5-5.6 1.8-2.4 1.4-1.6 2.8-2.3 1.4-1 1.4-.5 4.6 .1 2.8 .3 1.4 .4 1.8 .9 4.6 2.8 8.8 4.8 3.8 1.7 5 1.9 4.6 1.2 9.5 1.3 22.9 2 10.5 .5 20.8-.3 14.8-1 16.6-.7 6.7-.4 6.7-.8 9.8-1.5 12-2.3 24.3-5.5 9.9-2.6 9.1-2.7 6.7-2.2 7.8-2.9 10.6-4.3 7.7-3.3 5.7-2.7 5.6-2.9 5.3-3.1 5.3-3.3 7.4-5.2 7.4-6.2 8.8-8.2 6.3-6.9 5.6-7.2 5.3-7.9 5.7-9.5 3.8-7.9 2.5-6 2.5-6.9 2.8-8.9 1.8-6.6 11.6-51.9 6.7-32.9 3.5-15.5 1.4-4.5 1.1-2.6 1.4-1.9 .7-.2 1 .8 1.4 1.8 1.1 1.9 1.1 3 .7 3.6 5.6 36.1 3.9 21.7 3.8 18.1 3.6 17.5 4.2 17.3 3.9 12.4 2.1 5.7 1.8 4.2 2.4 5.1 2.8 5.2 2.9 4.6 2.8 3.9 4.9 5.9 10.9 11.6 8.1 7.8 8.5 7.5 7.7 6.1 8.5 6 8.4 5.5 9.2 5.3 7.1 3.7 10.5 5 6 2.5 5.3 1.8 5.6 1.5 3.6 .8 8.4 .7 7.1 .1 8.1-1.2 2.8-.1 1.4 .6 1.8 1.3 2.1 2.2 .7 1.2 1 2.6 1.8 5.4 1.8 6.7 1.7 8.8 2.1 13.2 3.2 26.3 8.1 73.3 2.8 23.6 2.1 14.7 1.4 7.9 2.5 10.5 .7 1.9 1.1 2 2.1 3 1.4 1.2 3.2 1.8 2.1 .7 1.7 .2 199.8 0"/>
<path class="c" stroke="#4e4e4e" d="M1212.4 401.2l3.2 1.5 6.3 3.5 9.2 4.5 3.8 1.6 7.1 2.3 3.2 1.5 2.8 2 5.6 5.1 2.5 2 4.2 2.7 16.9 9.8 5.3 3.3 3.5 2.6 7.8 6.7 3.2 2.2 5.6 2.9 21.5 9.3 6.3 3.5 6.7 4.2 5.3 3.9 21.8 17.6 14.8 13.2 3.2 2.3 7.1 4.5 3.8 3.1 3.2 3.6 6.3 8.5 7.1 8.7 3.2 3.5 2.4 2.2 2.8 2.1 3.6 2.2 10.9 5.9 3.9 1.4 7 1.3 2.5 .1 440.7-.1 2.1-.4 2.2-.6 8.8-3.5 4.9-2.4 5.6-3.3 5-3.3 8.4-6.6 10.9-9.4 9.6-7.1 9.5-6.1 5.6-3.4 4.2-2.1 6.4-2.8 4.2-1.5 4.9-1.4 14.5-3 16.5-2.7 47.6-7.2"/>
<path class="c" stroke="#730a11" d="M1212.4 392.7l14.1-2.3 29.2-3.9 18-2.9 8.5-1.7 7-1.7 6.7-1.9 7.7-2.5 23.3-8.2 7-3 5.7-2.7 7-4 18.4-10.9 6.6-4.9 7.1-5.9 4.6-4.3 4.6-4.8 4.5-5.4 2.8-3.8 3.9-6.1 5-8.7 3.5-6.8 2.4-5.5 2.9-8.1 4.2-15.4 13.4-57.2 3.2-12.2 1.4-4.2 1.7-3.3 1.8-1.9 .7-.5 .7 0 1.8 1.2 1 1.2 1.4 2.7 .7 2 4.6 21.9 4.2 23 5.3 25.1 1.1 4.4 1.7 6.1 3.9 10.9 3.5 8.3 3.9 7.9 4.6 8.3 5.6 9.5 4.6 7.1 4.6 6.4 4.6 5.6 5.6 6.4 6 6.1 6.3 5.9 6.4 5.2 7.4 5.4 7.7 5.2 8.5 5.2 10.2 5.7 12 6.5 9.8 4.9 9.6 4.4 8.8 3.7 9.1 3.4 11.7 3.8 13.3 4 11 3 10.5 2.3 4.3 1.4 2.1 1 1.7 1.2 2.1 2.1 2.5 3.1 1.8 2.8 1.4 3 1.7 4.8 1.1 3.8 1.1 6.4 2.4 18.8 5 33.4 3.5 19.2 2.4 11.2 1.1 3.7 1.4 3.8 1.8 4.2 1.7 3.6 1.4 2.3 1.1 1.4 1.1 .9 1.7 1.1 4.2 1.9 2.2 .5 1.7 .2 98.3 0 16.9-.8 39.1-2.8 37.7-1.5 32.5-1.7 24.6-1.6 18-1.3 40.5-3.5 12-1.3 9.1-1.5 10.6-2.4 6.3-1.8 .4-.3 8.1-3"/>
<path class="c" stroke="#064b7e" d="M1212.4 392.8l2.5-.5 1.7-1 2.1-2.2 3.2-4.5 1.4-2.8 3.5-9.7 4.3-9.8 1.4-2.4 3.2-3.2 1.4-.9 1-.2 1.1 .1 1 .6 3.9 3.6 4.6 5.7 3.5 2.9 1.8 1.1 1 .4 1.4 0 1.8-.3 1.8-.7 2.4-1.3 1.8-2.1 4.6-7.7 4.9-9.2 4.9-7.7 1.4-1.6 2.9-2.5 1.4-.9 1.4-.6 1.7 0 3.2 .2 2.5 .4 1.4 .5 14.4 8.4 3.9 1.7 4.6 1.8 4.6 1.2 9.5 1.4 21.8 2 10.2 .4 20.8-.3 14.8-1 16.6-.7 6.7-.4 6.7-.8 10.2-1.6 12-2.3 24.3-5.5 9.8-2.6 9.2-2.7 6.7-2.3 7.7-2.9 10.6-4.2 7.8-3.4 5.6-2.7 5.6-2.9 5.3-3.1 5.3-3.3 7.4-5.3 7.4-6.1 8.8-8.3 6-6.6 5.6-7.1 5.3-7.9 5.7-9.5 3.8-7.9 2.5-6 2.5-6.8 2.8-9 1.8-6.5 11.6-51.9 6.7-33 3.5-15.6 1.4-4.5 1.1-2.6 1.4-1.9 .7-.2 1 .8 1.4 1.8 1.1 2 1.1 2.9 6.3 39.8 3.9 21.8 3.8 18.1 3.6 17.5 4.2 17.3 3.9 12.3 2.1 5.8 1.8 4.1 2.4 5.1 2.8 5.2 2.9 4.6 2.8 3.9 4.9 5.9 10.6 11.2 7.7 7.5 8.8 7.8 7.8 6.1 8.8 6.3 8.4 5.5 9.2 5.3 7.1 3.7 10.5 5 6 2.5 5.3 1.8 5.6 1.5 3.6 .8 8.4 .7 7.1 .1 8.1-1.2 2.8-.1 1.4 .6 1.8 1.3 2.1 2.2 .7 1.2 1 2.6 1.8 5.4 1.8 6.7 1.7 8.8 2.1 13.2 3.2 26.3 8.1 73.3 2.8 23.6 2.1 14.7 1.4 7.9 2.5 10.5 .7 1.9 1.1 2 2.1 3 1.4 1.2 3.2 1.8 2.1 .7 1.7 .2 199.8 0"/>
<path class="c" stroke="#3f3f3f" d="M1212.4 405.2l7 3.7 5 2.3 3.1 1.2 6.7 2.2 3.2 1.5 2.8 2 5.7 5.1 2.4 2 4.3 2.7 16.9 9.9 5.3 3.3 3.5 2.5 7.7 6.7 3.2 2.2 5.6 2.9 21.5 9.4 6.7 3.6 6.7 4.3 5 3.6 21.8 17.6 14.8 13.3 3.2 2.2 7 4.6 3.5 2.7 3.2 3.5 6.7 8.9 7 8.7 3.2 3.5 2.5 2.2 2.8 2.1 3.5 2.2 10.9 5.9 3.9 1.4 7.1 1.3 2.4 .1 439.7-.1 2.8-.6 3.2-1.2 7.4-3.3 4.6-2.6 6.7-4.3 13-8.9 10.9-8.2 22.9-15.7 5.3-3.1 7.4-3.3 4.3-1.4 5.2-1.5 15.5-3.2 15.2-2.5 44.4-6.7 10.9-2"/>
<path class="c" stroke="#5c080d" d="M1212.4 391.9l10.6-1.7 28.2-3.7 20.4-3.5 8.4-1.7 6.4-1.6 7.4-2.2 9.1-3.1 13.4-4.7 7.4-2.8 6.7-2.9 5.7-2.8 19.3-11.3 5.3-3.3 7.1-5.2 7-6 4.6-4.4 4.2-4.5 4.3-5 2.8-3.9 3.8-6.1 5-8.7 3.1-6.1 2.5-5.5 2.8-7.9 4.3-15.5 13.3-57.2 3.6-13.5 1-3.1 1.8-3.4 1.8-2 .7-.5 .7-.1 .7 .3 1 .8 1.1 1.2 1.4 2.6 .7 1.9 4.9 23.7 3.9 21.2 5.6 26.7 2.9 10.2 3.5 9.9 3.5 8.2 3.9 7.9 4.6 8.4 5.6 9.4 4.6 7.1 4.6 6.4 4.5 5.7 5.7 6.3 6 6.2 6.3 5.8 6.3 5.2 7.1 5.2 7.7 5.2 8.5 5.2 10.2 5.8 11.6 6.2 10.3 5.2 9.5 4.4 8.8 3.7 9.1 3.4 11.3 3.7 13.4 4 11.6 3.3 11 2.4 4.2 1.4 2.1 1 1.8 1.4 2.4 2.5 2.1 2.7 1.8 3 1.8 4 1.7 5.3 .7 3.1 3.2 23.3 4.9 33.4 3.5 19.3 2.5 11.3 1.1 3.8 1 2.9 2.1 5.2 1.8 3.6 1.4 2.4 1.1 1.4 1 .9 2.1 1.3 4.3 1.9 1.7 .4 1.8 .2 99.3-.1 16.6-.7 38.4-2.8 43-1.8 39.4-2.2 20.1-1.3 19.4-1.6 33.8-3 12.7-1.5 9.5-1.7 10.9-2.8 2.9-.8 13-5"/>
<path class="c" stroke="#053c65" d="M1212.4 392.6l3.9-.5 1.4-.8 2.4-2.4 3.2-4.4 1.4-2.7 3.6-9.6 4.2-9.8 1.7-2.8 3.2-3 1.4-.8 1.1-.2 1 .2 1.1 .6 3.9 3.6 4.5 5.5 3.2 2.7 1.8 1.2 1.4 .6 1 0 1.8-.3 1.8-.6 2.4-1.3 1.8-2 4.6-7.8 4.9-9.2 4.9-7.9 1.5-1.6 2.4-2.2 1.4-1 1.4-.6 1.4-.1 3.2 .2 2.8 .4 1.4 .4 14.5 8.5 4.2 2 4.2 1.6 4.6 1.2 9.2 1.3 21.5 2 9.8 .4 20.8-.3 14.8-1 16.6-.7 6.7-.4 6.7-.8 10.2-1.6 12-2.3 24.3-5.5 9.8-2.6 9.2-2.7 6.7-2.3 7.7-2.9 10.6-4.2 7.8-3.4 5.6-2.7 5.6-2.9 5.3-3.1 5.3-3.3 7.4-5.2 7.8-6.5 8.4-8 6.4-6.9 5.6-7.2 5.3-7.9 5.6-9.6 3.9-8.1 2.5-6 2.4-7 2.5-7.9 1.8-6.5 11.6-52 6.7-33 3.5-15.7 1.4-4.5 1.1-2.6 1.4-1.9 .7-.2 1 .8 1.4 1.8 1.1 2 1.1 3 5.9 37.7 3.9 22.1 7.4 35.9 4.2 17.6 3.9 12.6 2.1 5.8 1.8 4.3 2.5 5.2 2.8 5.2 2.8 4.6 3.2 4.5 4.9 5.8 10.6 11.2 7.7 7.5 8.8 7.8 7.8 6.2 8.8 6.2 8.4 5.5 9.2 5.3 7.1 3.7 10.5 5 6 2.5 5.3 1.8 5.6 1.5 3.6 .8 8.4 .7 7.1 .1 8.1-1.2 2.8-.1 1.4 .6 1.8 1.3 2.1 2.2 .7 1.2 1 2.6 1.8 5.4 1.8 6.7 1.7 8.8 2.1 13.2 3.2 26.3 8.1 73.3 2.8 23.6 2.1 14.7 1.4 7.9 2.5 10.5 .7 1.9 1.1 2 2.1 3 1.4 1.2 3.2 1.8 2.1 .7 1.7 .2 199.8 0"/>
<path class="c" stroke="#2f2f2f" d="M1212.4 408.2l7.4 3.5 8.8 2.9 3.5 1.7 2.5 1.9 5.6 5.1 2.5 1.9 4.2 2.7 16.9 9.9 5.3 3.3 3.5 2.6 7.8 6.6 3.5 2.5 5.3 2.7 21.5 9.3 6.7 3.6 7 4.5 5 3.7 21.8 17.6 14.5 13 3.1 2.3 7.1 4.5 3.5 2.8 3.2 3.4 6.7 9 7 8.7 3.2 3.5 2.4 2.2 2.9 2 3.5 2.3 10.9 5.8 3.9 1.4 4.2 .9 3.2 .4 440.7 0 2.5-.5 2.8-1.1 7.1-3.2 3.5-2 11.6-7.7 12.7-8.1 8.1-5.7 13.7-9.2 11.7-8.4 4.9-2.7 6.3-2.8 3.9-1.3 4.9-1.3 14.8-3.1 15.5-2.7 46.9-7 8.8-1.7 6.7-1.8"/>
<path class="c" stroke="#45060a" d="M1212.4 391.5l9.2-1.4 28.5-3.8 13.4-2.2 10.6-2 7.7-1.8 7-2 22.6-7.6 8.5-3.1 6.6-2.7 5.3-2.6 6.4-3.4 16.2-9.6 4.9-3.1 7.1-5.3 6.7-5.7 4.5-4.5 4.3-4.5 3.8-4.6 2.9-3.8 4.2-6.7 4.9-8.8 3.2-6.2 2.5-5.6 2.8-8.2 4.2-15.6 13-56 3.6-13.5 1-3.2 1.8-3.4 1.7-2 .7-.5 .7-.1 .8 .3 1 .8 1.1 1.2 1.4 2.6 .7 1.9 4.6 22 4.2 23 5.3 25.2 1 4.4 1.8 6.2 3.9 11 3.5 8.2 3.9 7.9 4.5 8.4 5.7 9.4 4.6 7.1 4.5 6.4 4.6 5.6 5.7 6.4 5.9 6.1 6.4 5.9 6.3 5.1 7.4 5.5 7.8 5.1 8.4 5.2 10.3 5.8 11.6 6.2 10.2 5.2 9.5 4.3 8.8 3.7 8.8 3.3 11.3 3.7 13.4 4 11.6 3.3 10.9 2.4 4.3 1.4 2.1 1 1.7 1.4 2.5 2.5 2.1 2.7 1.8 3 1.7 4 1.8 5.2 .7 3.2 3.2 23.2 4.9 33.4 3.5 19.3 2.5 11.4 1.1 3.8 1 2.9 2.1 5.2 1.8 3.6 1.4 2.4 1.4 1.7 1.1 .9 1.7 1 4.3 1.9 1.7 .4 1.8 .2 99.3-.1 16.6-.7 38-2.7 45.8-2 40.9-2.3 19-1.3 20.5-1.7 30.6-2.7 12.7-1.6 9.2-1.7 10.9-2.8 2.5-.7 15.1-5.7"/>
<path class="c" stroke="#042d4c" d="M1212.4 392.3l4.9-.4 1.1-.4 2.1-1.6 2.5-3 2.1-3 .7-1.3 3.9-10.3 4.5-10.3 1.5-2.3 3.1-3 1.4-.9 1.1-.2 1 .1 1.1 .6 4.2 3.7 5 5.9 2.8 2.4 1.7 1.2 1.5 .5 1 0 1.8-.3 1.7-.7 2.5-1.3 1.8-2.2 4.5-8 4.6-8.8 5-7.9 1-1.2 2.8-2.6 1.4-1 1.4-.6 4.6 .2 2.5 .4 1.4 .4 14.1 8.4 3.9 1.9 4.5 1.8 4.6 1.2 8.8 1.3 21.2 2 9.8 .4 20.8-.3 14.8-1 16.6-.7 6.7-.4 6.7-.8 10.2-1.6 12-2.3 24.3-5.5 9.8-2.6 9.2-2.7 6.7-2.3 7.7-2.9 10.6-4.2 7.8-3.4 5.6-2.6 5.6-3 5.3-3 5.3-3.4 7.4-5.2 7.8-6.5 8.4-7.9 6.4-6.9 5.6-7.2 5.3-7.9 5.6-9.6 3.9-8 2.5-6.1 2.4-6.9 2.5-7.9 1.8-6.5 11.6-52 6.7-33.2 3.5-15.6 1.4-4.6 1.1-2.6 1.4-1.9 .7-.2 1 .8 1.4 1.8 1.1 2 1.1 3 5.9 37.9 3.9 22.1 7.4 35.9 4.2 17.6 3.9 12.5 2.1 5.9 1.8 4.2 2.5 5.2 2.8 5.2 2.8 4.6 2.8 4 5 5.9 10.5 11.2 7.8 7.5 8.8 7.9 7.7 6.1 8.8 6.3 8.5 5.5 9.2 5.3 7 3.7 10.9 5.2 6 2.5 5.3 1.8 5.6 1.5 3.6 .8 8.4 .7 7.1 .1 8.1-1.2 2.8-.1 1.4 .6 1.8 1.3 2.1 2.2 .7 1.2 1 2.6 1.8 5.4 1.8 6.7 1.7 8.8 2.1 13.2 3.2 26.3 8.1 73.3 2.8 23.6 2.1 14.7 1.4 7.9 2.5 10.5 .7 1.9 1.1 2 2.1 3 1.4 1.2 3.2 1.8 2.1 .7 1.7 .2 199.8 0"/>
<path class="c" stroke="#1f1f1f" d="M1212.4 410.9l3.5 1.5 7.1 2.3 3.5 1.7 2.5 1.8 5.2 4.8 2.5 2 4.6 2.9 16.9 9.9 5.3 3.3 3.5 2.6 7.8 6.7 3.5 2.4 5.3 2.7 21.5 9.3 7 3.9 7 4.5 4.6 3.4 21.9 17.7 14.4 12.9 2.8 2.1 7.4 4.7 3.6 2.8 3.1 3.5 6.7 8.9 7.1 8.7 3.1 3.5 2.5 2.2 2.8 2.1 3.5 2.2 11 5.8 3.8 1.4 4.3 .9 3.1 .4 439.4 0 2.4-.4 2.5-.9 7.4-3.6 2.5-1.3 12.7-8.7 14.1-8.4 19-12.3 3.5-2.6 7.4-5.7 3.5-2.5 4.6-2.5 5.6-2.4 4.3-1.4 5.3-1.4 17.9-3.7 13.1-2.2 42.2-6.3 8.8-1.6 5.7-1.2 3.9-1.1 3.5-1.4 3.5-1.8"/>
<path class="c" stroke="#2e0407" d="M1212.4 391.3l36.6-5 13.8-2.3 10.5-2 7.4-1.7 7.4-2.1 23.7-8.1 8.1-3 6.6-2.8 5.3-2.6 6.7-3.8 15.2-8.9 4.9-3.1 7.1-5.4 6.6-5.8 4.6-4.5 4.3-4.6 3.5-4.1 3.2-4.4 4.2-6.9 4.9-8.8 2.8-5.6 2.5-5.7 2.8-8.3 3.9-14.3 13.4-57.5 3.1-12.3 1.5-4.1 1.4-2.7 1.4-1.8 1-.9 .7-.2 1.1 .4 1.8 1.7 1.7 3.3 .7 2.3 4.6 22.2 3.9 21.4 5.6 26.8 2.8 10.3 3.6 9.9 3.5 8.3 3.9 8 4.5 8.3 5.7 9.5 4.6 7.1 4.5 6.4 4.6 5.6 5.6 6.4 6 6.1 6.4 5.9 6.3 5.2 7.4 5.4 7.8 5.2 8.4 5.1 10.2 5.8 12 6.4 9.9 5 9.5 4.4 8.8 3.7 9.2 3.4 11.2 3.7 13.4 4 11.7 3.2 10.5 2.3 4.3 1.4 2.1 1 1.7 1.3 2.1 2.1 2.5 3.1 1.8 2.9 1.7 3.9 1.4 4 1.1 4 1.1 6.6 2.1 16.4 5.3 35.7 3.5 19.1 2.4 11.1 1.1 3.6 1.4 3.7 1.8 4.2 1.7 3.6 1.4 2.3 1.1 1.3 1.1 .9 2.1 1.2 4.2 1.8 1.8 .4 1.7 .2 99.4-.1 16.2-.7 38.4-2.8 47.2-2 42.3-2.4 24.3-1.8 37.3-3.2 10.6-1.1 8.1-1 9.2-1.8 10.5-2.7 18.7-6.8"/>
<path class="c" stroke="#021e32" d="M1212.4 391.9l6-.3 1-.2 1.1-.5 1.1-.8 2.1-2.3 2.4-3.3 1.1-1.8 4.2-11 4.6-10.1 1.1-1.7 1.4-1.5 1.7-1.6 1.4-.9 1.1-.3 1.1 .1 1 .4 1.1 .8 3.8 3.5 4.3 5.2 3.1 2.8 1.8 1.2 1.4 .4 1.8-.1 2.1-.7 2.5-1.2 1.4-1.4 1.4-2.2 3.8-6.9 4.3-8.2 4.6-7.7 1.4-1.8 2.4-2.3 1.8-1.4 1.4-.6 1.4-.1 2.8 .2 2.8 .3 1.5 .5 14.1 8.6 4.2 1.9 3.9 1.6 4.5 1.2 8.8 1.3 20.8 2 9.9 .4 20.4-.3 14.8-1 16.6-.7 6.7-.4 6.7-.8 10.2-1.6 12-2.3 24.3-5.5 9.8-2.6 9.2-2.7 6.7-2.3 7.7-2.9 10.6-4.2 7.8-3.4 5.6-2.6 5.6-3 5.3-3 5.3-3.3 7.4-5.3 7.8-6.4 8.4-8 6.4-6.9 5.6-7.1 5.3-7.9 5.6-9.6 3.9-8 2.5-6 2.4-7 2.5-7.8 1.8-6.5 11.6-52.1 6.7-33.2 3.5-15.7 1.4-4.6 1.1-2.6 1.4-1.9 .7-.2 1 .8 1.4 1.8 1.1 2 1.1 3.1 5.9 37.9 3.9 22.2 7.4 35.9 4.2 17.6 3.9 12.5 2.1 5.8 1.8 4.2 2.5 5.2 2.8 5.2 2.8 4.6 2.8 4 5 5.9 10.5 11.2 7.8 7.5 8.8 7.8 7.7 6.1 8.8 6.3 8.5 5.5 9.2 5.3 7 3.8 10.9 5.1 6 2.5 5.3 1.8 5.6 1.5 3.6 .8 8.4 .7 7.1 .1 8.1-1.2 2.8-.1 1.4 .6 1.8 1.3 2.1 2.2 .7 1.2 1 2.6 1.8 5.4 1.8 6.7 1.7 8.8 2.1 13.2 3.2 26.3 8.1 73.3 2.8 23.6 2.1 14.7 1.4 7.9 2.5 10.5 .7 1.9 1.1 2 2.1 3 1.4 1.2 3.2 1.8 2.1 .7 1.7 .2 199.8 0"/>
<path class="c" stroke="#101010" d="M1212.4 412.9l5.6 1.9 3.6 1.8 2.1 1.6 5.6 5.1 2.5 1.9 4.2 2.7 16.9 9.9 5.3 3.3 3.5 2.6 7.8 6.6 3.1 2.3 5.7 2.9 17.2 7.3 4.6 2.2 7.1 3.9 7 4.5 4.2 3.2 21.9 17.6 14.4 13 3.2 2.3 7.1 4.5 3.5 2.8 3.1 3.4 6.7 9 7.1 8.7 3.2 3.5 2.4 2.2 2.8 2 3.6 2.3 11.2 6 3.6 1.2 4.5 .9 3.2 .4 438.3 0 2.1-.5 2.5-.9 9.1-4.6 13.4-9.4 15.5-8.5 15.9-9.8 4.2-3 8.8-7.1 3.9-2.8 4.2-2.3 4.6-2 4.2-1.5 5.3-1.5 18.3-3.8 13.4-2.3 43.7-6.5 12-2.4 6-1.7 5.3-2.4 3.1-2.1 3.9-3.7"/>
<path class="c" stroke="#170203" d="M1212.4 391.2l35.9-4.9 13.8-2.3 10.9-2.1 7-1.7 7.4-2.1 24-8.1 8.1-3.1 6.7-2.8 5.3-2.7 6.7-3.7 14.8-8.7 4.9-3.2 7.1-5.3 6.6-5.8 4.3-4.2 4.2-4.5 3.9-4.6 2.8-3.9 3.9-6.2 4.9-8.8 3.2-6.1 2.4-5.6 2.9-8 4.2-15.6 13.4-57.7 3.1-12.2 1.1-3.2 1.8-3.4 1.7-2.1 .7-.5 .7-.1 .7 .3 1.1 .8 1.1 1.2 1.4 2.6 .7 2 4.5 22.1 4.3 23.1 5.3 25.3 2.8 10.5 3.9 10.9 3.5 8.3 3.9 7.9 4.5 8.3 5.7 9.5 4.5 7 4.3 5.9 4.6 5.7 5.6 6.3 6 6.2 6.3 5.8 6.4 5.2 7.4 5.5 7.7 5.1 8.5 5.2 10.2 5.8 11.6 6.2 10.2 5.2 9.5 4.4 8.9 3.7 9.1 3.4 11.3 3.7 13.4 4 11.6 3.3 10.9 2.4 4.3 1.3 2.1 1.1 1.7 1.3 2.5 2.6 2.1 2.7 1.8 3 1.7 3.9 1.8 5.3 .7 3.1 3.2 23.2 4.9 33.4 3.5 19.4 2.5 11.4 1 3.7 1.1 3 2.1 5.1 1.8 3.7 1.4 2.4 1.4 1.7 1.1 .9 1.7 1 4.2 1.9 1.8 .4 1.8 .2 99.7-.1 16.2-.7 38-2.7 47.6-2.1 42.6-2.4 24.3-1.8 37-3.2 10.6-1.1 8.1-1.1 9.2-1.7 10.5-2.8 5.7-1.9 13.7-5.1"/>
<path class="c" stroke="#010f19" d="M1212.4 391.5l7.4-.2 1.1-.1 1.7-1 2.1-2.1 2.8-3.6 1.1-1.7 4.2-10.8 3.6-8 1.4-2.7 1-1.6 1.8-1.7 1.4-1.3 1.4-.8 1.1-.3 1 .1 2.1 1.2 3.6 3.2 4.5 5.7 3.2 2.7 1.8 1.2 1.4 .3 1.7-.2 1.8-.5 2.5-1.2 1.4-1.4 1.4-2.2 3.9-7 4.2-8.4 4.6-7.7 1.4-1.8 2.8-2.6 1.4-1 1.4-.6 4.6 .2 2.1 .3 1.4 .5 13.8 8.5 3.8 1.9 4.3 1.7 4.5 1.2 8.8 1.4 20.5 1.9 9.8 .4 20.1-.3 14.8-1 16.6-.7 7-.5 6.7-.8 9.9-1.5 12.3-2.4 24-5.4 9.8-2.6 9.2-2.7 6.7-2.3 7.7-2.9 10.6-4.2 7.8-3.4 5.6-2.6 5.6-3 5.3-3 5.3-3.3 7.4-5.3 7.4-6.1 8.8-8.2 6.4-6.9 5.6-7.2 5.3-7.8 5.6-9.6 3.9-7.9 2.5-6.1 2.4-6.9 2.5-7.8 1.8-6.5 11.9-53.8 6.4-31.6 3.5-15.8 1.4-4.5 1.1-2.7 1.4-1.9 .7-.2 1 .8 1.4 1.8 1.1 2 1.1 3.1 5.9 38.1 3.9 22.1 7.4 36.1 4.2 17.4 3.9 12.6 2.1 5.8 1.8 4.2 2.5 5.1 2.8 5.2 2.8 4.6 2.8 4 5 5.9 10.5 11.1 7.8 7.5 8.8 7.8 7.7 6.2 8.8 6.2 8.5 5.5 9.2 5.4 7 3.7 10.9 5.1 6 2.5 5.3 1.8 5.6 1.5 3.6 .8 8.4 .7 7.1 .1 8.1-1.2 2.8-.1 1.4 .6 1.8 1.3 2.1 2.2 .7 1.2 1 2.6 1.8 5.4 1.8 6.7 1.7 8.8 2.1 13.2 3.2 26.3 8.1 73.3 2.8 23.6 2.1 14.7 1.4 7.9 2.5 10.5 .7 1.9 1.1 2 2.1 3 1.4 1.2 3.2 1.8 2.1 .7 1.7 .2 199.8 0"/>
<path class="c" stroke="#000000" d="M1212.4 414.3l3.2 1.3 2.1 1.3 7.7 6.8 3.6 2.6 20 11.8 5.7 3.6 3.1 2.4 7.1 6.1 3.2 2.3 5.6 2.9 21.8 9.5 7.1 3.9 7.4 4.8 4.2 3.1 21.9 17.7 14.1 12.7 3.1 2.3 7.4 4.7 3.5 2.9 3.2 3.5 6.7 8.9 7.1 8.7 3.1 3.5 2.5 2.1 2.8 2.1 3.5 2.2 11 5.8 3.8 1.3 4.6 1 3.2 .3 437.6 0 2.1-.4 2.1-.8 8.1-4.1 3.5-2.3 8.1-6.2 3.5-2.3 4.6-2.5 11.3-5.4 10.2-5.8 8.5-5.6 9.5-8 3.5-2.7 3.9-2.2 5.3-2.5 4.2-1.5 5.3-1.5 18.6-4 13.1-2.2 44.4-6.6 7.4-1.4 6.7-1.6 5.3-1.8 4.9-2.5 2.5-2 4.5-4.5 3.2-2.8"/>
<path class="c" stroke="#000000" d="M1212.4 391l34.9-4.7 14.1-2.3 10.9-2.1 7-1.7 7.4-2.1 24-8.2 8.1-3 6.7-2.9 5.6-2.8 6.7-3.8 14.5-8.5 4.9-3.2 7-5.3 6.7-5.8 4.3-4.1 4.2-4.6 3.9-4.6 2.8-3.9 3.9-6.2 4.9-8.8 3.2-6.1 2.4-5.6 2.9-8.2 4.2-15.6 13-56.4 3.2-12.4 1.4-4.3 1.8-3.3 1.7-2 .7-.5 .7 0 1.8 1.2 1 1.3 1.5 2.8 .7 2.2 4.5 22.3 3.9 21.4 5.7 27 2.8 10.3 3.5 9.9 3.5 8.3 3.9 8 4.6 8.4 5.6 9.4 4.6 7.1 4.6 6.4 4.6 5.6 5.2 6 6 6.1 6.4 5.9 6.3 5.2 7.4 5.4 7.8 5.2 8.4 5.2 10.2 5.8 12 6.4 10.2 5.1 9.5 4.4 8.8 3.7 9.2 3.4 11.6 3.9 13.4 4 11.3 3.1 10.6 2.3 4.2 1.4 2.1 1 1.8 1.3 2.1 2 2.4 3.1 1.8 2.9 1.4 2.9 1.8 4.8 1 3.9 1.1 6.5 2.5 18.8 4.9 33.3 3.5 19.2 2.5 11.2 1 3.7 1.4 3.7 1.8 4.3 1.8 3.6 1.4 2.3 1 1.3 1.1 .9 2.1 1.3 4.2 1.8 1.8 .4 1.8 .2 99.7-.1 16.2-.7 37.7-2.7 48.9-2.2 43.4-2.5 23.2-1.7 36.7-3.2 10.2-1 8.1-1.1 9.2-1.8 10.5-2.7 5.3-1.7 14.8-5.5"/>
<path class="c" stroke="#000000" d="M1212.4 391l2.1-.2 7.4 .2 1.8-.7 2.1-1.8 3.5-4.4 1.1-1.8 4.2-10.8 3.2-7.1 1.7-3.3 1.1-1.5 1.7-1.7 1.5-1.2 1.4-.8 1-.3 1.1 .1 2.1 1.2 3.5 3.3 4.6 5.7 2.8 2.5 1.8 1.2 1.4 .4 1.7-.1 1.8-.6 2.5-1.2 1.4-1.4 1.4-2.2 3.9-7.1 4.2-8.5 4.2-7.2 1.4-1.9 2.5-2.4 1.8-1.3 1.4-.7 4.2 .2 2.5 .3 1.4 .5 13.4 8.5 3.8 1.9 4.3 1.7 4.5 1.3 8.9 1.3 20 1.9 9.5 .4 20.1-.3 14.8-1 16.6-.7 7-.5 6.7-.8 9.9-1.5 12.3-2.4 24-5.4 9.8-2.6 9.2-2.7 6.7-2.3 7.7-2.9 10.6-4.2 7.8-3.3 5.6-2.7 5.6-3 5.3-3 5.3-3.3 7.4-5.2 7.4-6.1 8.8-8.3 6.4-6.8 5.6-7.2 5.3-7.8 5.6-9.6 3.9-7.9 2.5-6 2.1-5.9 4.2-13.9 12.3-55.2 6.4-31.7 2.8-12.9 1.4-5.4 1.4-4 .7-1.4 .7-.9 .7-.6 .4 0 1 .8 1.4 1.8 1.1 2.1 1.1 3.1 5.9 38.1 3.9 22.2 7.4 36.1 4.2 17.4 3.9 12.5 2.1 5.8 1.8 4.2 2.5 5.1 2.8 5.2 2.8 4.6 2.8 4 5 5.8 10.5 11.2 7.8 7.5 8.8 7.8 7.7 6.1 8.8 6.3 8.5 5.4 9.2 5.4 7 3.7 10.9 5.1 6 2.5 5.3 1.8 5.6 1.5 3.6 .8 8.4 .7 7.1 .1 8.1-1.2 2.8-.1 1.4 .6 1.8 1.3 2.1 2.2 .7 1.2 1 2.6 1.8 5.4 1.8 6.7 1.7 8.8 2.1 13.2 3.2 26.3 8.1 73.3 2.8 23.6 2.1 14.7 1.4 7.9 2.5 10.5 .7 1.9 1.1 2 2.1 3 1.4 1.2 3.2 1.8 2.1 .7 1.7 .2 199.8 0"/>
</g>
<rect class="bd" x="1214.5" y="10.5" width="841" height="546"/>
<rect x="1846.1" y="38.1" width="41.4" height="40.6" fill="#f4979e" stroke="#000" stroke-width="3"/>
<rect x="1972.1" y="38.1" width="41.6" height="40.6" fill="#000" stroke="#000" stroke-width="3"/>
<path d="M1846 95.3H2006" stroke="#000" stroke-width="3.3" fill="none"/><path d="M2014.6 95.3L2003.5 91.4V99.2Z" fill="#000" stroke="#000" stroke-width="0.6" stroke-linejoin="round"/>
<text class="tl" text-anchor="middle" x="1927.5" y="128" textLength="220" lengthAdjust="spacingAndGlyphs">Increasing thickness</text>
<text class="tl" text-anchor="middle" transform="translate(1091.3 283.5) rotate(-90)" textLength="141" lengthAdjust="spacingAndGlyphs">DoS (eV/cell)</text>
<text class="tl" text-anchor="middle" x="1635" y="642"><tspan class="it">E</tspan>-<tspan class="it">E</tspan><tspan class="sub" dy="7">Si peak</tspan><tspan dy="-7"> (eV)</tspan></text>
<text class="cap" text-anchor="middle" x="1586" y="722.4">(b)</text>
</g>
</svg>
</body></html>
